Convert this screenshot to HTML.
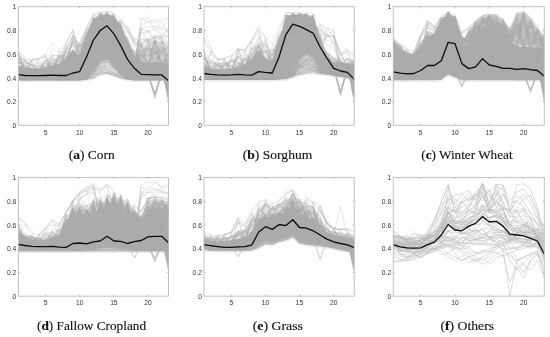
<!DOCTYPE html>
<html><head><meta charset="utf-8"><title>Figure</title>
<style>html,body{margin:0;padding:0;background:#fff}svg{display:block}</style></head>
<body>
<svg width="550" height="337" viewBox="0 0 550 337">
<rect width="550" height="337" fill="#fff"/>
<clipPath id="c0"><rect x="18.30" y="6.70" width="150.20" height="118.55"/></clipPath>
<g clip-path="url(#c0)">
<polygon fill="#ababab" fill-opacity="0.06" points="18.3,52.9 25.1,58.9 32.0,62.4 38.8,62.4 45.6,58.9 52.4,54.1 59.3,54.1 66.1,44.6 72.9,34.0 79.7,44.6 86.6,29.2 93.4,15.6 100.2,12.4 107.1,11.7 113.9,14.2 120.7,21.5 127.5,35.2 134.4,49.4 141.2,50.6 148.0,42.3 154.8,39.9 161.7,41.1 168.5,44.6 168.5,80.0 161.7,80.0 154.8,80.0 148.0,80.0 141.2,80.0 134.4,80.0 127.5,79.3 120.7,77.8 113.9,75.5 107.1,73.1 100.2,74.3 93.4,77.8 86.6,79.3 79.7,80.0 72.9,80.0 66.1,80.0 59.3,80.0 52.4,80.0 45.6,80.0 38.8,80.0 32.0,80.0 25.1,80.0 18.3,80.0"/>
<polygon fill="#ababab" fill-opacity="0.25" points="18.3,79.1 25.1,79.1 32.0,79.1 38.8,79.1 45.6,79.1 52.4,79.1 59.3,79.1 66.1,79.1 72.9,79.1 79.7,79.1 86.6,77.8 93.4,70.7 100.2,61.8 107.1,58.9 113.9,66.0 120.7,73.1 127.5,77.2 134.4,79.1 141.2,79.1 148.0,79.1 154.8,79.1 161.7,79.1 168.5,79.1 168.5,80.0 161.7,80.0 154.8,80.0 148.0,80.0 141.2,80.0 134.4,80.0 127.5,79.3 120.7,77.8 113.9,75.5 107.1,73.1 100.2,74.3 93.4,77.8 86.6,79.3 79.7,80.0 72.9,80.0 66.1,80.0 59.3,80.0 52.4,80.0 45.6,80.0 38.8,80.0 32.0,80.0 25.1,80.0 18.3,80.0"/>
<polygon fill="#ababab" fill-opacity="0.22" points="18.3,80.0 25.1,80.0 32.0,80.0 38.8,80.0 45.6,80.0 52.4,80.0 59.3,80.0 66.1,80.0 72.9,80.0 79.7,80.0 86.6,79.3 93.4,77.8 100.2,74.3 107.1,73.1 113.9,75.5 120.7,77.8 127.5,79.3 134.4,80.0 141.2,80.0 148.0,80.0 154.8,80.0 161.7,80.0 168.5,80.0 168.5,82.0 161.7,82.0 154.8,82.0 148.0,82.0 141.2,82.0 134.4,82.0 127.5,81.3 120.7,79.8 113.9,77.5 107.1,75.1 100.2,76.3 93.4,79.8 86.6,81.3 79.7,82.0 72.9,82.0 66.1,82.0 59.3,82.0 52.4,82.0 45.6,82.0 38.8,82.0 32.0,82.0 25.1,82.0 18.3,82.0"/>
<polygon fill="#ababab" fill-opacity="0.30" points="136.4,49.7 141.2,50.6 148.0,42.3 154.8,39.9 161.7,41.1 168.5,44.6 168.5,63.6 161.7,61.8 154.8,61.8 148.0,63.0 141.2,61.2 136.4,57.1"/>
<path d="M18.3 70.7L25.1 72.4L32.0 70.4L38.8 70.5L45.6 71.6L52.4 64.4L59.3 69.4L66.1 64.4L72.9 40.7L79.7 51.2L86.6 49.1L93.4 22.3L100.2 16.8L107.1 13.8L113.9 20.4L120.7 27.6L127.5 51.8L134.4 62.3L141.2 58.3L148.0 47.0L154.8 55.3L161.7 47.5L168.5 56.0M18.3 53.1L25.1 69.5L32.0 70.1L38.8 73.1L45.6 71.4L52.4 71.3L59.3 56.9L66.1 62.7L72.9 38.3L79.7 56.6L86.6 43.0L93.4 30.1L100.2 17.0L107.1 16.3L113.9 24.7L120.7 24.5L127.5 48.4L134.4 62.9L141.2 66.0L148.0 67.2L154.8 61.8L161.7 55.4L168.5 64.0M18.3 53.1L25.1 72.2L32.0 71.9L38.8 73.2L45.6 72.3L52.4 65.3L59.3 60.9L66.1 64.2L72.9 42.0L79.7 48.3L86.6 35.1L93.4 28.8L100.2 20.0L107.1 17.9L113.9 21.9L120.7 22.6L127.5 50.7L134.4 56.6L141.2 61.8L148.0 66.7L154.8 48.8L161.7 65.8L168.5 51.7M18.3 54.4L25.1 72.0L32.0 65.6L38.8 62.8L45.6 67.5L52.4 54.9L59.3 55.7L66.1 50.1L72.9 54.9L79.7 55.9L86.6 32.0L93.4 24.0L100.2 13.4L107.1 16.2L113.9 24.1L120.7 36.0L127.5 45.6L134.4 57.7L141.2 60.4L148.0 50.7L154.8 49.6L161.7 55.4L168.5 55.2M18.3 54.6L25.1 60.1L32.0 63.4L38.8 72.8L45.6 71.5L52.4 59.8L59.3 60.5L66.1 48.4L72.9 35.8L79.7 44.8L86.6 44.1L93.4 29.0L100.2 20.0L107.1 18.7L113.9 21.1L120.7 26.4L127.5 50.3L134.4 61.3L141.2 52.8L148.0 66.0L154.8 51.7L161.7 52.9L168.5 46.9M18.3 56.9L25.1 68.6L32.0 63.7L38.8 69.3L45.6 72.2L52.4 68.9L59.3 67.4L66.1 61.6L72.9 58.2L79.7 56.5L86.6 48.8L93.4 25.4L100.2 17.5L107.1 17.4L113.9 19.6L120.7 36.8L127.5 41.7L134.4 62.7L141.2 58.3L148.0 63.7L154.8 59.7L161.7 42.2L168.5 45.9M18.3 67.1L25.1 71.4L32.0 71.9L38.8 73.1L45.6 71.5L52.4 60.6L59.3 57.0L66.1 45.1L72.9 46.3L79.7 46.8L86.6 34.9L93.4 25.3L100.2 14.4L107.1 14.9L113.9 24.7L120.7 36.5L127.5 44.2L134.4 58.7L141.2 56.6L148.0 54.4L154.8 64.2L161.7 51.5L168.5 45.5M18.3 61.2L25.1 65.8L32.0 72.0L38.8 68.8L45.6 71.2L52.4 62.3L59.3 65.0L66.1 48.1L72.9 36.4L79.7 48.1L86.6 46.9L93.4 28.9L100.2 17.3L107.1 13.6L113.9 18.7L120.7 32.1L127.5 46.8L134.4 62.4L141.2 54.5L148.0 48.4L154.8 51.3L161.7 62.0L168.5 58.2M18.3 70.9L25.1 70.7L32.0 71.9L38.8 71.0L45.6 62.8L52.4 55.7L59.3 69.4L66.1 52.2L72.9 58.1L79.7 53.5L86.6 37.0L93.4 22.7L100.2 18.3L107.1 18.1L113.9 23.8L120.7 32.6L127.5 52.0L134.4 61.6L141.2 53.4L148.0 61.1L154.8 62.3L161.7 42.4L168.5 57.0M18.3 69.1L25.1 59.9L32.0 73.2L38.8 64.2L45.6 72.9L52.4 58.7L59.3 67.9L66.1 58.0L72.9 43.8L79.7 53.7L86.6 35.8L93.4 22.9L100.2 19.2L107.1 18.5L113.9 20.3L120.7 30.1L127.5 47.4L134.4 51.8L141.2 65.1L148.0 63.4L154.8 52.6L161.7 53.6L168.5 68.2M18.3 69.7L25.1 67.9L32.0 71.5L38.8 72.2L45.6 59.9L52.4 70.0L59.3 55.4L66.1 63.6L72.9 58.1L79.7 46.6L86.6 29.3L93.4 29.1L100.2 20.0L107.1 17.2L113.9 24.8L120.7 22.6L127.5 51.0L134.4 53.0L141.2 61.9L148.0 65.4L154.8 67.1L161.7 50.2L168.5 68.1M18.3 55.8L25.1 59.8L32.0 66.9L38.8 73.2L45.6 66.1L52.4 69.9L59.3 55.2L66.1 60.0L72.9 56.7L79.7 48.1L86.6 46.0L93.4 20.3L100.2 15.2L107.1 18.6L113.9 14.5L120.7 35.1L127.5 46.7L134.4 61.7L141.2 58.2L148.0 54.2L154.8 63.3L161.7 51.2L168.5 65.8M18.3 68.0L25.1 67.9L32.0 67.7L38.8 69.9L45.6 60.7L52.4 71.0L59.3 63.0L66.1 48.9L72.9 42.0L79.7 51.8L86.6 45.3L93.4 28.5L100.2 19.4L107.1 14.9L113.9 23.9L120.7 36.7L127.5 45.7L134.4 62.3L141.2 64.7L148.0 63.3L154.8 60.4L161.7 62.2L168.5 66.5M18.3 57.8L25.1 68.5L32.0 69.0L38.8 73.0L45.6 68.2L52.4 65.4L59.3 64.6L66.1 63.8L72.9 34.9L79.7 46.1L86.6 40.0L93.4 20.2L100.2 14.2L107.1 18.1L113.9 22.5L120.7 27.7L127.5 45.5L134.4 52.7L141.2 60.6L148.0 60.9L154.8 53.2L161.7 67.4L168.5 66.0M18.3 69.9L25.1 72.0L32.0 70.3L38.8 68.0L45.6 63.5L52.4 65.8L59.3 68.9L66.1 52.8L72.9 34.7L79.7 46.3L86.6 31.4L93.4 20.8L100.2 19.1L107.1 16.3L113.9 23.5L120.7 36.9L127.5 36.9L134.4 62.2L141.2 60.9L148.0 47.1L154.8 44.8L161.7 54.9L168.5 65.5M18.3 59.2L25.1 64.0L32.0 72.0L38.8 68.6L45.6 72.9L52.4 63.6L59.3 56.6L66.1 54.9L72.9 53.6L79.7 56.2L86.6 47.8L93.4 29.5L100.2 19.7L107.1 13.1L113.9 23.5L120.7 30.8L127.5 47.7L134.4 61.5L141.2 60.9L148.0 66.9L154.8 56.7L161.7 65.5L168.5 56.7M18.3 68.4L25.1 63.3L32.0 65.0L38.8 66.5L45.6 72.5L52.4 68.6L59.3 57.8L66.1 57.3L72.9 49.6L79.7 45.3L86.6 49.4L93.4 21.1L100.2 18.8L107.1 18.0L113.9 18.9L120.7 32.3L127.5 38.9L134.4 57.5L141.2 59.2L148.0 66.0L154.8 42.9L161.7 67.4L168.5 56.9M18.3 63.2L25.1 62.6L32.0 64.6L38.8 72.9L45.6 72.8L52.4 63.2L59.3 67.4L66.1 52.1L72.9 52.1L79.7 55.7L86.6 46.1L93.4 18.9L100.2 18.2L107.1 17.4L113.9 23.9L120.7 25.7L127.5 51.0L134.4 63.0L141.2 55.5L148.0 62.6L154.8 42.3L161.7 52.6L168.5 56.8M18.3 58.7L25.1 69.3L32.0 73.0L38.8 72.3L45.6 68.3L52.4 69.9L59.3 59.7L66.1 61.5L72.9 39.8L79.7 56.6L86.6 41.0L93.4 18.2L100.2 18.9L107.1 18.3L113.9 23.0L120.7 34.3L127.5 42.0L134.4 62.7L141.2 55.6L148.0 65.3L154.8 65.0L161.7 61.4L168.5 60.5M18.3 63.0L25.1 60.8L32.0 66.4L38.8 66.8L45.6 65.0L52.4 63.0L59.3 62.2L66.1 51.4L72.9 55.6L79.7 51.4L86.6 31.4L93.4 20.4L100.2 12.7L107.1 18.3L113.9 21.1L120.7 31.2L127.5 43.9L134.4 59.7L141.2 58.0L148.0 66.3L154.8 66.9L161.7 67.4L168.5 55.0M18.3 59.8L25.1 71.3L32.0 72.3L38.8 65.5L45.6 67.3L52.4 68.3L59.3 58.4L66.1 57.5L72.9 53.6L79.7 54.7L86.6 48.0L93.4 28.2L100.2 17.7L107.1 15.1L113.9 16.5L120.7 23.8L127.5 39.6L134.4 63.0L141.2 65.1L148.0 64.7L154.8 65.8L161.7 65.9L168.5 52.4M18.3 57.4L25.1 67.5L32.0 64.4L38.8 72.1L45.6 72.8L52.4 66.0L59.3 57.4L66.1 59.2L72.9 39.9L79.7 45.4L86.6 39.6L93.4 22.2L100.2 12.6L107.1 12.8L113.9 19.8L120.7 33.8L127.5 41.0L134.4 59.6L141.2 64.6L148.0 58.8L154.8 41.0L161.7 63.0L168.5 58.3M18.3 60.3L25.1 72.4L32.0 72.5L38.8 67.7L45.6 66.5L52.4 61.8L59.3 68.2L66.1 51.9L72.9 58.1L79.7 50.9L86.6 35.7L93.4 28.0L100.2 18.1L107.1 18.6L113.9 24.4L120.7 23.5L127.5 48.6L134.4 49.8L141.2 66.4L148.0 65.9L154.8 52.3L161.7 66.9L168.5 68.3M18.3 69.8L25.1 64.6L32.0 73.0L38.8 70.1L45.6 59.7L52.4 71.6L59.3 69.3L66.1 64.2L72.9 58.0L79.7 54.0L86.6 35.3L93.4 23.2L100.2 14.8L107.1 15.9L113.9 14.6L120.7 34.3L127.5 39.6L134.4 59.5L141.2 58.0L148.0 49.5L154.8 63.9L161.7 48.4L168.5 50.6M18.3 68.7L25.1 65.1L32.0 73.0L38.8 72.4L45.6 71.5L52.4 66.5L59.3 59.8L66.1 65.0L72.9 55.9L79.7 46.9L86.6 40.7L93.4 29.2L100.2 17.0L107.1 18.3L113.9 22.6L120.7 26.4L127.5 49.2L134.4 63.0L141.2 61.7L148.0 50.5L154.8 49.3L161.7 64.5L168.5 66.8M18.3 56.5L25.1 60.8L32.0 70.7L38.8 72.0L45.6 59.8L52.4 66.8L59.3 54.3L66.1 63.0L72.9 37.6L79.7 48.7L86.6 29.7L93.4 20.9L100.2 18.9L107.1 18.5L113.9 24.4L120.7 35.4L127.5 52.3L134.4 62.9L141.2 52.3L148.0 66.1L154.8 42.9L161.7 60.0L168.5 61.1M18.3 70.8L25.1 71.9L32.0 70.6L38.8 65.1L45.6 68.4L52.4 71.1L59.3 56.6L66.1 59.0L72.9 56.4L79.7 44.7L86.6 46.6L93.4 21.4L100.2 20.0L107.1 18.4L113.9 21.0L120.7 23.6L127.5 51.6L134.4 55.1L141.2 66.5L148.0 64.0L154.8 51.5L161.7 65.4L168.5 62.7M18.3 67.9L25.1 68.1L32.0 69.9L38.8 72.5L45.6 72.1L52.4 71.6L59.3 64.2L66.1 50.4L72.9 44.2L79.7 57.2L86.6 42.8L93.4 24.7L100.2 19.3L107.1 17.9L113.9 24.5L120.7 36.9L127.5 46.2L134.4 52.1L141.2 66.3L148.0 63.9L154.8 66.0L161.7 66.2L168.5 67.0M18.3 66.5L25.1 69.4L32.0 71.3L38.8 70.4L45.6 60.8L52.4 71.4L59.3 55.7L66.1 55.4L72.9 57.9L79.7 57.4L86.6 35.9L93.4 19.8L100.2 20.0L107.1 14.9L113.9 15.4L120.7 31.5L127.5 50.0L134.4 62.6L141.2 61.2L148.0 58.0L154.8 66.1L161.7 63.9L168.5 59.3M18.3 61.9L25.1 68.5L32.0 70.0L38.8 72.2L45.6 66.9L52.4 57.8L59.3 64.6L66.1 62.4L72.9 57.9L79.7 57.2L86.6 37.1L93.4 16.5L100.2 18.7L107.1 15.4L113.9 21.1L120.7 27.0L127.5 42.4L134.4 52.1L141.2 59.9L148.0 57.0L154.8 45.2L161.7 60.0L168.5 65.0M18.3 68.1L25.1 68.0L32.0 71.6L38.8 68.7L45.6 70.6L52.4 55.3L59.3 56.3L66.1 57.1L72.9 42.2L79.7 52.9L86.6 44.9L93.4 27.4L100.2 17.3L107.1 17.1L113.9 16.1L120.7 32.8L127.5 49.2L134.4 62.2L141.2 54.9L148.0 46.3L154.8 40.3L161.7 66.1L168.5 60.4M18.3 63.0L25.1 65.9L32.0 65.8L38.8 73.2L45.6 66.9L52.4 65.9L59.3 61.9L66.1 56.8L72.9 57.0L79.7 57.1L86.6 34.6L93.4 29.9L100.2 18.8L107.1 18.3L113.9 15.8L120.7 32.6L127.5 38.1L134.4 59.4L141.2 66.8L148.0 63.2L154.8 63.1L161.7 58.9L168.5 63.1M18.3 56.4L25.1 71.1L32.0 72.5L38.8 68.9L45.6 69.9L52.4 71.0L59.3 67.9L66.1 63.3L72.9 53.9L79.7 57.1L86.6 48.6L93.4 19.9L100.2 15.5L107.1 18.1L113.9 23.8L120.7 28.1L127.5 45.0L134.4 56.9L141.2 66.3L148.0 64.1L154.8 53.2L161.7 61.6L168.5 50.0M18.3 63.8L25.1 70.5L32.0 72.2L38.8 71.8L45.6 63.6L52.4 70.9L59.3 61.2L66.1 60.4L72.9 55.7L79.7 51.3L86.6 32.0L93.4 30.0L100.2 19.5L107.1 18.6L113.9 24.1L120.7 27.9L127.5 43.0L134.4 52.8L141.2 66.8L148.0 67.0L154.8 48.4L161.7 50.8L168.5 63.0M18.3 70.6L25.1 60.4L32.0 65.2L38.8 73.1L45.6 68.1L52.4 60.3L59.3 58.6L66.1 45.6L72.9 55.6L79.7 54.3L86.6 48.5L93.4 28.7L100.2 17.9L107.1 17.7L113.9 20.5L120.7 31.0L127.5 43.4L134.4 54.1L141.2 64.6L148.0 66.9L154.8 51.7L161.7 63.1L168.5 67.0M18.3 59.6L25.1 59.3L32.0 69.8L38.8 69.1L45.6 66.0L52.4 62.8L59.3 68.9L66.1 49.7L72.9 46.4L79.7 56.6L86.6 36.9L93.4 19.4L100.2 17.1L107.1 18.0L113.9 19.7L120.7 23.8L127.5 46.7L134.4 57.3L141.2 66.0L148.0 66.6L154.8 65.2L161.7 47.5L168.5 62.3M18.3 79.1L25.1 79.0L32.0 79.0L38.8 79.2L45.6 78.9L52.4 79.2L59.3 79.4L66.1 79.0L72.9 79.2L79.7 79.4L86.6 77.7L93.4 71.8L100.2 62.5L107.1 62.2L113.9 69.6L120.7 74.9L127.5 76.6L134.4 79.2L141.2 79.6L148.0 79.2L154.8 79.7L161.7 79.4L168.5 79.1M18.3 78.9L25.1 78.9L32.0 78.9L38.8 78.9L45.6 79.3L52.4 79.4L59.3 79.2L66.1 79.1L72.9 79.0L79.7 78.9L86.6 78.2L93.4 72.8L100.2 64.1L107.1 58.6L113.9 63.6L120.7 74.0L127.5 77.8L134.4 79.1L141.2 79.3L148.0 79.0L154.8 79.2L161.7 79.0L168.5 79.0M18.3 79.4L25.1 79.7L32.0 79.3L38.8 79.2L45.6 79.3L52.4 79.1L59.3 79.3L66.1 79.4L72.9 79.3L79.7 79.5L86.6 77.9L93.4 70.6L100.2 60.6L107.1 57.7L113.9 63.1L120.7 72.2L127.5 77.5L134.4 79.3L141.2 79.4L148.0 79.4L154.8 79.5L161.7 79.1L168.5 79.1M18.3 78.9L25.1 79.3L32.0 79.2L38.8 79.5L45.6 79.6L52.4 79.3L59.3 79.3L66.1 79.5L72.9 79.3L79.7 79.2L86.6 77.8L93.4 70.8L100.2 61.0L107.1 59.0L113.9 68.5L120.7 75.4L127.5 77.8L134.4 79.3L141.2 79.4L148.0 79.2L154.8 79.0L161.7 79.3L168.5 79.0M18.3 79.4L25.1 79.4L32.0 79.7L38.8 79.7L45.6 79.7L52.4 79.6L59.3 79.7L66.1 79.5L72.9 79.7L79.7 79.7L86.6 78.4L93.4 77.2L100.2 74.3L107.1 71.7L113.9 75.5L120.7 77.8L127.5 79.3L134.4 80.0L141.2 80.0L148.0 79.8L154.8 80.0L161.7 79.8L168.5 79.8M18.3 79.5L25.1 79.6L32.0 79.3L38.8 79.4L45.6 79.4L52.4 79.7L59.3 79.8L66.1 79.7L72.9 79.8L79.7 79.5L86.6 78.9L93.4 73.7L100.2 67.5L107.1 67.3L113.9 68.1L120.7 73.5L127.5 76.8L134.4 79.2L141.2 79.3L148.0 79.3L154.8 79.4L161.7 79.0L168.5 79.2M18.3 79.9L25.1 79.8L32.0 79.9L38.8 79.5L45.6 79.4L52.4 79.7L59.3 79.9L66.1 80.0L72.9 79.6L79.7 79.9L86.6 78.9L93.4 75.5L100.2 69.5L107.1 70.5L113.9 75.5L120.7 76.2L127.5 78.9L134.4 79.8L141.2 79.6L148.0 79.9L154.8 79.6L161.7 79.6L168.5 79.6M18.3 79.5L25.1 79.5L32.0 79.5L38.8 78.9L45.6 79.4L52.4 79.5L59.3 79.6L66.1 79.4L72.9 79.3L79.7 79.4L86.6 78.8L93.4 74.5L100.2 71.9L107.1 59.0L113.9 67.0L120.7 74.7L127.5 78.0L134.4 79.1L141.2 79.2L148.0 79.6L154.8 79.3L161.7 79.2L168.5 79.1M18.3 79.2L25.1 79.6L32.0 79.8L38.8 79.2L45.6 79.2L52.4 79.1L59.3 79.2L66.1 78.9L72.9 78.9L79.7 79.1L86.6 77.7L93.4 72.9L100.2 64.2L107.1 62.4L113.9 67.1L120.7 74.8L127.5 78.4L134.4 79.4L141.2 79.3L148.0 79.4L154.8 79.4L161.7 79.5L168.5 79.4M18.3 79.8L25.1 79.6L32.0 79.8L38.8 79.6L45.6 79.6L52.4 79.8L59.3 79.9L66.1 79.8L72.9 80.0L79.7 79.8L86.6 78.6L93.4 77.0L100.2 71.3L107.1 73.1L113.9 73.4L120.7 77.5L127.5 79.2L134.4 79.3L141.2 79.3L148.0 79.3L154.8 79.8L161.7 79.4L168.5 79.8M18.3 78.9L25.1 79.0L32.0 79.0L38.8 79.2L45.6 79.3L52.4 79.3L59.3 79.2L66.1 79.5L72.9 79.4L79.7 79.5L86.6 78.3L93.4 74.2L100.2 67.9L107.1 58.6L113.9 67.2L120.7 75.3L127.5 78.4L134.4 79.3L141.2 79.6L148.0 79.5L154.8 79.5L161.7 79.2L168.5 79.3M18.3 79.6L25.1 79.7L32.0 79.4L38.8 79.5L45.6 79.4L52.4 79.3L59.3 79.7L66.1 79.4L72.9 79.3L79.7 79.3L86.6 78.0L93.4 74.1L100.2 68.4L107.1 70.2L113.9 72.6L120.7 75.0L127.5 78.5L134.4 79.4L141.2 79.4L148.0 79.4L154.8 79.4L161.7 79.7L168.5 79.5M18.3 80.0L25.1 80.0L32.0 80.0L38.8 79.8L45.6 80.0L52.4 80.0L59.3 80.0L66.1 80.0L72.9 80.0L79.7 80.0L86.6 79.2L93.4 77.8L100.2 71.6L107.1 69.0L113.9 72.3L120.7 75.6L127.5 78.4L134.4 80.0L141.2 80.0L148.0 80.0L154.8 80.0L161.7 79.7L168.5 79.7M18.3 80.0L25.1 79.9L32.0 80.0L38.8 79.5L45.6 79.6L52.4 79.8L59.3 79.9L66.1 79.6L72.9 79.8L79.7 79.9L86.6 78.8L93.4 77.8L100.2 74.0L107.1 72.8L113.9 74.2L120.7 77.8L127.5 79.3L134.4 80.0L141.2 80.0L148.0 79.9L154.8 79.9L161.7 80.0L168.5 79.9M18.3 79.3L25.1 79.6L32.0 79.5L38.8 79.3L45.6 79.6L52.4 79.4L59.3 79.3L66.1 79.9L72.9 79.2L79.7 79.2L86.6 77.6L93.4 72.9L100.2 61.5L107.1 59.8L113.9 67.5L120.7 73.3L127.5 77.3L134.4 79.1L141.2 79.0L148.0 78.9L154.8 79.1L161.7 79.1L168.5 78.9M18.3 79.8L25.1 80.0L32.0 79.9L38.8 79.9L45.6 80.0L52.4 79.9L59.3 80.0L66.1 80.0L72.9 80.0L79.7 80.0L86.6 78.7L93.4 74.3L100.2 74.3L107.1 73.1L113.9 75.5L120.7 77.8L127.5 79.3L134.4 80.0L141.2 79.9L148.0 79.9L154.8 79.5L161.7 79.6L168.5 79.9M18.3 79.5L25.1 79.4L32.0 79.3L38.8 79.1L45.6 79.0L52.4 79.3L59.3 79.5L66.1 79.3L72.9 79.5L79.7 79.3L86.6 78.4L93.4 69.8L100.2 65.7L107.1 70.0L113.9 73.3L120.7 75.7L127.5 78.4L134.4 79.5L141.2 79.5L148.0 79.5L154.8 79.5L161.7 79.4L168.5 79.4M18.3 79.1L25.1 79.1L32.0 79.1L38.8 78.9L45.6 79.4L52.4 79.2L59.3 78.9L66.1 79.0L72.9 79.1L79.7 79.2L86.6 78.6L93.4 72.6L100.2 63.1L107.1 57.5L113.9 65.8L120.7 72.7L127.5 77.3L134.4 79.8L141.2 79.6L148.0 79.2L154.8 79.6L161.7 79.6L168.5 79.5M18.3 79.1L25.1 79.2L32.0 79.1L38.8 79.0L45.6 79.1L52.4 78.9L59.3 79.2L66.1 79.3L72.9 78.9L79.7 79.0L86.6 77.6L93.4 71.3L100.2 69.0L107.1 61.8L113.9 67.0L120.7 72.5L127.5 77.3L134.4 79.3L141.2 79.3L148.0 79.3L154.8 79.0L161.7 79.1L168.5 78.9M18.3 79.1L25.1 79.0L32.0 78.9L38.8 78.9L45.6 78.9L52.4 78.9L59.3 78.9L66.1 79.0L72.9 78.9L79.7 78.9L86.6 77.8L93.4 68.6L100.2 62.1L107.1 56.4L113.9 66.7L120.7 72.7L127.5 77.3L134.4 79.2L141.2 79.2L148.0 78.9L154.8 78.9L161.7 78.9L168.5 79.3M18.3 79.3L25.1 79.5L32.0 79.7L38.8 79.8L45.6 79.6L52.4 79.0L59.3 79.5L66.1 79.5L72.9 79.3L79.7 79.6L86.6 78.1L93.4 71.7L100.2 64.2L107.1 61.9L113.9 68.0L120.7 71.8L127.5 76.6L134.4 79.1L141.2 79.3L148.0 79.3L154.8 79.1L161.7 79.0L168.5 78.9M18.3 79.6L25.1 79.2L32.0 79.2L38.8 79.2L45.6 79.1L52.4 79.0L59.3 79.0L66.1 79.2L72.9 79.6L79.7 79.4L86.6 79.0L93.4 71.8L100.2 65.1L107.1 58.5L113.9 66.6L120.7 74.0L127.5 77.9L134.4 79.6L141.2 79.4L148.0 79.1L154.8 79.2L161.7 79.3L168.5 79.2M18.3 79.3L25.1 79.0L32.0 78.9L38.8 78.9L45.6 79.3L52.4 79.0L59.3 79.3L66.1 79.3L72.9 79.4L79.7 79.0L86.6 77.9L93.4 71.9L100.2 63.3L107.1 61.8L113.9 64.7L120.7 74.6L127.5 77.1L134.4 79.1L141.2 79.3L148.0 79.4L154.8 79.6L161.7 79.4L168.5 79.1M18.3 79.8L25.1 79.8L32.0 79.6L38.8 79.6L45.6 79.5L52.4 79.5L59.3 79.6L66.1 79.5L72.9 79.8L79.7 79.7L86.6 78.9L93.4 76.6L100.2 74.3L107.1 73.1L113.9 74.8L120.7 76.8L127.5 78.3L134.4 79.6L141.2 79.8L148.0 79.8L154.8 79.7L161.7 79.4L168.5 79.3M18.3 78.9L25.1 79.2L32.0 79.1L38.8 79.0L45.6 79.3L52.4 79.3L59.3 79.0L66.1 79.4L72.9 79.2L79.7 79.4L86.6 77.8L93.4 68.6L100.2 58.4L107.1 60.4L113.9 63.1L120.7 71.7L127.5 77.4L134.4 79.7L141.2 79.4L148.0 79.1L154.8 79.1L161.7 79.0L168.5 79.4M18.3 79.5L25.1 79.2L32.0 79.2L38.8 79.6L45.6 79.2L52.4 79.6L59.3 79.5L66.1 79.2L72.9 79.3L79.7 79.4L86.6 77.9L93.4 68.6L100.2 62.1L107.1 56.8L113.9 67.4L120.7 71.8L127.5 77.1L134.4 79.0L141.2 78.9L148.0 79.1L154.8 79.2L161.7 79.2L168.5 79.0M18.3 79.7L25.1 79.6L32.0 79.7L38.8 79.8L45.6 79.8L52.4 79.6L59.3 80.0L66.1 80.0L72.9 79.8L79.7 79.7L86.6 78.6L93.4 72.4L100.2 66.5L107.1 66.5L113.9 70.8L120.7 74.7L127.5 76.7L134.4 78.9L141.2 79.5L148.0 79.2L154.8 79.6L161.7 79.8L168.5 79.7M18.3 79.9L25.1 79.9L32.0 80.0L38.8 80.0L45.6 80.0L52.4 80.0L59.3 79.9L66.1 79.7L72.9 79.8L79.7 80.0L86.6 79.3L93.4 77.8L100.2 72.2L107.1 73.1L113.9 74.1L120.7 77.6L127.5 79.3L134.4 79.8L141.2 79.8L148.0 79.6L154.8 79.9L161.7 79.7L168.5 79.7M18.3 79.9L25.1 80.0L32.0 79.9L38.8 79.8L45.6 79.7L52.4 79.9L59.3 79.6L66.1 79.8L72.9 79.7L79.7 79.9L86.6 79.0L93.4 74.9L100.2 68.6L107.1 61.6L113.9 68.1L120.7 74.6L127.5 78.8L134.4 79.7L141.2 79.7L148.0 79.7L154.8 79.4L161.7 79.7L168.5 80.0M18.3 79.3L25.1 79.1L32.0 79.1L38.8 79.3L45.6 79.1L52.4 79.2L59.3 78.9L66.1 78.9L72.9 78.9L79.7 78.9L86.6 77.9L93.4 71.5L100.2 61.1L107.1 60.7L113.9 65.9L120.7 73.5L127.5 77.5L134.4 79.3L141.2 78.9L148.0 78.9L154.8 79.1L161.7 79.1L168.5 79.6M18.3 79.6L25.1 79.7L32.0 79.6L38.8 79.6L45.6 79.7L52.4 79.5L59.3 79.6L66.1 79.9L72.9 79.6L79.7 79.9L86.6 79.3L93.4 77.8L100.2 70.5L107.1 73.1L113.9 75.5L120.7 77.8L127.5 79.3L134.4 79.8L141.2 79.9L148.0 79.8L154.8 79.6L161.7 79.5L168.5 79.5M18.3 79.4L25.1 79.4L32.0 79.2L38.8 79.2L45.6 79.2L52.4 79.4L59.3 79.3L66.1 80.0L72.9 79.4L79.7 79.6L86.6 78.3L93.4 72.6L100.2 68.2L107.1 64.8L113.9 66.7L120.7 74.5L127.5 77.8L134.4 79.0L141.2 79.2L148.0 79.1L154.8 79.1L161.7 79.3L168.5 79.4M18.3 79.6L25.1 79.2L32.0 79.3L38.8 79.7L45.6 79.8L52.4 79.6L59.3 79.6L66.1 79.4L72.9 79.6L79.7 79.3L86.6 78.4L93.4 73.1L100.2 62.6L107.1 61.1L113.9 67.3L120.7 73.0L127.5 77.5L134.4 79.1L141.2 79.4L148.0 79.4L154.8 79.6L161.7 79.6L168.5 79.5M18.3 79.1L25.1 79.5L32.0 79.5L38.8 79.7L45.6 79.7L52.4 79.7L59.3 79.8L66.1 79.5L72.9 79.6L79.7 79.4L86.6 78.1L93.4 74.6L100.2 73.7L107.1 64.5L113.9 73.3L120.7 76.6L127.5 77.9L134.4 79.5L141.2 79.5L148.0 79.5L154.8 79.4L161.7 79.1L168.5 79.3M18.3 69.8L25.1 71.3L32.0 72.0L38.8 72.0L45.6 71.7L52.4 70.4L59.3 50.2L66.1 64.2L72.9 57.1L79.7 56.2L86.6 48.2L93.4 28.9L100.2 18.9L107.1 17.5L113.9 23.6L120.7 35.7L127.5 51.2L134.4 61.8L141.2 65.7L148.0 66.0L154.8 66.0L161.7 66.3L168.5 67.2M18.3 51.5L25.1 58.2L32.0 61.2L38.8 72.0L45.6 71.7L52.4 70.4L59.3 68.3L66.1 64.2L72.9 57.1L79.7 56.2L86.6 48.2L93.4 28.9L100.2 18.9L107.1 17.5L113.9 23.6L120.7 35.7L127.5 51.2L134.4 61.8L141.2 65.7L148.0 66.0L154.8 66.0L161.7 66.3L168.5 67.2M18.3 69.8L25.1 71.3L32.0 72.0L38.8 72.0L45.6 71.7L52.4 70.4L59.3 68.3L66.1 64.2L72.9 57.1L79.7 56.2L86.6 48.2L93.4 28.9L100.2 18.9L107.1 17.5L113.9 23.6L120.7 35.7L127.5 51.2L134.4 61.8L141.2 46.4L148.0 66.0L154.8 66.0L161.7 66.3L168.5 67.2M18.3 69.8L25.1 71.3L32.0 72.0L38.8 72.0L45.6 71.7L52.4 70.4L59.3 68.3L66.1 64.2L72.9 57.1L79.7 56.2L86.6 48.2L93.4 28.9L100.2 18.9L107.1 17.5L113.9 23.6L120.7 20.9L127.5 32.3L134.4 42.3L141.2 45.4L148.0 40.4L154.8 37.7L161.7 66.3L168.5 67.2M18.3 69.8L25.1 71.3L32.0 72.0L38.8 72.0L45.6 71.7L52.4 70.4L59.3 68.3L66.1 64.2L72.9 57.1L79.7 56.2L86.6 48.2L93.4 28.9L100.2 18.9L107.1 17.5L113.9 23.6L120.7 20.5L127.5 27.6L134.4 40.8L141.2 44.9L148.0 66.0L154.8 66.0L161.7 66.3L168.5 67.2M18.3 69.8L25.1 71.3L32.0 72.0L38.8 72.0L45.6 71.7L52.4 70.4L59.3 68.3L66.1 43.1L72.9 30.9L79.7 56.2L86.6 48.2L93.4 28.9L100.2 18.9L107.1 17.5L113.9 23.6L120.7 35.7L127.5 51.2L134.4 61.8L141.2 65.7L148.0 66.0L154.8 66.0L161.7 66.3L168.5 67.2M18.3 69.8L25.1 71.3L32.0 72.0L38.8 72.0L45.6 71.7L52.4 70.4L59.3 68.3L66.1 64.2L72.9 57.1L79.7 42.9L86.6 28.4L93.4 14.6L100.2 18.9L107.1 17.5L113.9 23.6L120.7 35.7L127.5 51.2L134.4 37.9L141.2 43.3L148.0 66.0L154.8 66.0L161.7 66.3L168.5 67.2M18.3 69.8L25.1 71.3L32.0 72.0L38.8 72.0L45.6 71.7L52.4 70.4L59.3 68.3L66.1 64.2L72.9 57.1L79.7 56.2L86.6 48.2L93.4 28.9L100.2 18.9L107.1 17.5L113.9 13.7L120.7 20.7L127.5 30.1L134.4 45.8L141.2 48.2L148.0 66.0L154.8 66.0L161.7 66.3L168.5 67.2M18.3 69.8L25.1 71.3L32.0 72.0L38.8 72.0L45.6 71.7L52.4 70.4L59.3 68.3L66.1 64.2L72.9 57.1L79.7 56.2L86.6 48.2L93.4 28.9L100.2 18.9L107.1 17.5L113.9 23.6L120.7 35.7L127.5 51.2L134.4 61.8L141.2 42.7L148.0 37.5L154.8 35.9L161.7 36.6L168.5 67.2M18.3 69.8L25.1 71.3L32.0 60.8L38.8 61.4L45.6 71.7L52.4 70.4L59.3 68.3L66.1 64.2L72.9 57.1L79.7 42.0L86.6 27.6L93.4 14.9L100.2 12.1L107.1 11.3L113.9 13.6L120.7 35.7L127.5 51.2L134.4 61.8L141.2 65.7L148.0 66.0L154.8 66.0L161.7 66.3L168.5 67.2M18.3 69.8L25.1 71.3L32.0 72.0L38.8 72.0L45.6 71.7L52.4 70.4L59.3 68.3L66.1 64.2L72.9 57.1L79.7 56.2L86.6 48.2L93.4 28.9L100.2 18.9L107.1 17.5L113.9 23.6L120.7 35.7L127.5 31.7L134.4 43.8L141.2 45.5L148.0 38.6L154.8 37.8L161.7 66.3L168.5 67.2M18.3 69.8L25.1 71.3L32.0 72.0L38.8 72.0L45.6 71.7L52.4 70.4L59.3 68.3L66.1 64.2L72.9 57.1L79.7 56.2L86.6 48.2L93.4 28.9L100.2 18.9L107.1 17.5L113.9 23.6L120.7 35.7L127.5 51.2L134.4 44.4L141.2 46.7L148.0 38.6L154.8 66.0L161.7 66.3L168.5 67.2M18.3 50.8L25.1 71.3L32.0 72.0L38.8 72.0L45.6 71.7L52.4 70.4L59.3 68.3L66.1 64.2L72.9 57.1L79.7 56.2L86.6 48.2L93.4 28.9L100.2 18.9L107.1 17.5L113.9 23.6L120.7 35.7L127.5 51.2L134.4 61.8L141.2 65.7L148.0 66.0L154.8 66.0L161.7 66.3L168.5 67.2M18.3 51.3L25.1 57.1L32.0 60.2L38.8 58.6L45.6 71.7L52.4 70.4L59.3 68.3L66.1 64.2L72.9 57.1L79.7 56.2L86.6 48.2L93.4 28.9L100.2 18.9L107.1 17.5L113.9 23.6L120.7 35.7L127.5 51.2L134.4 61.8L141.2 65.7L148.0 66.0L154.8 66.0L161.7 66.3L168.5 67.2M18.3 69.8L25.1 71.3L32.0 72.0L38.8 72.0L45.6 71.7L52.4 70.4L59.3 68.3L66.1 64.2L72.9 57.1L79.7 56.2L86.6 48.2L93.4 28.9L100.2 18.9L107.1 17.5L113.9 23.6L120.7 20.3L127.5 30.8L134.4 41.4L141.2 47.6L148.0 41.8L154.8 37.7L161.7 40.5L168.5 67.2M18.3 69.8L25.1 71.3L32.0 72.0L38.8 72.0L45.6 71.7L52.4 70.4L59.3 68.3L66.1 64.2L72.9 57.1L79.7 42.1L86.6 27.6L93.4 14.7L100.2 11.8L107.1 17.5L113.9 23.6L120.7 35.7L127.5 51.2L134.4 61.8L141.2 65.7L148.0 66.0L154.8 66.0L161.7 66.3L168.5 67.2M18.3 69.8L25.1 71.3L32.0 72.0L38.8 72.0L45.6 55.7L52.4 70.4L59.3 68.3L66.1 64.2L72.9 57.1L79.7 56.2L86.6 48.2L93.4 28.9L100.2 18.9L107.1 17.5L113.9 23.6L120.7 35.7L127.5 51.2L134.4 61.8L141.2 65.7L148.0 66.0L154.8 66.0L161.7 66.3L168.5 67.2M18.3 69.8L25.1 71.3L32.0 72.0L38.8 72.0L45.6 71.7L52.4 70.4L59.3 68.3L66.1 64.2L72.9 57.1L79.7 56.2L86.6 48.2L93.4 28.9L100.2 18.9L107.1 11.3L113.9 12.9L120.7 18.2L127.5 27.9L134.4 41.5L141.2 43.6L148.0 39.0L154.8 66.0L161.7 66.3L168.5 67.2M18.3 69.8L25.1 71.3L32.0 72.0L38.8 72.0L45.6 71.7L52.4 70.4L59.3 68.3L66.1 64.2L72.9 57.1L79.7 56.2L86.6 48.2L93.4 28.9L100.2 18.9L107.1 17.5L113.9 23.6L120.7 35.7L127.5 51.2L134.4 61.8L141.2 65.7L148.0 66.0L154.8 38.3L161.7 66.3L168.5 67.2M18.3 69.8L25.1 71.3L32.0 59.1L38.8 58.3L45.6 56.2L52.4 70.4L59.3 68.3L66.1 64.2L72.9 57.1L79.7 56.2L86.6 48.2L93.4 28.9L100.2 18.9L107.1 17.5L113.9 23.6L120.7 35.7L127.5 51.2L134.4 61.8L141.2 65.7L148.0 66.0L154.8 66.0L161.7 66.3L168.5 67.2M18.3 69.8L25.1 71.3L32.0 72.0L38.8 72.0L45.6 71.7L52.4 70.4L59.3 68.3L66.1 64.2L72.9 57.1L79.7 56.2L86.6 48.2L93.4 28.9L100.2 18.9L107.1 17.5L113.9 23.6L120.7 35.7L127.5 51.2L134.4 61.8L141.2 65.7L148.0 39.7L154.8 66.0L161.7 66.3L168.5 67.2M18.3 69.8L25.1 71.3L32.0 72.0L38.8 59.5L45.6 56.9L52.4 70.4L59.3 68.3L66.1 64.2L72.9 57.1L79.7 56.2L86.6 48.2L93.4 28.9L100.2 18.9L107.1 17.5L113.9 23.6L120.7 35.7L127.5 25.7L134.4 38.4L141.2 42.7L148.0 66.0L154.8 66.0L161.7 66.3L168.5 67.2M18.3 69.8L25.1 71.3L32.0 59.5L38.8 59.4L45.6 54.6L52.4 70.4L59.3 68.3L66.1 64.2L72.9 57.1L79.7 56.2L86.6 48.2L93.4 28.9L100.2 18.9L107.1 17.5L113.9 23.6L120.7 35.7L127.5 51.2L134.4 61.8L141.2 65.7L148.0 66.0L154.8 66.0L161.7 66.3L168.5 67.2M18.3 69.8L25.1 71.3L32.0 59.8L38.8 58.3L45.6 54.7L52.4 42.7L59.3 49.9L66.1 42.3L72.9 29.5L79.7 56.2L86.6 48.2L93.4 28.9L100.2 18.9L107.1 17.5L113.9 23.6L120.7 35.7L127.5 51.2L134.4 61.8L141.2 65.7L148.0 66.0L154.8 37.5L161.7 38.5L168.5 42.4M18.3 69.8L25.1 71.3L32.0 72.0L38.8 72.0L45.6 71.7L52.4 70.4L59.3 68.3L66.1 64.2L72.9 57.1L79.7 56.2L86.6 48.2L93.4 28.9L100.2 18.9L107.1 17.5L113.9 23.6L120.7 35.7L127.5 51.2L134.4 61.8L141.2 43.8L148.0 40.0L154.8 37.0L161.7 37.7L168.5 67.2M18.3 69.8L25.1 71.3L32.0 72.0L38.8 72.0L45.6 71.7L52.4 48.6L59.3 52.6L66.1 43.9L72.9 31.2L79.7 56.2L86.6 48.2L93.4 28.9L100.2 18.9L107.1 17.5L113.9 23.6L120.7 35.7L127.5 51.2L134.4 61.8L141.2 65.7L148.0 66.0L154.8 66.0L161.7 66.3L168.5 67.2M134.4 64.7L141.2 39.5L148.0 40.8L154.8 42.1L161.7 36.8L168.5 37.1M134.4 64.7L141.2 51.3L148.0 47.4L154.8 50.7L161.7 50.8L168.5 54.9M134.4 64.7L141.2 17.5L148.0 22.6L154.8 21.7L161.7 19.9L168.5 17.4M134.4 64.7L141.2 28.9L148.0 43.9L154.8 34.9L161.7 37.7L168.5 31.4M134.4 64.7L141.2 51.0L148.0 45.2L154.8 41.9L161.7 48.8L168.5 47.5M134.4 64.7L141.2 44.1L148.0 50.3L154.8 48.4L161.7 49.8L168.5 51.6M134.4 64.7L141.2 49.5L148.0 52.6L154.8 53.9L161.7 41.9L168.5 42.4M134.4 64.7L141.2 39.2L148.0 38.9L154.8 42.3L161.7 43.5L168.5 34.8M134.4 64.7L141.2 28.3L148.0 32.0L154.8 29.7L161.7 34.7L168.5 29.0M134.4 64.7L141.2 28.0L148.0 26.7L154.8 26.2L161.7 34.9L168.5 30.1M134.4 64.7L141.2 25.6L148.0 21.2L154.8 19.8L161.7 29.8L168.5 27.6M134.4 64.7L141.2 55.3L148.0 54.5L154.8 57.7L161.7 54.7L168.5 53.1M134.4 64.7L141.2 28.9L148.0 31.4L154.8 36.9L161.7 35.6L168.5 35.9M134.4 64.7L141.2 20.1L148.0 17.4L154.8 30.7L161.7 21.4L168.5 33.5M134.4 64.7L141.2 33.2L148.0 32.2L154.8 26.1L161.7 29.0L168.5 18.2M134.4 64.7L141.2 38.9L148.0 30.0L154.8 42.3L161.7 36.6L168.5 43.9M134.4 64.7L141.2 55.2L148.0 61.1L154.8 58.1L161.7 59.6L168.5 59.6M134.4 64.7L141.2 48.0L148.0 43.9L154.8 53.0L161.7 49.9L168.5 46.1M134.4 64.7L141.2 55.6L148.0 55.7L154.8 58.1L161.7 54.8L168.5 54.3M134.4 64.7L141.2 47.4L148.0 49.1L154.8 48.1L161.7 46.2L168.5 51.7M134.4 64.7L141.2 53.8L148.0 47.8L154.8 55.2L161.7 46.1L168.5 58.7M134.4 64.7L141.2 51.2L148.0 55.9L154.8 47.1L161.7 52.1L168.5 54.1M134.4 64.7L141.2 53.8L148.0 56.5L154.8 45.2L161.7 51.7L168.5 56.9M134.4 64.7L141.2 45.6L148.0 54.6L154.8 51.8L161.7 52.9L168.5 47.4M134.4 64.7L141.2 45.0L148.0 52.3L154.8 50.1L161.7 39.5L168.5 52.2M134.4 64.7L141.2 49.4L148.0 52.7L154.8 58.2L161.7 57.1L168.5 57.1" fill="none" stroke="#ababab" stroke-width="0.5" stroke-opacity="0.5" stroke-linejoin="round"/>
<polygon fill="#ababab" fill-opacity="1.00" points="18.3,65.4 21.7,66.4 25.1,67.2 28.5,67.8 32.0,68.3 35.4,68.5 38.8,68.6 42.2,68.2 45.6,67.8 49.0,67.0 52.4,66.0 55.8,65.0 59.3,63.6 62.7,61.1 66.1,57.7 69.5,54.2 72.9,49.4 76.3,53.0 79.7,55.9 83.2,45.6 86.6,33.4 90.0,26.3 93.4,17.4 96.8,18.4 100.2,13.2 103.6,16.0 107.1,12.3 110.5,15.8 113.9,15.6 117.3,21.6 120.7,24.5 124.1,34.1 127.5,39.9 130.9,48.2 134.4,55.3 137.8,58.6 141.2,61.2 144.6,62.3 148.0,63.0 151.4,62.7 154.8,61.8 158.3,62.2 161.7,61.8 165.1,63.1 168.5,63.6 168.5,79.1 161.7,79.1 154.8,79.1 148.0,79.1 141.2,79.1 134.4,79.1 127.5,77.2 120.7,73.1 113.9,66.0 107.1,58.9 100.2,61.8 93.4,70.7 86.6,77.8 79.7,79.1 72.9,79.1 66.1,79.1 59.3,79.1 52.4,79.1 45.6,79.1 38.8,79.1 32.0,79.1 25.1,79.1 18.3,79.1"/>
<path d="M148.0 73.8L154.8 98.0L161.7 73.8M148.0 73.8L154.8 96.2L161.7 73.8M148.0 73.8L154.8 94.4L161.7 73.8M148.0 73.8L154.8 92.6L161.7 73.8M161.7 65.4L168.5 101.5M161.7 65.4L168.5 98.0M161.7 65.4L168.5 94.4M161.7 65.4L168.5 90.9M161.7 65.4L168.5 87.3M161.7 65.4L168.5 83.8" fill="none" stroke="#ababab" stroke-width="0.6" stroke-linejoin="miter"/>
<polygon fill="#ababab" fill-opacity="0.85" points="163.7,79.1 168.5,100.4 168.5,79.1"/>
<path d="M18.3 74.6L25.1 75.5L32.0 75.7L38.8 75.7L45.6 75.5L52.4 75.2L59.3 75.5L66.1 75.5L72.9 73.0L79.7 71.6L86.6 56.7L93.4 40.1L100.2 30.5L107.1 25.8L113.9 33.8L120.7 45.6L127.5 59.4L134.4 68.3L141.2 74.3L148.0 74.6L154.8 74.9L161.7 74.9L168.5 80.7" fill="none" stroke="#0c0c0c" stroke-width="1.3" stroke-linejoin="round"/>
</g>
<clipPath id="c1"><rect x="204.00" y="6.70" width="150.20" height="118.55"/></clipPath>
<g clip-path="url(#c1)">
<polygon fill="#ababab" fill-opacity="0.06" points="204.0,48.2 210.8,58.9 217.7,61.8 224.5,61.2 231.3,58.9 238.1,54.1 245.0,52.9 251.8,44.6 258.6,35.5 265.4,41.1 272.3,48.2 279.1,32.8 285.9,13.6 292.8,13.1 299.6,13.1 306.4,13.1 313.2,14.1 320.1,32.8 326.9,50.6 333.7,57.1 340.5,57.7 347.4,57.7 354.2,59.5 354.2,79.0 347.4,77.6 340.5,76.4 333.7,75.2 326.9,74.3 320.1,73.7 313.2,73.1 306.4,73.1 299.6,74.3 292.8,76.6 285.9,78.7 279.1,79.0 272.3,79.5 265.4,79.5 258.6,79.5 251.8,79.5 245.0,79.5 238.1,79.5 231.3,79.5 224.5,79.5 217.7,79.5 210.8,79.5 204.0,79.5"/>
<polygon fill="#ababab" fill-opacity="0.38" points="204.0,78.5 210.8,78.5 217.7,78.5 224.5,78.5 231.3,78.5 238.1,78.5 245.0,78.5 251.8,78.5 258.6,78.5 265.4,78.5 272.3,78.5 279.1,77.8 285.9,76.6 292.8,71.9 299.6,60.0 306.4,54.1 313.2,57.7 320.1,68.3 326.9,72.3 333.7,73.6 340.5,74.9 347.4,76.2 354.2,77.8 354.2,79.0 347.4,77.6 340.5,76.4 333.7,75.2 326.9,74.3 320.1,73.7 313.2,73.1 306.4,73.1 299.6,74.3 292.8,76.6 285.9,78.7 279.1,79.0 272.3,79.5 265.4,79.5 258.6,79.5 251.8,79.5 245.0,79.5 238.1,79.5 231.3,79.5 224.5,79.5 217.7,79.5 210.8,79.5 204.0,79.5"/>
<polygon fill="#ababab" fill-opacity="0.22" points="204.0,79.5 210.8,79.5 217.7,79.5 224.5,79.5 231.3,79.5 238.1,79.5 245.0,79.5 251.8,79.5 258.6,79.5 265.4,79.5 272.3,79.5 279.1,79.0 285.9,78.7 292.8,76.6 299.6,74.3 306.4,73.1 313.2,73.1 320.1,73.7 326.9,74.3 333.7,75.2 340.5,76.4 347.4,77.6 354.2,79.0 354.2,81.0 347.4,79.6 340.5,78.4 333.7,77.2 326.9,76.3 320.1,75.7 313.2,75.1 306.4,75.1 299.6,76.3 292.8,78.7 285.9,80.7 279.1,81.0 272.3,81.5 265.4,81.5 258.6,81.5 251.8,81.5 245.0,81.5 238.1,81.5 231.3,81.5 224.5,81.5 217.7,81.5 210.8,81.5 204.0,81.5"/>
<path d="M204.0 59.1L210.8 66.7L217.7 65.6L224.5 67.3L231.3 72.8L238.1 70.5L245.0 69.0L251.8 48.0L258.6 54.6L265.4 63.3L272.3 62.3L279.1 49.3L285.9 23.8L292.8 17.8L299.6 18.2L306.4 15.9L313.2 15.1L320.1 42.3L326.9 51.2L333.7 65.7L340.5 63.5L347.4 64.1L354.2 65.8M204.0 71.6L210.8 73.7L217.7 67.1L224.5 73.9L231.3 73.1L238.1 69.4L245.0 68.4L251.8 65.1L258.6 45.9L265.4 50.3L272.3 63.1L279.1 54.2L285.9 27.4L292.8 14.9L299.6 16.2L306.4 14.9L313.2 30.9L320.1 50.8L326.9 63.1L333.7 66.0L340.5 61.9L347.4 67.9L354.2 64.0M204.0 68.0L210.8 72.9L217.7 65.1L224.5 65.3L231.3 64.9L238.1 71.9L245.0 69.6L251.8 60.0L258.6 51.2L265.4 50.6L272.3 63.8L279.1 47.7L285.9 29.7L292.8 15.5L299.6 17.1L306.4 16.3L313.2 22.9L320.1 33.3L326.9 59.6L333.7 67.0L340.5 65.3L347.4 68.7L354.2 68.2M204.0 71.3L210.8 62.6L217.7 66.2L224.5 73.8L231.3 73.3L238.1 57.2L245.0 54.1L251.8 59.9L258.6 58.3L265.4 63.5L272.3 62.5L279.1 33.1L285.9 28.4L292.8 17.8L299.6 14.6L306.4 19.1L313.2 16.7L320.1 37.1L326.9 60.9L333.7 65.0L340.5 59.1L347.4 59.6L354.2 60.7M204.0 56.7L210.8 66.1L217.7 73.8L224.5 64.8L231.3 62.3L238.1 55.9L245.0 61.6L251.8 58.0L258.6 43.2L265.4 62.2L272.3 63.8L279.1 39.4L285.9 31.1L292.8 17.2L299.6 13.5L306.4 14.1L313.2 20.8L320.1 43.9L326.9 53.9L333.7 64.7L340.5 67.2L347.4 58.4L354.2 60.8M204.0 57.8L210.8 68.4L217.7 71.9L224.5 65.1L231.3 59.0L238.1 61.8L245.0 67.8L251.8 64.8L258.6 46.7L265.4 41.1L272.3 63.1L279.1 40.5L285.9 15.7L292.8 16.9L299.6 13.5L306.4 16.8L313.2 19.1L320.1 49.4L326.9 59.0L333.7 67.2L340.5 61.5L347.4 65.0L354.2 61.0M204.0 56.9L210.8 71.8L217.7 74.2L224.5 74.0L231.3 65.8L238.1 63.4L245.0 59.0L251.8 65.1L258.6 55.7L265.4 63.7L272.3 58.8L279.1 48.6L285.9 15.1L292.8 16.4L299.6 18.5L306.4 17.7L313.2 28.1L320.1 50.6L326.9 63.4L333.7 65.2L340.5 65.6L347.4 64.6L354.2 60.3M204.0 55.5L210.8 71.0L217.7 71.4L224.5 63.3L231.3 71.3L238.1 68.7L245.0 64.1L251.8 59.7L258.6 48.5L265.4 59.5L272.3 50.4L279.1 50.7L285.9 21.5L292.8 18.8L299.6 18.0L306.4 15.5L313.2 15.5L320.1 51.2L326.9 62.5L333.7 65.0L340.5 61.5L347.4 68.9L354.2 69.5M204.0 70.3L210.8 65.8L217.7 62.2L224.5 72.8L231.3 59.0L238.1 71.1L245.0 59.7L251.8 54.6L258.6 42.9L265.4 45.3L272.3 60.6L279.1 35.7L285.9 30.2L292.8 18.9L299.6 16.7L306.4 17.7L313.2 20.9L320.1 34.1L326.9 61.4L333.7 58.6L340.5 60.5L347.4 67.1L354.2 65.0M204.0 68.6L210.8 60.5L217.7 66.2L224.5 68.7L231.3 73.5L238.1 70.0L245.0 65.7L251.8 53.2L258.6 51.5L265.4 52.5L272.3 50.2L279.1 48.9L285.9 19.9L292.8 17.5L299.6 18.4L306.4 15.9L313.2 24.8L320.1 42.4L326.9 54.2L333.7 67.0L340.5 68.0L347.4 62.3L354.2 60.5M204.0 70.8L210.8 71.1L217.7 70.5L224.5 63.0L231.3 67.0L238.1 63.6L245.0 65.7L251.8 51.0L258.6 56.9L265.4 42.5L272.3 55.5L279.1 53.2L285.9 25.6L292.8 16.6L299.6 18.3L306.4 13.5L313.2 24.0L320.1 44.4L326.9 62.4L333.7 62.4L340.5 62.4L347.4 63.5L354.2 64.2M204.0 49.3L210.8 73.5L217.7 73.3L224.5 64.5L231.3 60.6L238.1 61.7L245.0 65.9L251.8 57.5L258.6 39.1L265.4 64.2L272.3 52.3L279.1 51.8L285.9 28.4L292.8 15.6L299.6 13.3L306.4 18.4L313.2 22.4L320.1 33.0L326.9 62.7L333.7 65.2L340.5 67.6L347.4 64.1L354.2 66.2M204.0 62.8L210.8 69.9L217.7 73.0L224.5 74.0L231.3 71.2L238.1 62.7L245.0 64.6L251.8 64.9L258.6 55.1L265.4 58.3L272.3 49.8L279.1 51.2L285.9 21.1L292.8 18.8L299.6 15.8L306.4 19.1L313.2 30.8L320.1 45.2L326.9 60.1L333.7 58.6L340.5 65.7L347.4 62.8L354.2 68.3M204.0 58.7L210.8 73.5L217.7 63.4L224.5 70.1L231.3 68.9L238.1 56.0L245.0 69.7L251.8 54.4L258.6 36.4L265.4 48.0L272.3 64.0L279.1 50.4L285.9 21.0L292.8 17.3L299.6 15.3L306.4 18.8L313.2 30.8L320.1 51.6L326.9 53.0L333.7 58.5L340.5 63.6L347.4 58.6L354.2 66.0M204.0 63.6L210.8 71.8L217.7 71.2L224.5 69.5L231.3 65.3L238.1 70.4L245.0 66.8L251.8 53.8L258.6 44.8L265.4 59.7L272.3 54.0L279.1 52.3L285.9 21.8L292.8 18.1L299.6 18.5L306.4 16.0L313.2 29.7L320.1 38.5L326.9 60.8L333.7 61.3L340.5 59.8L347.4 67.2L354.2 69.0M204.0 67.6L210.8 69.9L217.7 71.7L224.5 70.8L231.3 72.1L238.1 68.5L245.0 59.1L251.8 56.1L258.6 46.6L265.4 62.4L272.3 62.6L279.1 50.9L285.9 22.5L292.8 18.7L299.6 17.2L306.4 19.0L313.2 17.8L320.1 47.6L326.9 54.2L333.7 64.1L340.5 65.8L347.4 61.4L354.2 67.3M204.0 56.7L210.8 73.4L217.7 74.3L224.5 71.6L231.3 71.7L238.1 54.6L245.0 64.8L251.8 64.5L258.6 55.0L265.4 61.1L272.3 60.9L279.1 46.5L285.9 17.8L292.8 13.5L299.6 18.3L306.4 17.5L313.2 19.5L320.1 47.7L326.9 62.3L333.7 61.8L340.5 67.3L347.4 62.7L354.2 69.1M204.0 67.9L210.8 69.0L217.7 72.4L224.5 68.3L231.3 72.5L238.1 65.0L245.0 65.6L251.8 55.3L258.6 59.1L265.4 50.3L272.3 63.2L279.1 54.4L285.9 18.1L292.8 14.3L299.6 17.6L306.4 19.1L313.2 30.7L320.1 49.1L326.9 53.1L333.7 60.2L340.5 60.6L347.4 68.7L354.2 64.9M204.0 64.8L210.8 72.6L217.7 66.5L224.5 67.0L231.3 72.5L238.1 66.1L245.0 59.3L251.8 62.1L258.6 44.8L265.4 56.0L272.3 59.4L279.1 52.8L285.9 18.6L292.8 16.1L299.6 16.3L306.4 19.1L313.2 18.5L320.1 42.7L326.9 61.6L333.7 61.7L340.5 62.5L347.4 68.7L354.2 69.1M204.0 70.5L210.8 72.6L217.7 70.9L224.5 74.3L231.3 73.7L238.1 65.6L245.0 67.8L251.8 57.4L258.6 51.9L265.4 51.4L272.3 54.5L279.1 37.1L285.9 31.0L292.8 17.0L299.6 17.0L306.4 15.6L313.2 31.3L320.1 41.0L326.9 62.4L333.7 64.7L340.5 66.4L347.4 65.1L354.2 62.9M204.0 66.1L210.8 66.0L217.7 69.1L224.5 63.9L231.3 61.6L238.1 63.7L245.0 65.2L251.8 53.7L258.6 47.5L265.4 64.1L272.3 57.2L279.1 43.0L285.9 28.6L292.8 18.7L299.6 13.6L306.4 17.9L313.2 25.6L320.1 44.9L326.9 60.7L333.7 57.6L340.5 60.3L347.4 67.5L354.2 66.7M204.0 56.4L210.8 68.5L217.7 63.8L224.5 71.1L231.3 60.8L238.1 61.8L245.0 69.9L251.8 66.2L258.6 52.0L265.4 62.1L272.3 63.0L279.1 38.6L285.9 29.5L292.8 15.3L299.6 17.3L306.4 19.0L313.2 23.9L320.1 45.4L326.9 61.7L333.7 65.9L340.5 60.8L347.4 68.6L354.2 63.6M204.0 68.7L210.8 59.1L217.7 65.3L224.5 61.3L231.3 67.9L238.1 71.2L245.0 69.2L251.8 65.8L258.6 52.0L265.4 64.0L272.3 60.6L279.1 42.3L285.9 27.2L292.8 18.5L299.6 14.9L306.4 14.6L313.2 21.2L320.1 36.3L326.9 59.5L333.7 60.1L340.5 62.6L347.4 64.4L354.2 69.3M204.0 53.6L210.8 71.5L217.7 74.3L224.5 74.3L231.3 73.8L238.1 70.3L245.0 60.3L251.8 64.0L258.6 54.3L265.4 63.4L272.3 54.9L279.1 46.1L285.9 24.7L292.8 18.4L299.6 14.9L306.4 13.8L313.2 28.4L320.1 51.1L326.9 51.9L333.7 58.1L340.5 65.0L347.4 68.6L354.2 68.4M204.0 70.6L210.8 60.0L217.7 65.7L224.5 61.8L231.3 69.6L238.1 67.9L245.0 56.9L251.8 64.1L258.6 53.8L265.4 60.4L272.3 63.0L279.1 53.9L285.9 18.0L292.8 14.5L299.6 18.6L306.4 16.3L313.2 27.7L320.1 51.1L326.9 57.8L333.7 59.1L340.5 68.0L347.4 67.5L354.2 61.1M204.0 68.3L210.8 71.1L217.7 69.3L224.5 61.4L231.3 68.0L238.1 63.8L245.0 64.0L251.8 66.2L258.6 58.9L265.4 52.6L272.3 60.8L279.1 46.6L285.9 23.7L292.8 13.5L299.6 17.4L306.4 18.8L313.2 15.8L320.1 45.5L326.9 53.7L333.7 58.2L340.5 67.5L347.4 62.6L354.2 62.5M204.0 54.5L210.8 63.1L217.7 64.4L224.5 65.8L231.3 62.7L238.1 58.7L245.0 60.9L251.8 57.5L258.6 50.3L265.4 45.0L272.3 55.7L279.1 40.3L285.9 29.0L292.8 14.7L299.6 17.5L306.4 19.1L313.2 22.3L320.1 41.8L326.9 59.8L333.7 66.1L340.5 61.0L347.4 68.5L354.2 68.2M204.0 68.5L210.8 69.1L217.7 63.0L224.5 64.0L231.3 73.4L238.1 71.4L245.0 65.0L251.8 48.2L258.6 47.7L265.4 52.3L272.3 62.0L279.1 35.7L285.9 25.9L292.8 13.8L299.6 17.2L306.4 14.5L313.2 18.5L320.1 46.0L326.9 54.4L333.7 57.4L340.5 65.5L347.4 58.6L354.2 69.2M204.0 65.1L210.8 70.9L217.7 63.0L224.5 70.9L231.3 69.0L238.1 65.1L245.0 69.5L251.8 48.3L258.6 52.8L265.4 64.0L272.3 55.4L279.1 38.7L285.9 24.4L292.8 18.8L299.6 15.2L306.4 17.5L313.2 30.2L320.1 40.6L326.9 57.8L333.7 63.2L340.5 62.6L347.4 68.7L354.2 61.9M204.0 55.8L210.8 72.2L217.7 66.9L224.5 68.9L231.3 70.6L238.1 57.6L245.0 66.6L251.8 64.5L258.6 44.1L265.4 48.9L272.3 64.2L279.1 40.3L285.9 20.5L292.8 16.7L299.6 18.1L306.4 19.0L313.2 24.1L320.1 51.0L326.9 63.1L333.7 65.9L340.5 66.7L347.4 64.5L354.2 60.1M204.0 69.8L210.8 73.6L217.7 74.3L224.5 73.2L231.3 73.3L238.1 64.7L245.0 64.2L251.8 62.4L258.6 49.8L265.4 63.3L272.3 63.8L279.1 54.3L285.9 24.8L292.8 17.0L299.6 16.0L306.4 18.7L313.2 29.1L320.1 44.8L326.9 63.1L333.7 66.8L340.5 64.9L347.4 66.4L354.2 60.0M204.0 50.4L210.8 63.8L217.7 74.0L224.5 65.4L231.3 65.7L238.1 72.2L245.0 58.1L251.8 63.1L258.6 51.6L265.4 51.8L272.3 49.5L279.1 42.1L285.9 31.3L292.8 16.3L299.6 18.5L306.4 19.1L313.2 20.6L320.1 35.8L326.9 62.9L333.7 67.2L340.5 57.7L347.4 60.4L354.2 63.9M204.0 63.6L210.8 61.7L217.7 73.0L224.5 69.0L231.3 68.7L238.1 72.3L245.0 69.8L251.8 47.3L258.6 45.9L265.4 60.8L272.3 58.0L279.1 53.2L285.9 18.8L292.8 18.4L299.6 15.1L306.4 17.1L313.2 22.7L320.1 45.5L326.9 62.9L333.7 64.5L340.5 65.7L347.4 58.2L354.2 63.6M204.0 66.9L210.8 61.7L217.7 70.6L224.5 63.4L231.3 72.1L238.1 66.9L245.0 58.2L251.8 65.6L258.6 45.3L265.4 63.9L272.3 52.8L279.1 36.4L285.9 30.9L292.8 18.2L299.6 18.4L306.4 16.7L313.2 18.9L320.1 48.4L326.9 61.3L333.7 64.7L340.5 66.2L347.4 64.5L354.2 64.9M204.0 61.7L210.8 72.9L217.7 63.6L224.5 73.8L231.3 70.4L238.1 66.8L245.0 55.6L251.8 63.9L258.6 46.3L265.4 63.3L272.3 55.2L279.1 52.7L285.9 21.7L292.8 15.5L299.6 17.9L306.4 16.8L313.2 28.9L320.1 38.7L326.9 52.8L333.7 67.1L340.5 64.3L347.4 66.0L354.2 63.1M204.0 69.0L210.8 66.2L217.7 72.5L224.5 65.0L231.3 65.7L238.1 72.0L245.0 62.4L251.8 60.5L258.6 57.8L265.4 56.3L272.3 63.7L279.1 47.0L285.9 20.7L292.8 18.8L299.6 17.7L306.4 15.1L313.2 18.0L320.1 41.3L326.9 62.8L333.7 66.8L340.5 67.7L347.4 64.6L354.2 69.3M204.0 79.0L210.8 79.3L217.7 78.8L224.5 79.1L231.3 78.7L238.1 78.3L245.0 78.4L251.8 78.5L258.6 78.5L265.4 78.6L272.3 78.8L279.1 78.3L285.9 76.9L292.8 71.4L299.6 63.1L306.4 63.9L313.2 66.7L320.1 71.1L326.9 72.1L333.7 73.9L340.5 75.0L347.4 76.7L354.2 78.6M204.0 78.9L210.8 79.2L217.7 79.4L224.5 79.5L231.3 78.9L238.1 79.1L245.0 79.0L251.8 79.2L258.6 78.8L265.4 78.9L272.3 79.2L279.1 78.4L285.9 77.5L292.8 73.2L299.6 69.9L306.4 60.0L313.2 61.1L320.1 70.0L326.9 73.0L333.7 75.2L340.5 76.2L347.4 76.9L354.2 78.6M204.0 79.5L210.8 79.5L217.7 79.5L224.5 79.3L231.3 79.3L238.1 79.1L245.0 79.2L251.8 79.2L258.6 79.3L265.4 79.5L272.3 79.4L279.1 79.0L285.9 78.7L292.8 76.0L299.6 67.9L306.4 64.5L313.2 60.8L320.1 71.6L326.9 73.9L333.7 75.1L340.5 76.4L347.4 77.6L354.2 79.0M204.0 79.3L210.8 79.5L217.7 79.5L224.5 79.2L231.3 79.0L238.1 79.2L245.0 79.1L251.8 79.5L258.6 79.5L265.4 79.0L272.3 79.0L279.1 78.9L285.9 77.4L292.8 74.5L299.6 64.0L306.4 70.6L313.2 67.9L320.1 70.6L326.9 72.5L333.7 73.9L340.5 74.6L347.4 76.4L354.2 78.9M204.0 79.1L210.8 78.7L217.7 78.9L224.5 79.1L231.3 79.3L238.1 79.1L245.0 78.7L251.8 78.4L258.6 79.3L265.4 79.2L272.3 79.1L279.1 78.6L285.9 78.1L292.8 74.0L299.6 66.2L306.4 63.6L313.2 70.4L320.1 73.7L326.9 74.3L333.7 75.2L340.5 75.7L347.4 76.7L354.2 78.5M204.0 78.6L210.8 79.3L217.7 79.5L224.5 79.2L231.3 79.1L238.1 79.0L245.0 79.1L251.8 79.2L258.6 79.3L265.4 79.3L272.3 79.5L279.1 78.7L285.9 78.2L292.8 74.6L299.6 67.6L306.4 64.6L313.2 65.4L320.1 71.4L326.9 72.9L333.7 74.1L340.5 75.3L347.4 76.3L354.2 78.0M204.0 79.0L210.8 78.9L217.7 78.7L224.5 78.7L231.3 78.9L238.1 79.0L245.0 79.1L251.8 78.8L258.6 79.1L265.4 79.3L272.3 79.5L279.1 79.0L285.9 77.9L292.8 75.4L299.6 66.0L306.4 65.7L313.2 70.0L320.1 71.9L326.9 72.1L333.7 74.1L340.5 75.6L347.4 76.8L354.2 78.7M204.0 79.3L210.8 79.4L217.7 78.9L224.5 79.4L231.3 79.1L238.1 79.2L245.0 79.4L251.8 79.5L258.6 79.0L265.4 78.7L272.3 79.1L279.1 78.6L285.9 77.6L292.8 70.8L299.6 63.2L306.4 59.7L313.2 53.7L320.1 72.4L326.9 72.3L333.7 73.7L340.5 75.3L347.4 76.8L354.2 78.6M204.0 78.9L210.8 78.7L217.7 79.1L224.5 79.5L231.3 79.0L238.1 79.1L245.0 78.9L251.8 78.9L258.6 78.9L265.4 78.4L272.3 79.0L279.1 78.3L285.9 78.0L292.8 73.7L299.6 64.5L306.4 59.3L313.2 57.6L320.1 71.9L326.9 74.0L333.7 75.2L340.5 76.2L347.4 77.0L354.2 78.5M204.0 79.0L210.8 78.8L217.7 78.3L224.5 78.5L231.3 79.1L238.1 78.7L245.0 78.5L251.8 78.5L258.6 78.3L265.4 78.3L272.3 78.3L279.1 77.5L285.9 76.5L292.8 70.7L299.6 55.8L306.4 48.4L313.2 56.8L320.1 70.8L326.9 73.4L333.7 74.1L340.5 74.9L347.4 76.1L354.2 78.1M204.0 78.5L210.8 78.3L217.7 78.6L224.5 78.6L231.3 78.6L238.1 78.9L245.0 79.0L251.8 78.9L258.6 78.9L265.4 78.9L272.3 78.3L279.1 77.9L285.9 76.6L292.8 74.0L299.6 63.9L306.4 53.8L313.2 56.0L320.1 69.7L326.9 72.7L333.7 73.8L340.5 75.6L347.4 76.8L354.2 78.1M204.0 78.5L210.8 78.4L217.7 78.5L224.5 78.8L231.3 78.9L238.1 78.7L245.0 78.5L251.8 78.8L258.6 78.8L265.4 78.9L272.3 78.7L279.1 77.7L285.9 76.6L292.8 71.2L299.6 63.1L306.4 60.3L313.2 53.1L320.1 68.3L326.9 72.9L333.7 74.3L340.5 75.0L347.4 76.0L354.2 78.0M204.0 79.4L210.8 79.0L217.7 79.1L224.5 79.0L231.3 78.8L238.1 78.8L245.0 79.1L251.8 78.8L258.6 79.1L265.4 79.5L272.3 79.0L279.1 78.2L285.9 77.5L292.8 74.8L299.6 74.0L306.4 69.4L313.2 66.1L320.1 69.7L326.9 71.7L333.7 73.1L340.5 75.7L347.4 76.5L354.2 78.5M204.0 79.4L210.8 79.5L217.7 79.5L224.5 79.4L231.3 79.3L238.1 79.5L245.0 79.4L251.8 79.0L258.6 79.5L265.4 79.2L272.3 79.4L279.1 78.8L285.9 78.7L292.8 76.6L299.6 74.3L306.4 73.1L313.2 70.3L320.1 72.0L326.9 74.1L333.7 74.6L340.5 76.3L347.4 77.3L354.2 78.5M204.0 78.5L210.8 78.6L217.7 78.6L224.5 78.6L231.3 78.9L238.1 79.0L245.0 78.6L251.8 78.8L258.6 78.8L265.4 78.4L272.3 78.3L279.1 78.1L285.9 77.6L292.8 72.2L299.6 64.2L306.4 53.7L313.2 60.5L320.1 72.2L326.9 73.1L333.7 74.6L340.5 75.1L347.4 76.3L354.2 77.8M204.0 78.7L210.8 78.3L217.7 78.3L224.5 78.3L231.3 78.4L238.1 79.0L245.0 78.7L251.8 78.6L258.6 78.5L265.4 78.7L272.3 79.2L279.1 78.6L285.9 78.1L292.8 72.3L299.6 64.4L306.4 57.2L313.2 63.7L320.1 70.8L326.9 73.1L333.7 73.2L340.5 74.8L347.4 76.0L354.2 77.9M204.0 79.3L210.8 79.4L217.7 79.1L224.5 79.2L231.3 79.5L238.1 79.5L245.0 79.5L251.8 79.5L258.6 79.5L265.4 79.1L272.3 79.4L279.1 79.0L285.9 77.8L292.8 76.6L299.6 72.8L306.4 73.1L313.2 70.1L320.1 73.7L326.9 74.3L333.7 75.2L340.5 76.4L347.4 76.9L354.2 79.0M204.0 78.4L210.8 78.5L217.7 78.8L224.5 78.7L231.3 78.5L238.1 78.3L245.0 78.4L251.8 78.3L258.6 78.3L265.4 78.5L272.3 78.4L279.1 77.5L285.9 76.0L292.8 73.0L299.6 61.4L306.4 49.0L313.2 53.1L320.1 68.3L326.9 72.5L333.7 73.7L340.5 74.9L347.4 76.4L354.2 78.4M204.0 79.2L210.8 79.1L217.7 79.0L224.5 79.0L231.3 78.6L238.1 78.8L245.0 78.8L251.8 78.8L258.6 78.9L265.4 79.0L272.3 79.2L279.1 78.9L285.9 77.6L292.8 75.2L299.6 68.6L306.4 65.2L313.2 71.6L320.1 73.5L326.9 74.0L333.7 74.3L340.5 75.6L347.4 77.3L354.2 78.5M204.0 78.7L210.8 78.6L217.7 78.8L224.5 78.9L231.3 79.4L238.1 79.2L245.0 79.2L251.8 79.2L258.6 79.2L265.4 79.4L272.3 79.3L279.1 78.6L285.9 77.8L292.8 74.4L299.6 67.3L306.4 68.4L313.2 67.5L320.1 71.5L326.9 73.3L333.7 74.7L340.5 75.6L347.4 77.2L354.2 78.4M204.0 78.7L210.8 78.8L217.7 78.4L224.5 78.4L231.3 78.5L238.1 78.6L245.0 79.1L251.8 78.6L258.6 78.6L265.4 78.8L272.3 78.3L279.1 77.9L285.9 77.1L292.8 71.9L299.6 59.4L306.4 50.9L313.2 61.3L320.1 68.1L326.9 71.7L333.7 73.1L340.5 74.4L347.4 76.0L354.2 77.8M204.0 79.5L210.8 79.1L217.7 79.5L224.5 79.5L231.3 79.5L238.1 79.5L245.0 79.5L251.8 79.5L258.6 79.5L265.4 79.1L272.3 78.8L279.1 78.9L285.9 78.3L292.8 76.6L299.6 72.2L306.4 66.5L313.2 67.3L320.1 72.5L326.9 73.9L333.7 74.6L340.5 76.2L347.4 77.5L354.2 78.6M204.0 78.6L210.8 79.0L217.7 78.6L224.5 78.8L231.3 79.2L238.1 79.1L245.0 79.2L251.8 79.1L258.6 79.1L265.4 78.7L272.3 79.2L279.1 78.4L285.9 77.3L292.8 73.9L299.6 70.4L306.4 63.6L313.2 64.3L320.1 71.9L326.9 73.7L333.7 74.3L340.5 75.4L347.4 76.7L354.2 78.1M204.0 78.8L210.8 78.8L217.7 79.1L224.5 79.0L231.3 78.7L238.1 79.0L245.0 79.3L251.8 78.6L258.6 78.8L265.4 78.6L272.3 78.7L279.1 77.8L285.9 78.4L292.8 74.2L299.6 66.9L306.4 59.7L313.2 59.6L320.1 69.3L326.9 73.0L333.7 75.0L340.5 76.0L347.4 77.6L354.2 78.4M204.0 79.1L210.8 79.0L217.7 78.3L224.5 79.1L231.3 79.1L238.1 79.1L245.0 79.4L251.8 78.7L258.6 78.9L265.4 78.8L272.3 79.0L279.1 78.8L285.9 78.2L292.8 74.1L299.6 67.0L306.4 68.7L313.2 70.9L320.1 73.0L326.9 73.9L333.7 74.4L340.5 75.8L347.4 76.6L354.2 78.4M204.0 78.8L210.8 78.8L217.7 78.3L224.5 78.3L231.3 78.5L238.1 78.8L245.0 78.6L251.8 79.1L258.6 78.5L265.4 78.6L272.3 78.8L279.1 78.2L285.9 77.3L292.8 74.3L299.6 62.6L306.4 60.9L313.2 66.3L320.1 70.2L326.9 71.7L333.7 73.1L340.5 74.5L347.4 75.8L354.2 77.9M204.0 78.4L210.8 78.7L217.7 78.6L224.5 78.5L231.3 78.5L238.1 78.5L245.0 78.3L251.8 78.3L258.6 78.3L265.4 78.6L272.3 78.5L279.1 77.7L285.9 77.6L292.8 73.2L299.6 64.8L306.4 48.4L313.2 54.5L320.1 68.5L326.9 72.5L333.7 73.7L340.5 74.8L347.4 75.7L354.2 77.9M204.0 79.1L210.8 79.0L217.7 79.2L224.5 79.0L231.3 79.2L238.1 78.9L245.0 79.2L251.8 79.0L258.6 79.0L265.4 79.2L272.3 79.1L279.1 78.5L285.9 78.4L292.8 76.6L299.6 66.3L306.4 59.8L313.2 67.2L320.1 72.8L326.9 73.5L333.7 74.6L340.5 75.7L347.4 77.6L354.2 78.8M204.0 78.7L210.8 79.2L217.7 78.7L224.5 78.8L231.3 78.8L238.1 79.0L245.0 78.9L251.8 79.0L258.6 79.1L265.4 78.7L272.3 78.8L279.1 78.0L285.9 77.4L292.8 75.1L299.6 72.6L306.4 63.0L313.2 64.2L320.1 72.3L326.9 72.5L333.7 75.1L340.5 75.4L347.4 77.1L354.2 78.6M204.0 78.8L210.8 79.2L217.7 79.1L224.5 78.9L231.3 78.3L238.1 78.5L245.0 78.9L251.8 78.7L258.6 79.0L265.4 79.1L272.3 78.5L279.1 77.9L285.9 77.2L292.8 74.2L299.6 66.1L306.4 61.0L313.2 61.5L320.1 69.4L326.9 72.8L333.7 73.6L340.5 75.4L347.4 76.5L354.2 78.3M204.0 78.4L210.8 78.6L217.7 78.6L224.5 78.3L231.3 78.7L238.1 78.4L245.0 78.8L251.8 78.9L258.6 78.8L265.4 78.6L272.3 78.5L279.1 77.6L285.9 76.2L292.8 70.5L299.6 63.7L306.4 55.8L313.2 56.6L320.1 68.5L326.9 72.4L333.7 73.6L340.5 75.4L347.4 77.4L354.2 78.2M204.0 79.5L210.8 79.5L217.7 79.5L224.5 79.2L231.3 79.5L238.1 79.4L245.0 79.5L251.8 79.5L258.6 79.5L265.4 79.5L272.3 79.2L279.1 78.3L285.9 77.9L292.8 75.3L299.6 73.6L306.4 70.2L313.2 69.7L320.1 73.7L326.9 74.3L333.7 75.2L340.5 76.4L347.4 77.4L354.2 78.8M204.0 79.0L210.8 78.7L217.7 78.6L224.5 78.7L231.3 78.8L238.1 79.0L245.0 79.3L251.8 79.3L258.6 79.2L265.4 79.1L272.3 79.5L279.1 78.4L285.9 77.5L292.8 75.5L299.6 67.8L306.4 64.2L313.2 70.4L320.1 72.6L326.9 73.2L333.7 73.8L340.5 75.6L347.4 77.3L354.2 78.6M204.0 78.4L210.8 78.4L217.7 78.3L224.5 78.4L231.3 78.8L238.1 78.7L245.0 78.6L251.8 78.9L258.6 78.9L265.4 78.5L272.3 78.4L279.1 77.6L285.9 76.5L292.8 73.4L299.6 60.3L306.4 54.3L313.2 58.8L320.1 67.2L326.9 71.9L333.7 73.7L340.5 75.4L347.4 75.8L354.2 77.9M204.0 78.5L210.8 78.5L217.7 78.5L224.5 78.7L231.3 78.4L238.1 78.3L245.0 78.7L251.8 78.6L258.6 78.4L265.4 78.3L272.3 78.7L279.1 77.8L285.9 76.0L292.8 71.9L299.6 61.6L306.4 55.3L313.2 59.3L320.1 67.6L326.9 71.7L333.7 73.8L340.5 74.8L347.4 76.5L354.2 77.8M204.0 78.8L210.8 79.1L217.7 79.3L224.5 79.0L231.3 79.2L238.1 79.0L245.0 79.1L251.8 79.3L258.6 78.8L265.4 78.8L272.3 79.2L279.1 78.3L285.9 77.5L292.8 73.9L299.6 64.3L306.4 54.4L313.2 58.0L320.1 68.1L326.9 73.1L333.7 74.3L340.5 75.8L347.4 76.4L354.2 78.3M204.0 79.4L210.8 79.2L217.7 79.3L224.5 79.2L231.3 78.7L238.1 79.3L245.0 79.1L251.8 79.2L258.6 79.2L265.4 78.9L272.3 79.2L279.1 78.7L285.9 78.5L292.8 76.6L299.6 70.1L306.4 70.7L313.2 71.1L320.1 69.9L326.9 73.0L333.7 73.9L340.5 75.2L347.4 77.3L354.2 79.0M204.0 78.5L210.8 78.7L217.7 78.6L224.5 78.6L231.3 78.4L238.1 78.3L245.0 78.8L251.8 78.5L258.6 79.0L265.4 79.0L272.3 78.3L279.1 77.5L285.9 76.3L292.8 71.7L299.6 59.6L306.4 51.8L313.2 62.1L320.1 69.1L326.9 73.0L333.7 73.6L340.5 74.7L347.4 76.6L354.2 78.0M204.0 78.4L210.8 78.3L217.7 78.6L224.5 78.7L231.3 78.8L238.1 78.4L245.0 78.6L251.8 78.8L258.6 78.8L265.4 78.9L272.3 78.8L279.1 78.1L285.9 76.6L292.8 73.4L299.6 65.4L306.4 64.6L313.2 58.2L320.1 70.8L326.9 73.1L333.7 73.7L340.5 74.7L347.4 76.0L354.2 77.5M204.0 78.6L210.8 78.5L217.7 78.4L224.5 78.9L231.3 78.5L238.1 78.4L245.0 78.5L251.8 78.3L258.6 78.3L265.4 78.6L272.3 78.8L279.1 78.1L285.9 78.6L292.8 75.3L299.6 70.1L306.4 57.8L313.2 63.9L320.1 71.8L326.9 72.8L333.7 74.6L340.5 75.1L347.4 75.9L354.2 77.8M204.0 79.1L210.8 78.8L217.7 78.9L224.5 79.2L231.3 79.1L238.1 79.0L245.0 79.2L251.8 79.5L258.6 79.5L265.4 79.4L272.3 79.1L279.1 78.0L285.9 77.3L292.8 75.5L299.6 72.2L306.4 67.2L313.2 64.5L320.1 70.5L326.9 73.4L333.7 74.8L340.5 76.4L347.4 77.1L354.2 79.0M204.0 79.5L210.8 79.4L217.7 79.3L224.5 79.3L231.3 79.3L238.1 79.4L245.0 78.8L251.8 79.1L258.6 79.2L265.4 79.1L272.3 79.1L279.1 79.0L285.9 78.7L292.8 76.6L299.6 74.3L306.4 71.9L313.2 73.1L320.1 73.4L326.9 73.7L333.7 75.1L340.5 75.9L347.4 77.0L354.2 79.0M204.0 78.3L210.8 78.9L217.7 78.9L224.5 78.6L231.3 78.4L238.1 78.6L245.0 78.7L251.8 78.9L258.6 78.7L265.4 78.3L272.3 78.5L279.1 78.1L285.9 77.7L292.8 75.0L299.6 67.7L306.4 60.8L313.2 59.6L320.1 69.4L326.9 71.7L333.7 73.7L340.5 74.5L347.4 76.6L354.2 78.0M204.0 79.1L210.8 78.6L217.7 78.5L224.5 78.5L231.3 78.8L238.1 79.1L245.0 78.8L251.8 79.3L258.6 79.1L265.4 78.8L272.3 79.0L279.1 78.3L285.9 77.9L292.8 74.7L299.6 74.3L306.4 73.1L313.2 66.2L320.1 71.9L326.9 73.7L333.7 74.1L340.5 75.1L347.4 76.3L354.2 77.5M204.0 70.4L210.8 72.5L217.7 73.1L224.5 73.1L231.3 72.6L238.1 71.1L245.0 69.2L251.8 65.1L258.6 58.0L265.4 63.0L272.3 63.0L279.1 53.2L285.9 30.1L292.8 17.7L299.6 17.4L306.4 12.4L313.2 13.2L320.1 24.5L326.9 28.0L333.7 30.4L340.5 66.9L347.4 67.8L354.2 68.3M204.0 70.4L210.8 51.5L217.7 59.8L224.5 73.1L231.3 72.6L238.1 71.1L245.0 69.2L251.8 65.1L258.6 58.0L265.4 63.0L272.3 63.0L279.1 53.2L285.9 30.1L292.8 17.7L299.6 17.4L306.4 18.0L313.2 30.1L320.1 50.4L326.9 62.2L333.7 66.0L340.5 66.9L347.4 67.8L354.2 68.3M204.0 70.4L210.8 72.5L217.7 73.1L224.5 73.1L231.3 72.6L238.1 71.1L245.0 69.2L251.8 65.1L258.6 58.0L265.4 63.0L272.3 63.0L279.1 53.2L285.9 30.1L292.8 17.7L299.6 17.4L306.4 18.0L313.2 30.1L320.1 50.4L326.9 28.0L333.7 35.8L340.5 66.9L347.4 67.8L354.2 68.3M204.0 70.4L210.8 72.5L217.7 73.1L224.5 57.7L231.3 55.5L238.1 48.2L245.0 69.2L251.8 65.1L258.6 58.0L265.4 63.0L272.3 63.0L279.1 53.2L285.9 30.1L292.8 17.7L299.6 17.4L306.4 18.0L313.2 30.1L320.1 24.5L326.9 36.9L333.7 35.4L340.5 52.5L347.4 67.8L354.2 68.3M204.0 70.4L210.8 72.5L217.7 73.1L224.5 73.1L231.3 72.6L238.1 71.1L245.0 51.4L251.8 41.2L258.6 29.9L265.4 38.3L272.3 63.0L279.1 53.2L285.9 30.1L292.8 17.7L299.6 17.4L306.4 18.0L313.2 30.1L320.1 50.4L326.9 62.2L333.7 66.0L340.5 66.9L347.4 67.8L354.2 68.3M204.0 70.4L210.8 72.5L217.7 73.1L224.5 73.1L231.3 72.6L238.1 71.1L245.0 69.2L251.8 65.1L258.6 58.0L265.4 63.0L272.3 63.0L279.1 53.2L285.9 30.1L292.8 17.7L299.6 17.4L306.4 18.0L313.2 30.1L320.1 29.8L326.9 44.2L333.7 47.9L340.5 66.9L347.4 67.8L354.2 68.3M204.0 70.4L210.8 72.5L217.7 73.1L224.5 73.1L231.3 72.6L238.1 71.1L245.0 69.2L251.8 65.1L258.6 58.0L265.4 37.4L272.3 44.8L279.1 28.0L285.9 12.6L292.8 12.6L299.6 12.6L306.4 18.0L313.2 30.1L320.1 50.4L326.9 62.2L333.7 66.0L340.5 66.9L347.4 67.8L354.2 68.3M204.0 70.4L210.8 72.5L217.7 73.1L224.5 73.1L231.3 72.6L238.1 49.4L245.0 49.4L251.8 39.4L258.6 26.1L265.4 37.3L272.3 63.0L279.1 53.2L285.9 30.1L292.8 17.7L299.6 17.4L306.4 18.0L313.2 30.1L320.1 50.4L326.9 62.2L333.7 66.0L340.5 66.9L347.4 67.8L354.2 68.3M204.0 70.4L210.8 51.0L217.7 59.7L224.5 59.1L231.3 55.4L238.1 71.1L245.0 69.2L251.8 65.1L258.6 58.0L265.4 63.0L272.3 63.0L279.1 53.2L285.9 30.1L292.8 17.7L299.6 17.4L306.4 18.0L313.2 30.1L320.1 50.4L326.9 62.2L333.7 66.0L340.5 66.9L347.4 67.8L354.2 68.3M204.0 70.4L210.8 72.5L217.7 73.1L224.5 73.1L231.3 57.1L238.1 50.2L245.0 51.3L251.8 41.6L258.6 31.0L265.4 63.0L272.3 63.0L279.1 53.2L285.9 30.1L292.8 17.7L299.6 17.4L306.4 18.0L313.2 30.1L320.1 50.4L326.9 32.7L333.7 41.5L340.5 55.1L347.4 51.6L354.2 68.3M204.0 70.4L210.8 72.5L217.7 73.1L224.5 73.1L231.3 72.6L238.1 71.1L245.0 69.2L251.8 65.1L258.6 58.0L265.4 63.0L272.3 63.0L279.1 53.2L285.9 30.1L292.8 17.7L299.6 17.4L306.4 18.0L313.2 30.1L320.1 29.1L326.9 36.7L333.7 35.8L340.5 66.9L347.4 67.8L354.2 68.3M204.0 70.4L210.8 72.5L217.7 73.1L224.5 73.1L231.3 72.6L238.1 71.1L245.0 69.2L251.8 65.1L258.6 58.0L265.4 63.0L272.3 63.0L279.1 53.2L285.9 30.1L292.8 17.7L299.6 12.8L306.4 18.0L313.2 30.1L320.1 50.4L326.9 62.2L333.7 36.5L340.5 51.7L347.4 67.8L354.2 68.3M204.0 70.4L210.8 72.5L217.7 73.1L224.5 73.1L231.3 72.6L238.1 53.2L245.0 51.7L251.8 65.1L258.6 58.0L265.4 63.0L272.3 63.0L279.1 53.2L285.9 30.1L292.8 17.7L299.6 17.4L306.4 18.0L313.2 30.1L320.1 29.3L326.9 40.3L333.7 42.5L340.5 66.9L347.4 67.8L354.2 68.3M204.0 70.4L210.8 72.5L217.7 73.1L224.5 73.1L231.3 72.6L238.1 50.3L245.0 49.4L251.8 65.1L258.6 58.0L265.4 63.0L272.3 63.0L279.1 53.2L285.9 30.1L292.8 17.7L299.6 17.4L306.4 18.0L313.2 30.1L320.1 50.4L326.9 62.2L333.7 66.0L340.5 66.9L347.4 67.8L354.2 68.3M204.0 31.1L210.8 47.0L217.7 73.1L224.5 73.1L231.3 72.6L238.1 71.1L245.0 69.2L251.8 41.9L258.6 58.0L265.4 63.0L272.3 63.0L279.1 53.2L285.9 30.1L292.8 17.7L299.6 17.4L306.4 18.0L313.2 30.1L320.1 50.4L326.9 62.2L333.7 66.0L340.5 66.9L347.4 67.8L354.2 68.3M204.0 70.4L210.8 72.5L217.7 73.1L224.5 73.1L231.3 56.1L238.1 49.4L245.0 50.1L251.8 40.5L258.6 27.6L265.4 63.0L272.3 63.0L279.1 53.2L285.9 30.1L292.8 17.7L299.6 17.4L306.4 18.0L313.2 30.1L320.1 27.6L326.9 35.7L333.7 37.1L340.5 52.8L347.4 67.8L354.2 68.3M204.0 70.4L210.8 72.5L217.7 73.1L224.5 73.1L231.3 72.6L238.1 71.1L245.0 69.2L251.8 65.1L258.6 58.0L265.4 63.0L272.3 63.0L279.1 53.2L285.9 30.1L292.8 17.7L299.6 17.4L306.4 18.0L313.2 30.1L320.1 25.0L326.9 31.3L333.7 35.8L340.5 54.0L347.4 51.9L354.2 68.3M204.0 70.4L210.8 72.5L217.7 73.1L224.5 73.1L231.3 72.6L238.1 71.1L245.0 69.2L251.8 65.1L258.6 58.0L265.4 63.0L272.3 63.0L279.1 53.2L285.9 30.1L292.8 17.7L299.6 17.4L306.4 18.0L313.2 30.1L320.1 50.4L326.9 62.2L333.7 66.0L340.5 55.1L347.4 49.8L354.2 58.2M204.0 38.8L210.8 48.8L217.7 58.8L224.5 59.1L231.3 72.6L238.1 71.1L245.0 69.2L251.8 65.1L258.6 58.0L265.4 63.0L272.3 63.0L279.1 53.2L285.9 30.1L292.8 17.7L299.6 17.4L306.4 18.0L313.2 30.1L320.1 50.4L326.9 33.4L333.7 43.5L340.5 66.9L347.4 67.8L354.2 68.3M204.0 70.4L210.8 72.5L217.7 73.1L224.5 73.1L231.3 72.6L238.1 71.1L245.0 69.2L251.8 65.1L258.6 58.0L265.4 63.0L272.3 46.6L279.1 31.4L285.9 13.1L292.8 12.9L299.6 17.4L306.4 18.0L313.2 30.1L320.1 50.4L326.9 62.2L333.7 66.0L340.5 66.9L347.4 67.8L354.2 68.3M204.0 70.4L210.8 72.5L217.7 73.1L224.5 73.1L231.3 72.6L238.1 71.1L245.0 69.2L251.8 65.1L258.6 58.0L265.4 63.0L272.3 63.0L279.1 53.2L285.9 30.1L292.8 12.7L299.6 12.5L306.4 18.0L313.2 30.1L320.1 50.4L326.9 62.2L333.7 66.0L340.5 66.9L347.4 67.8L354.2 68.3M204.0 70.4L210.8 72.5L217.7 73.1L224.5 73.1L231.3 72.6L238.1 71.1L245.0 69.2L251.8 65.1L258.6 58.0L265.4 63.0L272.3 63.0L279.1 53.2L285.9 30.1L292.8 17.7L299.6 17.4L306.4 18.0L313.2 30.1L320.1 50.4L326.9 62.2L333.7 66.0L340.5 52.7L347.4 48.9L354.2 57.6M204.0 70.4L210.8 72.5L217.7 73.1L224.5 73.1L231.3 72.6L238.1 48.4L245.0 69.2L251.8 65.1L258.6 58.0L265.4 63.0L272.3 63.0L279.1 53.2L285.9 30.1L292.8 17.7L299.6 17.4L306.4 18.0L313.2 30.1L320.1 50.4L326.9 62.2L333.7 66.0L340.5 66.9L347.4 67.8L354.2 68.3M204.0 70.4L210.8 72.5L217.7 59.0L224.5 58.5L231.3 72.6L238.1 71.1L245.0 69.2L251.8 65.1L258.6 58.0L265.4 63.0L272.3 63.0L279.1 53.2L285.9 30.1L292.8 17.7L299.6 17.4L306.4 18.0L313.2 30.1L320.1 50.4L326.9 62.2L333.7 66.0L340.5 66.9L347.4 67.8L354.2 68.3M204.0 37.8L210.8 55.1L217.7 59.3L224.5 60.2L231.3 72.6L238.1 71.1L245.0 69.2L251.8 65.1L258.6 58.0L265.4 63.0L272.3 63.0L279.1 53.2L285.9 30.1L292.8 17.7L299.6 17.4L306.4 18.0L313.2 30.1L320.1 50.4L326.9 62.2L333.7 66.0L340.5 66.9L347.4 67.8L354.2 68.3M204.0 70.4L210.8 72.5L217.7 73.1L224.5 73.1L231.3 72.6L238.1 71.1L245.0 69.2L251.8 65.1L258.6 58.0L265.4 63.0L272.3 63.0L279.1 53.2L285.9 30.1L292.8 17.7L299.6 17.4L306.4 18.0L313.2 30.1L320.1 50.4L326.9 35.9L333.7 30.4L340.5 66.9L347.4 67.8L354.2 68.3" fill="none" stroke="#ababab" stroke-width="0.5" stroke-opacity="0.5" stroke-linejoin="round"/>
<polygon fill="#ababab" fill-opacity="1.00" points="204.0,65.4 207.4,67.0 210.8,68.3 214.2,69.0 217.7,69.5 221.1,69.5 224.5,69.5 227.9,69.1 231.3,68.6 234.7,67.7 238.1,66.6 241.6,65.9 245.0,64.8 248.4,61.8 251.8,58.3 255.2,54.9 258.6,50.6 262.0,54.9 265.4,58.3 268.9,59.9 272.3,60.6 275.7,50.2 279.1,38.7 282.5,29.1 285.9,14.4 289.3,15.4 292.8,13.8 296.2,15.4 299.6,13.8 303.0,15.1 306.4,13.8 309.8,17.2 313.2,15.0 316.6,28.0 320.1,38.1 323.5,47.7 326.9,55.5 330.3,59.0 333.7,61.8 337.1,62.7 340.5,63.0 344.0,63.5 347.4,63.6 350.8,64.3 354.2,64.8 354.2,77.8 347.4,76.2 340.5,74.9 333.7,73.6 326.9,72.3 320.1,68.3 313.2,57.7 306.4,54.1 299.6,60.0 292.8,71.9 285.9,76.6 279.1,77.8 272.3,78.5 265.4,78.5 258.6,78.5 251.8,78.5 245.0,78.5 238.1,78.5 231.3,78.5 224.5,78.5 217.7,78.5 210.8,78.5 204.0,78.5"/>
<path d="M333.7 68.2L340.5 95.6L347.4 68.2M333.7 68.2L340.5 93.8L347.4 68.2M333.7 68.2L340.5 92.1L347.4 68.2M333.7 68.2L340.5 90.3L347.4 68.2M347.4 67.2L354.2 101.5M347.4 67.2L354.2 98.0M347.4 67.2L354.2 94.4M347.4 67.2L354.2 90.9M347.4 67.2L354.2 87.3M347.4 67.2L354.2 83.8" fill="none" stroke="#ababab" stroke-width="0.6" stroke-linejoin="miter"/>
<polygon fill="#ababab" fill-opacity="0.85" points="349.4,76.7 354.2,100.4 354.2,77.8"/>
<path d="M204.0 73.5L210.8 74.3L217.7 74.9L224.5 75.2L231.3 74.9L238.1 74.3L245.0 74.9L251.8 75.2L258.6 71.6L265.4 72.4L272.3 73.0L279.1 56.7L285.9 34.6L292.8 24.1L299.6 26.3L306.4 29.6L313.2 33.2L320.1 47.0L326.9 58.1L333.7 68.3L340.5 71.0L347.4 72.4L354.2 79.3" fill="none" stroke="#0c0c0c" stroke-width="1.3" stroke-linejoin="round"/>
</g>
<clipPath id="c2"><rect x="393.25" y="6.70" width="151.00" height="118.55"/></clipPath>
<g clip-path="url(#c2)">
<polygon fill="#ababab" fill-opacity="0.12" points="393.2,39.3 400.1,45.8 407.0,51.2 413.8,53.8 420.7,42.3 427.6,31.0 434.4,33.4 441.3,18.0 448.2,12.0 455.0,16.2 461.9,35.2 465.3,42.3 468.8,29.2 475.6,22.1 482.5,16.8 489.3,15.0 496.2,15.6 503.1,19.7 509.9,28.6 516.8,13.2 523.7,12.0 530.5,18.6 537.4,28.0 544.2,35.7 544.2,79.8 537.4,79.8 530.5,79.8 523.7,79.8 516.8,79.8 509.9,79.8 503.1,79.8 496.2,79.8 489.3,79.8 482.5,79.8 475.6,79.8 468.8,79.8 461.9,79.8 455.0,77.2 448.2,74.3 441.3,79.5 434.4,79.8 427.6,79.8 420.7,79.8 413.8,79.8 407.0,79.8 400.1,79.8 393.2,79.8"/>
<polygon fill="#ababab" fill-opacity="0.22" points="393.2,79.8 400.1,79.8 407.0,79.8 413.8,79.8 420.7,79.8 427.6,79.8 434.4,79.8 441.3,79.5 448.2,74.3 455.0,77.2 461.9,79.8 468.8,79.8 475.6,79.8 482.5,79.8 489.3,79.8 496.2,79.8 503.1,79.8 509.9,79.8 516.8,79.8 523.7,79.8 530.5,79.8 537.4,79.8 544.2,79.8 544.2,81.9 537.4,81.9 530.5,81.9 523.7,81.9 516.8,81.9 509.9,81.9 503.1,81.9 496.2,81.9 489.3,81.9 482.5,81.9 475.6,81.9 468.8,81.9 461.9,81.9 455.0,79.3 448.2,76.3 441.3,81.5 434.4,81.9 427.6,81.9 420.7,81.9 413.8,81.9 407.0,81.9 400.1,81.9 393.2,81.9"/>
<polygon fill="#ababab" fill-opacity="0.50" points="465.3,42.3 468.8,29.2 475.6,22.1 482.5,16.8 489.3,15.0 496.2,15.6 503.1,19.7 509.9,28.6 516.8,13.2 523.7,12.0 530.5,18.6 537.4,28.0 544.2,35.7 544.2,47.6 537.4,47.0 530.5,46.4 523.7,45.8 516.8,45.6 509.9,39.9 503.1,30.4 496.2,23.9 489.3,23.1 482.5,25.7 475.6,31.6 468.8,42.3 465.3,47.0"/>
<path d="M393.2 51.2L400.1 55.5L407.0 55.7L413.8 56.0L420.7 49.8L427.6 45.4L434.4 36.8L441.3 31.3L448.2 12.2L455.0 28.2L461.9 45.5L468.8 42.3L475.6 31.8L482.5 21.2L489.3 26.3L496.2 28.8L503.1 25.0L509.9 45.8L516.8 27.6L523.7 33.5L530.5 25.8L537.4 48.5L544.2 42.3M393.2 39.7L400.1 46.3L407.0 56.7L413.8 60.1L420.7 43.7L427.6 37.6L434.4 35.6L441.3 24.5L448.2 20.8L455.0 25.5L461.9 35.3L468.8 30.2L475.6 37.8L482.5 20.7L489.3 19.3L496.2 24.4L503.1 20.1L509.9 39.3L516.8 41.9L523.7 14.9L530.5 32.3L537.4 51.8L544.2 46.8M393.2 41.6L400.1 51.3L407.0 58.5L413.8 57.5L420.7 50.9L427.6 34.7L434.4 34.3L441.3 25.8L448.2 18.7L455.0 17.3L461.9 46.6L468.8 36.6L475.6 25.9L482.5 29.8L489.3 18.7L496.2 27.2L503.1 24.7L509.9 29.0L516.8 43.3L523.7 30.7L530.5 41.1L537.4 50.8L544.2 39.9M393.2 39.8L400.1 46.1L407.0 59.7L413.8 54.3L420.7 43.0L427.6 37.1L434.4 35.4L441.3 24.6L448.2 13.2L455.0 19.1L461.9 44.6L468.8 31.8L475.6 37.5L482.5 20.5L489.3 19.0L496.2 18.1L503.1 31.1L509.9 37.5L516.8 48.2L523.7 23.9L530.5 50.9L537.4 38.7L544.2 43.6M393.2 40.7L400.1 51.2L407.0 54.6L413.8 54.3L420.7 52.1L427.6 31.5L434.4 37.0L441.3 24.9L448.2 18.0L455.0 26.2L461.9 45.6L468.8 32.9L475.6 34.0L482.5 17.1L489.3 23.3L496.2 22.6L503.1 28.1L509.9 42.8L516.8 44.0L523.7 28.9L530.5 26.8L537.4 36.3L544.2 36.8M393.2 43.6L400.1 51.9L407.0 57.1L413.8 56.3L420.7 43.3L427.6 37.4L434.4 33.5L441.3 30.4L448.2 15.0L455.0 31.9L461.9 49.5L468.8 35.4L475.6 33.4L482.5 23.2L489.3 27.1L496.2 20.5L503.1 27.4L509.9 32.5L516.8 23.2L523.7 36.6L530.5 19.6L537.4 28.1L544.2 47.2M393.2 41.1L400.1 48.0L407.0 54.0L413.8 54.1L420.7 56.7L427.6 46.1L434.4 33.9L441.3 21.2L448.2 16.7L455.0 20.0L461.9 38.4L468.8 40.8L475.6 35.1L482.5 22.2L489.3 15.8L496.2 26.2L503.1 39.2L509.9 46.3L516.8 13.3L523.7 21.6L530.5 23.3L537.4 46.8L544.2 46.3M393.2 43.8L400.1 54.8L407.0 55.0L413.8 58.6L420.7 45.4L427.6 31.1L434.4 34.2L441.3 20.5L448.2 12.2L455.0 18.9L461.9 45.7L468.8 32.7L475.6 26.2L482.5 28.4L489.3 23.7L496.2 27.8L503.1 30.9L509.9 47.4L516.8 43.6L523.7 40.7L530.5 27.0L537.4 51.3L544.2 42.7M393.2 51.3L400.1 52.3L407.0 55.0L413.8 57.8L420.7 54.9L427.6 42.3L434.4 39.0L441.3 30.4L448.2 15.3L455.0 29.9L461.9 39.7L468.8 36.7L475.6 28.2L482.5 32.4L489.3 16.7L496.2 21.5L503.1 26.7L509.9 31.7L516.8 25.2L523.7 34.0L530.5 39.8L537.4 40.6L544.2 39.5M393.2 43.6L400.1 54.3L407.0 52.2L413.8 57.9L420.7 50.1L427.6 40.2L434.4 38.8L441.3 22.6L448.2 14.6L455.0 28.3L461.9 36.2L468.8 43.6L475.6 26.6L482.5 22.0L489.3 23.3L496.2 26.7L503.1 30.8L509.9 32.1L516.8 30.2L523.7 19.3L530.5 23.3L537.4 34.3L544.2 51.4M393.2 48.8L400.1 54.9L407.0 56.2L413.8 58.9L420.7 54.6L427.6 39.1L434.4 34.3L441.3 18.5L448.2 14.3L455.0 29.9L461.9 36.9L468.8 40.2L475.6 36.7L482.5 31.0L489.3 24.1L496.2 24.8L503.1 34.0L509.9 29.1L516.8 17.0L523.7 27.7L530.5 37.3L537.4 29.4L544.2 40.9M393.2 43.1L400.1 55.7L407.0 59.6L413.8 53.8L420.7 54.1L427.6 33.1L434.4 40.9L441.3 23.3L448.2 15.5L455.0 17.1L461.9 49.0L468.8 30.6L475.6 31.8L482.5 18.6L489.3 15.8L496.2 23.0L503.1 26.8L509.9 40.9L516.8 19.1L523.7 30.0L530.5 31.5L537.4 50.9L544.2 49.1M393.2 40.4L400.1 46.0L407.0 52.8L413.8 60.1L420.7 51.5L427.6 44.0L434.4 35.5L441.3 31.4L448.2 19.3L455.0 22.4L461.9 37.9L468.8 44.2L475.6 32.3L482.5 33.3L489.3 22.7L496.2 31.0L503.1 24.6L509.9 46.0L516.8 22.4L523.7 12.1L530.5 47.0L537.4 30.5L544.2 35.8M393.2 50.0L400.1 48.7L407.0 58.9L413.8 59.4L420.7 42.3L427.6 39.1L434.4 40.3L441.3 21.6L448.2 19.8L455.0 23.2L461.9 47.7L468.8 45.8L475.6 23.0L482.5 18.7L489.3 22.6L496.2 25.1L503.1 29.4L509.9 42.0L516.8 27.4L523.7 29.7L530.5 40.6L537.4 31.6L544.2 46.1M393.2 39.7L400.1 46.0L407.0 57.5L413.8 60.0L420.7 48.2L427.6 40.0L434.4 35.6L441.3 32.7L448.2 13.7L455.0 32.1L461.9 50.8L468.8 31.9L475.6 33.8L482.5 28.6L489.3 25.8L496.2 23.7L503.1 28.4L509.9 36.9L516.8 17.9L523.7 47.2L530.5 38.0L537.4 44.4L544.2 37.8M393.2 47.5L400.1 46.8L407.0 54.1L413.8 55.2L420.7 52.0L427.6 43.3L434.4 35.6L441.3 32.0L448.2 14.6L455.0 31.8L461.9 44.1L468.8 39.7L475.6 33.8L482.5 18.9L489.3 25.3L496.2 27.2L503.1 27.3L509.9 45.5L516.8 36.9L523.7 46.9L530.5 43.0L537.4 30.8L544.2 51.2M393.2 46.7L400.1 49.7L407.0 56.7L413.8 57.0L420.7 51.1L427.6 35.6L434.4 37.5L441.3 27.5L448.2 16.2L455.0 26.4L461.9 46.1L468.8 36.1L475.6 29.6L482.5 22.7L489.3 18.3L496.2 15.7L503.1 23.0L509.9 29.5L516.8 34.3L523.7 16.3L530.5 36.1L537.4 42.4L544.2 46.5M393.2 50.1L400.1 51.7L407.0 59.7L413.8 60.3L420.7 48.5L427.6 36.5L434.4 38.8L441.3 29.8L448.2 18.6L455.0 19.5L461.9 37.6L468.8 42.2L475.6 34.8L482.5 30.3L489.3 19.9L496.2 19.4L503.1 26.1L509.9 47.2L516.8 28.1L523.7 46.5L530.5 22.7L537.4 43.0L544.2 45.6M393.2 42.8L400.1 53.1L407.0 59.5L413.8 57.6L420.7 46.1L427.6 45.4L434.4 35.6L441.3 20.7L448.2 16.5L455.0 21.0L461.9 43.3L468.8 43.3L475.6 26.8L482.5 26.1L489.3 22.2L496.2 27.8L503.1 34.2L509.9 33.8L516.8 33.0L523.7 14.3L530.5 50.6L537.4 38.9L544.2 41.0M393.2 46.7L400.1 54.8L407.0 54.5L413.8 59.1L420.7 50.3L427.6 39.3L434.4 36.9L441.3 23.5L448.2 16.1L455.0 21.1L461.9 45.7L468.8 34.4L475.6 27.9L482.5 21.5L489.3 21.9L496.2 25.2L503.1 24.4L509.9 28.8L516.8 22.8L523.7 34.5L530.5 32.8L537.4 38.5L544.2 39.5M393.2 44.2L400.1 47.6L407.0 57.7L413.8 59.4L420.7 47.6L427.6 35.1L434.4 40.0L441.3 29.5L448.2 12.3L455.0 21.5L461.9 41.5L468.8 34.6L475.6 22.8L482.5 18.0L489.3 26.4L496.2 29.5L503.1 39.5L509.9 34.1L516.8 42.5L523.7 36.6L530.5 39.3L537.4 42.2L544.2 38.8M393.2 49.9L400.1 52.7L407.0 54.9L413.8 55.3L420.7 45.7L427.6 43.0L434.4 38.2L441.3 29.0L448.2 17.2L455.0 29.8L461.9 42.5L468.8 30.9L475.6 33.4L482.5 29.0L489.3 16.4L496.2 29.6L503.1 33.6L509.9 37.4L516.8 40.8L523.7 20.3L530.5 47.2L537.4 49.5L544.2 47.8M393.2 47.2L400.1 51.7L407.0 54.9L413.8 59.8L420.7 48.9L427.6 32.7L434.4 40.2L441.3 24.1L448.2 17.2L455.0 20.8L461.9 43.1L468.8 51.3L475.6 26.6L482.5 21.4L489.3 21.1L496.2 19.3L503.1 38.8L509.9 34.7L516.8 42.9L523.7 37.2L530.5 22.4L537.4 38.4L544.2 48.1M393.2 43.0L400.1 50.3L407.0 54.4L413.8 55.0L420.7 53.5L427.6 41.4L434.4 34.1L441.3 18.4L448.2 18.0L455.0 27.9L461.9 48.2L468.8 38.8L475.6 32.9L482.5 18.9L489.3 17.8L496.2 31.9L503.1 20.6L509.9 29.8L516.8 16.6L523.7 39.8L530.5 42.8L537.4 44.5L544.2 46.2M393.2 51.1L400.1 51.6L407.0 58.6L413.8 55.0L420.7 51.4L427.6 34.2L434.4 37.6L441.3 28.0L448.2 13.2L455.0 22.6L461.9 41.7L468.8 39.0L475.6 27.4L482.5 27.0L489.3 25.8L496.2 29.1L503.1 32.4L509.9 37.6L516.8 30.1L523.7 31.0L530.5 44.4L537.4 51.1L544.2 50.4M393.2 46.2L400.1 55.5L407.0 53.6L413.8 60.4L420.7 53.1L427.6 39.9L434.4 35.1L441.3 31.7L448.2 18.7L455.0 30.7L461.9 42.0L468.8 50.5L475.6 40.5L482.5 33.3L489.3 20.5L496.2 24.8L503.1 30.6L509.9 36.4L516.8 32.1L523.7 12.1L530.5 19.4L537.4 44.7L544.2 45.3M393.2 44.5L400.1 49.0L407.0 60.3L413.8 57.8L420.7 56.1L427.6 32.1L434.4 39.1L441.3 21.5L448.2 18.6L455.0 25.9L461.9 51.4L468.8 35.9L475.6 34.0L482.5 18.1L489.3 28.7L496.2 20.2L503.1 26.5L509.9 36.5L516.8 47.9L523.7 39.3L530.5 46.7L537.4 30.3L544.2 46.0M393.2 39.9L400.1 46.8L407.0 52.0L413.8 55.2L420.7 46.8L427.6 43.2L434.4 33.4L441.3 21.8L448.2 16.4L455.0 26.8L461.9 47.7L468.8 34.1L475.6 37.9L482.5 20.0L489.3 20.8L496.2 19.8L503.1 28.4L509.9 45.9L516.8 34.3L523.7 24.0L530.5 50.1L537.4 33.4L544.2 42.6M393.2 46.9L400.1 49.8L407.0 58.9L413.8 55.4L420.7 46.7L427.6 37.5L434.4 34.9L441.3 22.7L448.2 14.7L455.0 20.3L461.9 51.0L468.8 42.9L475.6 24.1L482.5 20.8L489.3 25.6L496.2 16.1L503.1 21.6L509.9 35.2L516.8 17.5L523.7 42.5L530.5 25.1L537.4 42.8L544.2 40.9M393.2 45.9L400.1 52.4L407.0 56.3L413.8 59.6L420.7 55.2L427.6 37.0L434.4 35.0L441.3 31.8L448.2 13.8L455.0 17.6L461.9 40.6L468.8 35.5L475.6 30.7L482.5 28.5L489.3 19.2L496.2 21.0L503.1 35.6L509.9 34.4L516.8 37.7L523.7 17.3L530.5 36.3L537.4 39.3L544.2 37.3M393.2 50.1L400.1 49.1L407.0 52.4L413.8 54.0L420.7 46.5L427.6 41.4L434.4 39.0L441.3 27.3L448.2 15.0L455.0 17.3L461.9 38.0L468.8 43.2L475.6 23.1L482.5 17.1L489.3 29.1L496.2 23.7L503.1 27.1L509.9 42.9L516.8 49.8L523.7 40.1L530.5 22.3L537.4 36.1L544.2 46.2M393.2 41.1L400.1 55.8L407.0 55.2L413.8 57.1L420.7 55.2L427.6 32.2L434.4 39.6L441.3 23.4L448.2 12.3L455.0 26.6L461.9 35.6L468.8 44.5L475.6 27.6L482.5 25.9L489.3 16.3L496.2 21.0L503.1 35.7L509.9 36.4L516.8 31.6L523.7 22.3L530.5 38.0L537.4 33.7L544.2 47.9M393.2 42.5L400.1 47.2L407.0 58.6L413.8 54.3L420.7 43.5L427.6 40.5L434.4 35.5L441.3 31.9L448.2 20.9L455.0 19.1L461.9 42.1L468.8 42.4L475.6 27.6L482.5 22.0L489.3 21.7L496.2 27.8L503.1 19.9L509.9 44.9L516.8 31.8L523.7 36.6L530.5 49.0L537.4 28.6L544.2 43.8M393.2 42.2L400.1 50.9L407.0 53.7L413.8 58.3L420.7 53.1L427.6 36.3L434.4 35.2L441.3 27.2L448.2 13.9L455.0 29.7L461.9 51.7L468.8 47.9L475.6 40.4L482.5 30.5L489.3 24.2L496.2 26.1L503.1 29.8L509.9 45.0L516.8 45.2L523.7 44.0L530.5 22.0L537.4 32.7L544.2 46.8M393.2 42.9L400.1 54.8L407.0 53.7L413.8 57.5L420.7 47.8L427.6 31.8L434.4 34.9L441.3 22.3L448.2 14.1L455.0 21.7L461.9 47.2L468.8 37.5L475.6 24.2L482.5 23.2L489.3 18.6L496.2 31.5L503.1 32.1L509.9 31.6L516.8 42.9L523.7 41.1L530.5 45.1L537.4 30.9L544.2 46.1M393.2 41.0L400.1 46.8L407.0 55.3L413.8 56.5L420.7 43.7L427.6 33.3L434.4 36.6L441.3 20.3L448.2 18.4L455.0 18.1L461.9 41.2L468.8 40.1L475.6 40.8L482.5 19.4L489.3 26.3L496.2 29.8L503.1 24.7L509.9 42.6L516.8 25.5L523.7 26.3L530.5 49.5L537.4 47.2L544.2 46.5M393.2 48.5L400.1 48.6L407.0 58.0L413.8 56.2L420.7 44.8L427.6 43.3L434.4 33.6L441.3 25.1L448.2 14.0L455.0 17.8L461.9 48.3L468.8 51.0L475.6 38.1L482.5 22.8L489.3 17.9L496.2 30.8L503.1 24.1L509.9 30.3L516.8 36.9L523.7 14.4L530.5 43.0L537.4 41.9L544.2 50.0M393.2 43.3L400.1 54.2L407.0 57.3L413.8 55.2L420.7 46.9L427.6 40.1L434.4 36.1L441.3 20.0L448.2 13.5L455.0 29.7L461.9 49.9L468.8 39.1L475.6 24.2L482.5 23.6L489.3 26.0L496.2 31.5L503.1 22.5L509.9 31.3L516.8 24.4L523.7 45.0L530.5 21.7L537.4 39.4L544.2 44.0M393.2 41.6L400.1 47.9L407.0 51.8L413.8 58.6L420.7 44.6L427.6 38.3L434.4 40.1L441.3 31.6L448.2 13.9L455.0 28.7L461.9 45.0L468.8 29.3L475.6 25.5L482.5 25.4L489.3 18.2L496.2 27.0L503.1 24.3L509.9 44.2L516.8 21.3L523.7 44.2L530.5 50.9L537.4 35.2L544.2 36.9M393.2 47.4L400.1 50.5L407.0 52.0L413.8 59.2L420.7 49.0L427.6 35.3L434.4 37.1L441.3 27.5L448.2 14.5L455.0 22.0L461.9 36.6L468.8 45.9L475.6 33.7L482.5 23.4L489.3 24.8L496.2 25.3L503.1 22.7L509.9 40.0L516.8 26.7L523.7 23.3L530.5 19.6L537.4 30.8L544.2 45.1M393.2 49.4L400.1 52.2L407.0 60.3L413.8 60.3L420.7 47.3L427.6 38.7L434.4 36.6L441.3 31.0L448.2 16.9L455.0 23.1L461.9 50.5L468.8 42.4L475.6 33.0L482.5 30.9L489.3 23.7L496.2 29.7L503.1 20.1L509.9 34.4L516.8 44.9L523.7 39.3L530.5 20.9L537.4 39.2L544.2 40.5M393.2 49.7L400.1 52.2L407.0 58.4L413.8 59.5L420.7 56.7L427.6 38.9L434.4 38.7L441.3 28.2L448.2 19.9L455.0 30.7L461.9 43.3L468.8 35.1L475.6 37.5L482.5 27.3L489.3 26.6L496.2 18.1L503.1 35.3L509.9 36.2L516.8 34.6L523.7 14.9L530.5 49.9L537.4 39.0L544.2 48.4M393.2 48.1L400.1 52.9L407.0 53.0L413.8 59.0L420.7 47.9L427.6 38.5L434.4 35.0L441.3 22.6L448.2 16.4L455.0 16.4L461.9 42.6L468.8 41.2L475.6 27.8L482.5 31.0L489.3 24.3L496.2 21.9L503.1 32.9L509.9 40.3L516.8 41.9L523.7 17.3L530.5 42.9L537.4 42.8L544.2 42.5M393.2 48.1L400.1 54.9L407.0 54.7L413.8 58.6L420.7 47.3L427.6 45.4L434.4 39.7L441.3 22.9L448.2 12.8L455.0 21.3L461.9 36.4L468.8 46.1L475.6 39.4L482.5 28.5L489.3 15.3L496.2 18.5L503.1 38.6L509.9 31.3L516.8 32.3L523.7 49.0L530.5 19.5L537.4 41.4L544.2 51.3M393.2 42.8L400.1 49.1L407.0 59.9L413.8 60.2L420.7 54.3L427.6 44.7L434.4 34.6L441.3 31.9L448.2 18.1L455.0 21.5L461.9 40.4L468.8 32.9L475.6 28.9L482.5 30.1L489.3 22.0L496.2 24.9L503.1 28.0L509.9 37.0L516.8 14.5L523.7 15.3L530.5 46.6L537.4 48.9L544.2 45.4M393.2 44.4L400.1 53.9L407.0 53.8L413.8 57.6L420.7 53.3L427.6 40.0L434.4 38.8L441.3 19.5L448.2 17.0L455.0 30.1L461.9 44.1L468.8 48.3L475.6 35.7L482.5 27.6L489.3 26.0L496.2 31.7L503.1 21.9L509.9 35.0L516.8 22.3L523.7 49.0L530.5 33.6L537.4 40.1L544.2 36.5M393.2 40.1L400.1 53.8L407.0 55.0L413.8 56.6L420.7 56.5L427.6 31.4L434.4 33.8L441.3 23.3L448.2 13.0L455.0 27.2L461.9 41.2L468.8 36.8L475.6 39.4L482.5 33.1L489.3 15.0L496.2 23.0L503.1 28.3L509.9 44.6L516.8 43.0L523.7 21.3L530.5 34.2L537.4 47.1L544.2 46.0M393.2 42.4L400.1 46.1L407.0 58.0L413.8 55.2L420.7 51.0L427.6 43.3L434.4 33.5L441.3 21.9L448.2 16.5L455.0 18.6L461.9 48.2L468.8 31.4L475.6 32.9L482.5 27.0L489.3 24.6L496.2 24.0L503.1 29.5L509.9 38.5L516.8 23.1L523.7 48.9L530.5 33.1L537.4 34.8L544.2 48.6M393.2 42.3L400.1 46.5L407.0 58.1L413.8 58.4L420.7 46.5L427.6 43.0L434.4 34.2L441.3 29.1L448.2 18.0L455.0 17.7L461.9 42.7L468.8 36.2L475.6 30.8L482.5 29.7L489.3 26.4L496.2 15.7L503.1 33.6L509.9 37.5L516.8 33.9L523.7 40.8L530.5 43.7L537.4 39.2L544.2 50.8M393.2 41.8L400.1 48.4L407.0 59.1L413.8 57.0L420.7 55.6L427.6 43.8L434.4 34.3L441.3 19.2L448.2 14.9L455.0 21.1L461.9 50.0L468.8 34.0L475.6 41.5L482.5 32.1L489.3 15.1L496.2 29.8L503.1 28.6L509.9 40.7L516.8 43.5L523.7 21.5L530.5 24.1L537.4 42.9L544.2 47.4M393.2 42.6L400.1 49.6L407.0 55.1L413.8 56.7L420.7 50.3L427.6 38.8L434.4 40.2L441.3 19.2L448.2 16.7L455.0 23.7L461.9 50.7L468.8 47.5L475.6 24.2L482.5 20.9L489.3 23.8L496.2 22.4L503.1 32.8L509.9 39.2L516.8 27.1L523.7 25.6L530.5 29.6L537.4 43.3L544.2 37.0M393.2 41.8L400.1 51.4L407.0 55.5L413.8 60.2L420.7 53.5L427.6 41.7L434.4 39.1L441.3 22.0L448.2 12.3L455.0 18.3L461.9 44.4L468.8 38.8L475.6 37.3L482.5 20.0L489.3 21.0L496.2 28.1L503.1 33.5L509.9 38.0L516.8 24.6L523.7 44.3L530.5 48.3L537.4 48.9L544.2 46.1M393.2 50.4L400.1 54.9L407.0 51.4L413.8 57.5L420.7 51.9L427.6 44.7L434.4 40.8L441.3 23.2L448.2 13.5L455.0 19.1L461.9 41.8L468.8 32.7L475.6 31.6L482.5 21.7L489.3 26.8L496.2 27.0L503.1 25.3L509.9 41.2L516.8 34.8L523.7 12.5L530.5 41.4L537.4 40.0L544.2 37.2M393.2 45.6L400.1 46.9L407.0 53.7L413.8 54.1L420.7 42.5L427.6 37.8L434.4 36.6L441.3 19.5L448.2 16.1L455.0 30.4L461.9 37.8L468.8 40.5L475.6 30.3L482.5 22.5L489.3 26.3L496.2 28.5L503.1 36.3L509.9 34.1L516.8 35.6L523.7 22.2L530.5 39.0L537.4 51.7L544.2 38.5M393.2 40.0L400.1 48.9L407.0 56.3L413.8 55.8L420.7 49.9L427.6 44.5L434.4 40.7L441.3 30.7L448.2 12.7L455.0 23.7L461.9 48.0L468.8 33.5L475.6 27.6L482.5 18.8L489.3 16.6L496.2 29.2L503.1 37.9L509.9 43.4L516.8 24.6L523.7 45.0L530.5 42.9L537.4 34.2L544.2 47.1M393.2 41.2L400.1 55.8L407.0 53.0L413.8 57.7L420.7 52.4L427.6 41.2L434.4 40.9L441.3 23.3L448.2 12.1L455.0 29.1L461.9 40.7L468.8 37.9L475.6 29.0L482.5 21.6L489.3 16.6L496.2 15.7L503.1 29.2L509.9 29.3L516.8 30.4L523.7 15.1L530.5 33.9L537.4 32.4L544.2 49.7M393.2 50.8L400.1 52.4L407.0 59.3L413.8 57.7L420.7 54.4L427.6 36.0L434.4 38.3L441.3 29.2L448.2 13.4L455.0 19.0L461.9 46.8L468.8 40.8L475.6 39.5L482.5 20.3L489.3 15.2L496.2 22.3L503.1 37.9L509.9 46.7L516.8 33.2L523.7 28.7L530.5 34.2L537.4 47.5L544.2 39.8M393.2 43.8L400.1 54.1L407.0 59.6L413.8 54.0L420.7 54.7L427.6 45.8L434.4 41.0L441.3 26.9L448.2 13.7L455.0 30.0L461.9 48.5L468.8 41.6L475.6 30.9L482.5 22.0L489.3 17.5L496.2 23.0L503.1 35.1L509.9 40.3L516.8 33.5L523.7 50.3L530.5 32.9L537.4 37.9L544.2 39.0M393.2 44.2L400.1 53.9L407.0 59.6L413.8 56.7L420.7 54.1L427.6 40.0L434.4 37.5L441.3 25.6L448.2 19.4L455.0 17.2L461.9 50.6L468.8 39.4L475.6 29.1L482.5 25.9L489.3 17.9L496.2 21.7L503.1 26.7L509.9 46.8L516.8 29.0L523.7 13.0L530.5 24.4L537.4 36.0L544.2 39.0M393.2 40.9L400.1 56.4L407.0 56.0L413.8 58.0L420.7 43.4L427.6 35.1L434.4 40.2L441.3 25.9L448.2 19.4L455.0 16.3L461.9 43.4L468.8 44.9L475.6 34.4L482.5 16.8L489.3 21.2L496.2 22.2L503.1 26.4L509.9 35.1L516.8 29.0L523.7 50.8L530.5 44.8L537.4 41.1L544.2 38.2M393.2 79.5L400.1 79.2L407.0 79.0L413.8 79.3L420.7 79.3L427.6 79.3L434.4 79.2L441.3 78.9L448.2 73.1L455.0 76.9L461.9 79.6L468.8 79.4L475.6 79.4L482.5 79.5L489.3 79.3L496.2 79.3L503.1 79.3L509.9 79.2L516.8 79.1L523.7 79.1L530.5 79.1L537.4 79.1L544.2 78.8M393.2 79.0L400.1 79.1L407.0 79.1L413.8 79.2L420.7 78.9L427.6 79.0L434.4 79.4L441.3 79.0L448.2 73.5L455.0 76.3L461.9 78.8L468.8 79.0L475.6 79.0L482.5 79.2L489.3 79.6L496.2 79.4L503.1 79.1L509.9 79.4L516.8 79.3L523.7 79.3L530.5 79.6L537.4 79.6L544.2 79.1M393.2 79.7L400.1 79.2L407.0 79.2L413.8 79.6L420.7 79.8L427.6 79.8L434.4 79.1L441.3 79.2L448.2 73.9L455.0 76.6L461.9 79.4L468.8 79.2L475.6 79.4L482.5 79.5L489.3 79.6L496.2 79.7L503.1 79.5L509.9 79.1L516.8 79.1L523.7 79.1L530.5 79.3L537.4 79.3L544.2 79.5M393.2 79.8L400.1 79.4L407.0 79.6L413.8 79.5L420.7 79.7L427.6 79.7L434.4 79.8L441.3 79.3L448.2 73.7L455.0 76.8L461.9 79.6L468.8 79.5L475.6 79.4L482.5 79.6L489.3 79.5L496.2 79.8L503.1 79.8L509.9 79.4L516.8 79.7L523.7 79.5L530.5 79.4L537.4 79.3L544.2 79.2M393.2 79.3L400.1 79.5L407.0 79.3L413.8 79.2L420.7 79.3L427.6 79.4L434.4 79.5L441.3 79.1L448.2 73.1L455.0 76.4L461.9 79.2L468.8 78.9L475.6 79.3L482.5 79.3L489.3 79.5L496.2 79.3L503.1 79.4L509.9 79.3L516.8 79.3L523.7 79.4L530.5 79.3L537.4 79.4L544.2 79.3M393.2 79.8L400.1 79.8L407.0 79.6L413.8 79.7L420.7 79.3L427.6 79.5L434.4 79.6L441.3 79.3L448.2 73.8L455.0 76.9L461.9 79.8L468.8 79.8L475.6 79.3L482.5 79.8L489.3 79.5L496.2 79.7L503.1 79.5L509.9 79.7L516.8 79.7L523.7 79.7L530.5 79.8L537.4 79.8L544.2 79.8M393.2 78.9L400.1 79.4L407.0 79.2L413.8 79.4L420.7 79.2L427.6 79.1L434.4 79.0L441.3 78.4L448.2 73.4L455.0 76.4L461.9 79.2L468.8 79.0L475.6 79.3L482.5 79.1L489.3 79.0L496.2 78.9L503.1 79.3L509.9 79.2L516.8 79.1L523.7 78.9L530.5 79.2L537.4 79.2L544.2 79.0M393.2 79.8L400.1 79.7L407.0 79.6L413.8 79.6L420.7 79.3L427.6 79.0L434.4 79.1L441.3 78.8L448.2 73.6L455.0 77.1L461.9 79.8L468.8 79.7L475.6 79.8L482.5 79.7L489.3 79.7L496.2 79.7L503.1 79.6L509.9 79.6L516.8 79.8L523.7 79.8L530.5 79.8L537.4 79.8L544.2 79.5M393.2 79.4L400.1 79.6L407.0 79.5L413.8 79.3L420.7 79.0L427.6 79.2L434.4 79.2L441.3 78.7L448.2 73.3L455.0 76.0L461.9 79.2L468.8 78.8L475.6 78.8L482.5 78.8L489.3 78.9L496.2 79.2L503.1 79.0L509.9 79.3L516.8 79.1L523.7 79.1L530.5 79.3L537.4 79.1L544.2 79.5M393.2 79.5L400.1 79.2L407.0 79.8L413.8 79.4L420.7 79.5L427.6 79.3L434.4 79.6L441.3 79.3L448.2 74.1L455.0 76.5L461.9 79.6L468.8 79.7L475.6 79.7L482.5 79.5L489.3 79.3L496.2 79.5L503.1 79.5L509.9 79.1L516.8 79.5L523.7 79.5L530.5 79.3L537.4 79.2L544.2 79.4M393.2 79.1L400.1 79.2L407.0 79.2L413.8 79.0L420.7 78.9L427.6 79.2L434.4 79.0L441.3 78.4L448.2 72.5L455.0 76.2L461.9 79.4L468.8 79.2L475.6 79.0L482.5 79.1L489.3 79.1L496.2 79.3L503.1 79.3L509.9 79.3L516.8 79.3L523.7 79.2L530.5 78.9L537.4 78.9L544.2 79.3M393.2 79.3L400.1 79.0L407.0 79.1L413.8 79.2L420.7 79.2L427.6 78.8L434.4 79.0L441.3 78.7L448.2 73.2L455.0 76.6L461.9 79.0L468.8 78.9L475.6 79.0L482.5 79.1L489.3 78.8L496.2 78.8L503.1 79.3L509.9 79.0L516.8 79.2L523.7 79.3L530.5 79.2L537.4 79.1L544.2 79.2M393.2 79.8L400.1 79.7L407.0 79.7L413.8 79.5L420.7 79.5L427.6 79.5L434.4 79.8L441.3 79.2L448.2 73.3L455.0 76.4L461.9 79.2L468.8 79.4L475.6 79.5L482.5 79.3L489.3 79.3L496.2 79.4L503.1 79.6L509.9 79.7L516.8 79.8L523.7 79.8L530.5 79.8L537.4 79.7L544.2 79.5M393.2 79.7L400.1 79.8L407.0 79.8L413.8 79.8L420.7 79.4L427.6 79.6L434.4 79.2L441.3 78.9L448.2 74.1L455.0 77.0L461.9 79.4L468.8 79.5L475.6 79.3L482.5 79.4L489.3 79.8L496.2 79.4L503.1 79.3L509.9 79.5L516.8 79.8L523.7 79.8L530.5 79.7L537.4 79.7L544.2 79.7M393.2 50.3L400.1 55.6L407.0 59.5L413.8 59.5L420.7 55.6L427.6 44.9L434.4 39.9L441.3 31.8L448.2 20.0L455.0 31.1L461.9 50.6L468.8 50.6L475.6 40.5L482.5 32.2L489.3 27.9L496.2 30.7L503.1 38.7L509.9 46.3L516.8 12.4L523.7 11.0L530.5 17.9L537.4 25.9L544.2 51.2M393.2 50.3L400.1 55.6L407.0 59.5L413.8 59.5L420.7 55.6L427.6 44.9L434.4 39.9L441.3 31.8L448.2 20.0L455.0 31.1L461.9 50.6L468.8 50.6L475.6 20.7L482.5 15.9L489.3 14.3L496.2 14.8L503.1 18.8L509.9 46.3L516.8 49.3L523.7 49.7L530.5 50.3L537.4 50.9L544.2 51.2M393.2 50.3L400.1 55.6L407.0 59.5L413.8 59.5L420.7 55.6L427.6 20.6L434.4 26.3L441.3 31.8L448.2 20.0L455.0 31.1L461.9 50.6L468.8 50.6L475.6 40.5L482.5 32.2L489.3 27.9L496.2 30.7L503.1 38.7L509.9 46.3L516.8 49.3L523.7 49.7L530.5 50.3L537.4 50.9L544.2 51.2M393.2 50.3L400.1 55.6L407.0 59.5L413.8 59.5L420.7 39.3L427.6 27.5L434.4 30.9L441.3 31.8L448.2 20.0L455.0 31.1L461.9 50.6L468.8 50.6L475.6 40.5L482.5 32.2L489.3 27.9L496.2 30.7L503.1 38.7L509.9 46.3L516.8 49.3L523.7 49.7L530.5 50.3L537.4 50.9L544.2 51.2M393.2 50.3L400.1 44.0L407.0 49.7L413.8 59.5L420.7 55.6L427.6 44.9L434.4 39.9L441.3 31.8L448.2 20.0L455.0 31.1L461.9 50.6L468.8 50.6L475.6 40.5L482.5 32.2L489.3 27.9L496.2 30.7L503.1 38.7L509.9 46.3L516.8 49.3L523.7 49.7L530.5 50.3L537.4 50.9L544.2 51.2M393.2 37.8L400.1 44.1L407.0 49.4L413.8 52.3L420.7 35.6L427.6 24.4L434.4 39.9L441.3 31.8L448.2 20.0L455.0 31.1L461.9 50.6L468.8 50.6L475.6 40.5L482.5 32.2L489.3 27.9L496.2 30.7L503.1 38.7L509.9 46.3L516.8 49.3L523.7 49.7L530.5 50.3L537.4 50.9L544.2 51.2M393.2 50.3L400.1 55.6L407.0 59.5L413.8 59.5L420.7 55.6L427.6 24.4L434.4 28.8L441.3 17.4L448.2 20.0L455.0 31.1L461.9 32.8L468.8 28.1L475.6 21.4L482.5 32.2L489.3 27.9L496.2 30.7L503.1 38.7L509.9 46.3L516.8 49.3L523.7 49.7L530.5 50.3L537.4 50.9L544.2 51.2M393.2 50.3L400.1 55.6L407.0 59.5L413.8 59.5L420.7 55.6L427.6 44.9L434.4 39.9L441.3 31.8L448.2 20.0L455.0 31.1L461.9 50.6L468.8 50.6L475.6 21.6L482.5 16.2L489.3 14.4L496.2 15.1L503.1 38.7L509.9 46.3L516.8 49.3L523.7 49.7L530.5 50.3L537.4 50.9L544.2 51.2M393.2 50.3L400.1 55.6L407.0 59.5L413.8 52.0L420.7 34.0L427.6 20.4L434.4 26.7L441.3 16.8L448.2 20.0L455.0 31.1L461.9 50.6L468.8 50.6L475.6 40.5L482.5 32.2L489.3 27.9L496.2 30.7L503.1 38.7L509.9 46.3L516.8 49.3L523.7 49.7L530.5 50.3L537.4 50.9L544.2 51.2M393.2 50.3L400.1 55.6L407.0 59.5L413.8 52.4L420.7 37.6L427.6 26.2L434.4 31.5L441.3 31.8L448.2 20.0L455.0 31.1L461.9 50.6L468.8 50.6L475.6 40.5L482.5 32.2L489.3 27.9L496.2 30.7L503.1 38.7L509.9 46.3L516.8 49.3L523.7 11.4L530.5 17.7L537.4 24.9L544.2 34.3M393.2 38.6L400.1 44.3L407.0 59.5L413.8 59.5L420.7 55.6L427.6 44.9L434.4 39.9L441.3 31.8L448.2 20.0L455.0 31.1L461.9 50.6L468.8 50.6L475.6 40.5L482.5 32.2L489.3 27.9L496.2 30.7L503.1 38.7L509.9 46.3L516.8 49.3L523.7 49.7L530.5 50.3L537.4 50.9L544.2 51.2M393.2 50.3L400.1 55.6L407.0 59.5L413.8 59.5L420.7 36.8L427.6 28.6L434.4 30.4L441.3 17.3L448.2 20.0L455.0 31.1L461.9 50.6L468.8 50.6L475.6 40.5L482.5 32.2L489.3 27.9L496.2 30.7L503.1 38.7L509.9 46.3L516.8 49.3L523.7 49.7L530.5 50.3L537.4 50.9L544.2 51.2M393.2 50.3L400.1 55.6L407.0 49.4L413.8 51.2L420.7 55.6L427.6 44.9L434.4 39.9L441.3 31.8L448.2 20.0L455.0 31.1L461.9 50.6L468.8 50.6L475.6 40.5L482.5 32.2L489.3 27.9L496.2 30.7L503.1 38.7L509.9 46.3L516.8 49.3L523.7 49.7L530.5 50.3L537.4 50.9L544.2 51.2M393.2 50.3L400.1 55.6L407.0 59.5L413.8 59.5L420.7 55.6L427.6 44.9L434.4 39.9L441.3 31.8L448.2 20.0L455.0 31.1L461.9 50.6L468.8 50.6L475.6 40.5L482.5 32.2L489.3 27.9L496.2 30.7L503.1 38.7L509.9 46.3L516.8 49.3L523.7 49.7L530.5 50.3L537.4 50.9L544.2 35.4M393.2 50.3L400.1 55.6L407.0 59.5L413.8 59.5L420.7 55.6L427.6 44.9L434.4 39.9L441.3 31.8L448.2 20.0L455.0 31.1L461.9 50.6L468.8 50.6L475.6 20.8L482.5 15.8L489.3 14.0L496.2 30.7L503.1 38.7L509.9 46.3L516.8 49.3L523.7 49.7L530.5 50.3L537.4 50.9L544.2 51.2M393.2 50.3L400.1 55.6L407.0 59.5L413.8 59.5L420.7 55.6L427.6 23.9L434.4 29.3L441.3 16.9L448.2 11.8L455.0 31.1L461.9 50.6L468.8 50.6L475.6 40.5L482.5 32.2L489.3 27.9L496.2 30.7L503.1 38.7L509.9 46.3L516.8 49.3L523.7 49.7L530.5 50.3L537.4 50.9L544.2 51.2M393.2 50.3L400.1 55.6L407.0 59.5L413.8 59.5L420.7 36.0L427.6 21.8L434.4 26.3L441.3 16.8L448.2 20.0L455.0 31.1L461.9 50.6L468.8 50.6L475.6 40.5L482.5 32.2L489.3 27.9L496.2 30.7L503.1 38.7L509.9 46.3L516.8 49.3L523.7 49.7L530.5 50.3L537.4 50.9L544.2 51.2M393.2 50.3L400.1 55.6L407.0 59.5L413.8 59.5L420.7 55.6L427.6 44.9L434.4 39.9L441.3 31.8L448.2 11.5L455.0 15.0L461.9 32.2L468.8 26.6L475.6 20.3L482.5 15.6L489.3 27.9L496.2 30.7L503.1 38.7L509.9 46.3L516.8 49.3L523.7 49.7L530.5 50.3L537.4 50.9L544.2 51.2M393.2 50.3L400.1 55.6L407.0 59.5L413.8 52.3L420.7 34.8L427.6 21.3L434.4 27.4L441.3 31.8L448.2 20.0L455.0 15.7L461.9 32.8L468.8 27.8L475.6 40.5L482.5 32.2L489.3 27.9L496.2 30.7L503.1 38.7L509.9 46.3L516.8 49.3L523.7 49.7L530.5 50.3L537.4 50.9L544.2 51.2M393.2 37.1L400.1 43.9L407.0 49.4L413.8 59.5L420.7 55.6L427.6 44.9L434.4 39.9L441.3 31.8L448.2 20.0L455.0 31.1L461.9 50.6L468.8 50.6L475.6 40.5L482.5 32.2L489.3 27.9L496.2 30.7L503.1 19.1L509.9 27.1L516.8 12.4L523.7 49.7L530.5 50.3L537.4 50.9L544.2 51.2M393.2 50.3L400.1 55.6L407.0 59.5L413.8 59.5L420.7 55.6L427.6 44.9L434.4 39.9L441.3 31.8L448.2 20.0L455.0 31.1L461.9 50.6L468.8 50.6L475.6 40.5L482.5 32.2L489.3 27.9L496.2 30.7L503.1 38.7L509.9 46.3L516.8 49.3L523.7 11.5L530.5 50.3L537.4 50.9L544.2 51.2M393.2 50.3L400.1 55.6L407.0 59.5L413.8 59.5L420.7 55.6L427.6 44.9L434.4 39.9L441.3 31.8L448.2 20.0L455.0 31.1L461.9 50.6L468.8 50.6L475.6 21.9L482.5 16.0L489.3 14.6L496.2 14.8L503.1 19.2L509.9 46.3L516.8 49.3L523.7 49.7L530.5 50.3L537.4 50.9L544.2 51.2M393.2 50.3L400.1 55.6L407.0 59.5L413.8 59.5L420.7 55.6L427.6 44.9L434.4 28.6L441.3 17.0L448.2 11.4L455.0 15.3L461.9 33.7L468.8 27.4L475.6 21.5L482.5 32.2L489.3 27.9L496.2 30.7L503.1 38.7L509.9 46.3L516.8 49.3L523.7 49.7L530.5 50.3L537.4 50.9L544.2 51.2M393.2 50.3L400.1 55.6L407.0 59.5L413.8 52.6L420.7 39.5L427.6 44.9L434.4 39.9L441.3 31.8L448.2 20.0L455.0 31.1L461.9 50.6L468.8 50.6L475.6 40.5L482.5 32.2L489.3 27.9L496.2 30.7L503.1 38.7L509.9 46.3L516.8 49.3L523.7 49.7L530.5 50.3L537.4 50.9L544.2 51.2M393.2 50.3L400.1 55.6L407.0 59.5L413.8 59.5L420.7 55.6L427.6 22.1L434.4 27.6L441.3 31.8L448.2 20.0L455.0 31.1L461.9 50.6L468.8 50.6L475.6 40.5L482.5 32.2L489.3 27.9L496.2 30.7L503.1 38.7L509.9 46.3L516.8 49.3L523.7 49.7L530.5 50.3L537.4 50.9L544.2 51.2M393.2 50.3L400.1 55.6L407.0 59.5L413.8 59.5L420.7 55.6L427.6 44.9L434.4 39.9L441.3 31.8L448.2 20.0L455.0 31.1L461.9 50.6L468.8 50.6L475.6 40.5L482.5 32.2L489.3 27.9L496.2 30.7L503.1 38.7L509.9 46.3L516.8 49.3L523.7 49.7L530.5 50.3L537.4 50.9L544.2 33.2" fill="none" stroke="#ababab" stroke-width="0.5" stroke-opacity="0.5" stroke-linejoin="round"/>
<polygon fill="#ababab" fill-opacity="1.00" points="393.2,44.0 396.7,47.3 400.1,49.4 403.5,52.8 407.0,54.7 410.4,56.3 413.8,57.1 417.3,52.9 420.7,47.0 424.1,42.6 427.6,35.7 431.0,37.5 434.4,36.9 437.9,30.1 441.3,19.6 444.7,18.7 448.2,13.2 451.6,16.5 455.0,17.4 458.5,29.3 461.9,37.8 465.3,47.0 468.8,42.3 472.2,38.4 475.6,31.6 479.0,30.3 482.5,25.7 485.9,26.9 489.3,23.1 492.8,25.8 496.2,23.9 499.6,28.6 503.1,30.4 506.5,36.2 509.9,39.9 513.4,43.4 516.8,45.6 520.2,47.0 523.7,45.8 527.1,47.2 530.5,46.4 534.0,47.7 537.4,47.0 540.8,48.1 544.2,47.6 544.2,79.0 537.4,79.0 530.5,79.0 523.7,79.0 516.8,79.0 509.9,79.0 503.1,79.0 496.2,79.0 489.3,79.0 482.5,79.0 475.6,79.0 468.8,79.0 461.9,79.0 455.0,76.1 448.2,72.9 441.3,78.7 434.4,79.0 427.6,79.0 420.7,79.0 413.8,79.0 407.0,79.0 400.1,79.0 393.2,79.0"/>
<path d="M455.0 70.7L461.9 87.3L468.8 70.7M455.0 70.7L461.9 85.5L468.8 70.7M523.7 73.7L530.5 92.6L537.4 73.7M523.7 73.7L530.5 90.9L537.4 73.7M523.7 73.7L530.5 89.1L537.4 73.7M537.4 56.5L544.2 101.5M537.4 56.5L544.2 98.0M537.4 56.5L544.2 94.4M537.4 56.5L544.2 90.9M537.4 56.5L544.2 87.3M537.4 56.5L544.2 83.8" fill="none" stroke="#ababab" stroke-width="0.6" stroke-linejoin="miter"/>
<polygon fill="#ababab" fill-opacity="0.85" points="539.4,79.0 544.2,100.4 544.2,79.0"/>
<path d="M393.2 71.9L400.1 73.2L407.0 73.8L413.8 73.5L420.7 70.5L427.6 65.5L434.4 65.5L441.3 60.8L448.2 42.3L455.0 43.7L461.9 63.6L468.8 68.6L475.6 66.9L482.5 58.6L489.3 65.0L496.2 66.3L503.1 68.3L509.9 68.3L516.8 69.4L523.7 68.6L530.5 69.7L537.4 70.5L544.2 76.0" fill="none" stroke="#0c0c0c" stroke-width="1.3" stroke-linejoin="round"/>
</g>
<clipPath id="c3"><rect x="18.30" y="177.40" width="150.20" height="118.75"/></clipPath>
<g clip-path="url(#c3)">
<polygon fill="#ababab" fill-opacity="0.00" points="18.3,223.4 25.1,230.8 32.0,234.4 38.8,236.2 45.6,232.5 52.4,228.9 59.3,228.0 66.1,214.2 72.9,203.5 79.7,202.3 86.6,203.5 93.4,198.8 100.2,196.4 107.1,193.4 113.9,192.2 120.7,192.8 127.5,198.2 134.4,207.7 141.2,214.2 148.0,199.7 154.8,198.8 161.7,199.7 168.5,201.5 168.5,250.9 161.7,250.9 154.8,250.9 148.0,250.9 141.2,250.9 134.4,250.9 127.5,250.9 120.7,250.9 113.9,250.9 107.1,250.9 100.2,250.9 93.4,250.9 86.6,250.9 79.7,250.9 72.9,250.9 66.1,250.9 59.3,250.9 52.4,250.9 45.6,250.9 38.8,250.9 32.0,250.9 25.1,250.9 18.3,250.9"/>
<polygon fill="#ababab" fill-opacity="0.22" points="18.3,250.9 25.1,250.9 32.0,250.9 38.8,250.9 45.6,250.9 52.4,250.9 59.3,250.9 66.1,250.9 72.9,250.9 79.7,250.9 86.6,250.9 93.4,250.9 100.2,250.9 107.1,250.9 113.9,250.9 120.7,250.9 127.5,250.9 134.4,250.9 141.2,250.9 148.0,250.9 154.8,250.9 161.7,250.9 168.5,250.9 168.5,252.9 161.7,252.9 154.8,252.9 148.0,252.9 141.2,252.9 134.4,252.9 127.5,252.9 120.7,252.9 113.9,252.9 107.1,252.9 100.2,252.9 93.4,252.9 86.6,252.9 79.7,252.9 72.9,252.9 66.1,252.9 59.3,252.9 52.4,252.9 45.6,252.9 38.8,252.9 32.0,252.9 25.1,252.9 18.3,252.9"/>
<polygon fill="#ababab" fill-opacity="0.40" points="143.2,209.9 148.0,199.7 154.8,198.8 161.7,199.7 168.5,201.5 168.5,209.5 161.7,208.3 154.8,208.3 148.0,208.9 143.2,217.1"/>
<path d="M18.3 230.1L25.1 238.7L32.0 242.8L38.8 243.8L45.6 239.9L52.4 233.6L59.3 236.2L66.1 228.3L72.9 208.4L79.7 209.2L86.6 211.0L93.4 218.9L100.2 213.9L107.1 209.7L113.9 199.1L120.7 213.4L127.5 218.7L134.4 221.2L141.2 222.3L148.0 202.5L154.8 207.9L161.7 204.0L168.5 206.9M18.3 226.4L25.1 240.6L32.0 237.7L38.8 244.5L45.6 241.9L52.4 239.9L59.3 240.6L66.1 214.8L72.9 219.0L79.7 208.9L86.6 215.8L93.4 213.2L100.2 216.0L107.1 210.6L113.9 194.1L120.7 209.3L127.5 204.0L134.4 218.9L141.2 217.8L148.0 205.7L154.8 210.1L161.7 209.0L168.5 210.3M18.3 238.7L25.1 242.8L32.0 243.1L38.8 241.9L45.6 244.8L52.4 240.5L59.3 239.7L66.1 230.2L72.9 221.4L79.7 205.9L86.6 218.9L93.4 218.8L100.2 215.7L107.1 210.8L113.9 210.0L120.7 215.4L127.5 216.4L134.4 219.8L141.2 215.8L148.0 221.3L154.8 212.8L161.7 213.5L168.5 210.6M18.3 238.3L25.1 242.8L32.0 243.1L38.8 238.0L45.6 233.3L52.4 240.9L59.3 239.5L66.1 219.5L72.9 222.1L79.7 215.2L86.6 220.1L93.4 216.0L100.2 214.5L107.1 212.1L113.9 206.0L120.7 208.0L127.5 216.4L134.4 218.5L141.2 223.5L148.0 213.2L154.8 212.6L161.7 202.8L168.5 213.5M18.3 234.4L25.1 238.8L32.0 243.9L38.8 239.7L45.6 237.6L52.4 238.7L59.3 229.6L66.1 230.3L72.9 215.5L79.7 218.1L86.6 211.1L93.4 218.8L100.2 209.3L107.1 213.0L113.9 210.2L120.7 200.7L127.5 211.6L134.4 207.8L141.2 222.6L148.0 216.4L154.8 212.7L161.7 208.0L168.5 205.1M18.3 237.6L25.1 231.8L32.0 242.1L38.8 242.3L45.6 238.4L52.4 235.6L59.3 237.5L66.1 214.5L72.9 218.6L79.7 214.1L86.6 204.7L93.4 210.2L100.2 215.7L107.1 201.0L113.9 206.9L120.7 213.0L127.5 215.9L134.4 223.5L141.2 214.7L148.0 213.0L154.8 208.5L161.7 204.1L168.5 213.5M18.3 229.3L25.1 242.4L32.0 240.6L38.8 243.7L45.6 244.8L52.4 243.0L59.3 240.4L66.1 231.7L72.9 207.8L79.7 203.8L86.6 216.4L93.4 218.2L100.2 216.5L107.1 198.1L113.9 210.3L120.7 202.9L127.5 214.2L134.4 223.7L141.2 222.9L148.0 209.7L154.8 212.3L161.7 209.9L168.5 212.1M18.3 232.7L25.1 235.2L32.0 243.5L38.8 244.0L45.6 244.8L52.4 243.0L59.3 234.8L66.1 227.0L72.9 213.9L79.7 219.8L86.6 217.3L93.4 218.5L100.2 215.8L107.1 210.6L113.9 202.7L120.7 211.0L127.5 214.0L134.4 211.2L141.2 214.3L148.0 217.5L154.8 212.7L161.7 207.9L168.5 213.2M18.3 239.1L25.1 242.2L32.0 235.2L38.8 241.1L45.6 241.2L52.4 235.4L59.3 240.4L66.1 230.4L72.9 215.5L79.7 217.5L86.6 210.8L93.4 202.9L100.2 200.2L107.1 207.9L113.9 210.6L120.7 204.0L127.5 216.4L134.4 218.5L141.2 223.0L148.0 219.4L154.8 202.8L161.7 201.7L168.5 211.0M18.3 235.7L25.1 234.5L32.0 237.7L38.8 243.8L45.6 237.3L52.4 241.2L59.3 239.4L66.1 224.9L72.9 205.4L79.7 219.3L86.6 219.8L93.4 218.9L100.2 206.2L107.1 210.2L113.9 210.6L120.7 215.4L127.5 214.6L134.4 209.5L141.2 223.1L148.0 221.1L154.8 201.2L161.7 212.5L168.5 207.5M18.3 227.4L25.1 239.8L32.0 235.8L38.8 244.7L45.6 236.3L52.4 243.0L59.3 240.0L66.1 227.3L72.9 208.6L79.7 219.6L86.6 218.6L93.4 208.3L100.2 204.9L107.1 202.3L113.9 196.6L120.7 202.8L127.5 218.3L134.4 220.0L141.2 221.6L148.0 219.4L154.8 211.9L161.7 206.9L168.5 212.7M18.3 227.0L25.1 242.0L32.0 243.6L38.8 241.1L45.6 241.1L52.4 239.0L59.3 230.6L66.1 231.3L72.9 217.8L79.7 211.7L86.6 209.3L93.4 204.9L100.2 208.0L107.1 200.2L113.9 210.6L120.7 208.0L127.5 203.2L134.4 223.7L141.2 221.2L148.0 213.9L154.8 199.2L161.7 208.5L168.5 210.8M18.3 237.1L25.1 242.7L32.0 240.9L38.8 242.2L45.6 244.7L52.4 241.6L59.3 239.0L66.1 227.7L72.9 217.1L79.7 212.8L86.6 211.4L93.4 209.8L100.2 216.2L107.1 203.5L113.9 197.8L120.7 210.9L127.5 199.3L134.4 222.5L141.2 217.6L148.0 213.5L154.8 212.2L161.7 213.4L168.5 213.3M18.3 238.9L25.1 242.0L32.0 240.5L38.8 243.8L45.6 238.9L52.4 241.2L59.3 238.4L66.1 229.5L72.9 220.5L79.7 219.9L86.6 213.9L93.4 218.9L100.2 216.6L107.1 203.2L113.9 206.2L120.7 208.0L127.5 205.0L134.4 211.2L141.2 220.3L148.0 207.2L154.8 203.2L161.7 207.9L168.5 211.2M18.3 237.4L25.1 235.1L32.0 236.6L38.8 240.9L45.6 233.7L52.4 238.1L59.3 232.4L66.1 229.7L72.9 218.1L79.7 216.3L86.6 206.7L93.4 215.4L100.2 215.4L107.1 212.6L113.9 210.6L120.7 194.8L127.5 216.9L134.4 223.4L141.2 220.9L148.0 218.2L154.8 213.2L161.7 212.3L168.5 202.1M18.3 238.8L25.1 238.5L32.0 240.1L38.8 244.4L45.6 241.1L52.4 242.2L59.3 239.9L66.1 228.0L72.9 218.8L79.7 213.9L86.6 219.9L93.4 200.1L100.2 198.4L107.1 194.2L113.9 202.3L120.7 214.5L127.5 201.7L134.4 213.6L141.2 221.8L148.0 219.9L154.8 206.0L161.7 213.5L168.5 214.2M18.3 238.9L25.1 238.0L32.0 238.4L38.8 238.9L45.6 241.2L52.4 243.0L59.3 239.4L66.1 227.2L72.9 221.9L79.7 208.3L86.6 204.9L93.4 218.5L100.2 211.5L107.1 210.6L113.9 207.2L120.7 196.0L127.5 218.0L134.4 216.2L141.2 216.5L148.0 213.0L154.8 213.3L161.7 200.3L168.5 214.0M18.3 225.7L25.1 235.3L32.0 242.1L38.8 243.0L45.6 239.4L52.4 238.2L59.3 237.5L66.1 219.4L72.9 222.5L79.7 214.8L86.6 218.1L93.4 213.6L100.2 201.3L107.1 213.0L113.9 210.6L120.7 214.5L127.5 218.1L134.4 215.0L141.2 218.9L148.0 221.3L154.8 203.5L161.7 213.6L168.5 209.2M18.3 230.8L25.1 238.1L32.0 240.9L38.8 243.3L45.6 244.2L52.4 235.3L59.3 228.2L66.1 231.1L72.9 222.5L79.7 215.6L86.6 213.4L93.4 213.2L100.2 212.5L107.1 212.9L113.9 210.6L120.7 208.2L127.5 210.9L134.4 223.5L141.2 223.4L148.0 221.3L154.8 205.8L161.7 205.8L168.5 207.6M18.3 225.4L25.1 242.7L32.0 236.6L38.8 244.8L45.6 242.5L52.4 242.7L59.3 240.6L66.1 230.5L72.9 219.7L79.7 220.1L86.6 217.7L93.4 201.4L100.2 202.6L107.1 213.0L113.9 209.4L120.7 215.4L127.5 217.1L134.4 223.0L141.2 223.5L148.0 219.6L154.8 200.5L161.7 213.6L168.5 213.9M18.3 234.5L25.1 241.3L32.0 236.0L38.8 244.9L45.6 242.6L52.4 242.6L59.3 238.5L66.1 225.8L72.9 221.3L79.7 214.9L86.6 219.8L93.4 217.8L100.2 213.0L107.1 205.1L113.9 201.9L120.7 197.5L127.5 206.5L134.4 212.6L141.2 217.9L148.0 218.4L154.8 206.2L161.7 212.5L168.5 209.8M18.3 227.3L25.1 242.8L32.0 239.6L38.8 240.0L45.6 241.4L52.4 242.6L59.3 236.7L66.1 228.7L72.9 217.6L79.7 210.1L86.6 210.5L93.4 205.4L100.2 203.6L107.1 205.3L113.9 205.2L120.7 215.1L127.5 211.2L134.4 219.8L141.2 220.4L148.0 219.9L154.8 207.1L161.7 211.8L168.5 207.5M18.3 238.3L25.1 242.6L32.0 237.6L38.8 239.2L45.6 238.9L52.4 242.5L59.3 229.2L66.1 217.9L72.9 209.8L79.7 219.6L86.6 210.9L93.4 212.4L100.2 215.5L107.1 199.3L113.9 192.3L120.7 210.8L127.5 216.6L134.4 210.3L141.2 223.6L148.0 220.6L154.8 211.3L161.7 213.6L168.5 211.3M18.3 226.4L25.1 242.7L32.0 244.2L38.8 238.2L45.6 236.5L52.4 234.0L59.3 235.0L66.1 230.9L72.9 214.9L79.7 207.5L86.6 212.7L93.4 199.9L100.2 215.6L107.1 201.8L113.9 206.3L120.7 214.5L127.5 201.9L134.4 212.9L141.2 217.7L148.0 221.3L154.8 204.1L161.7 203.3L168.5 214.2M18.3 232.9L25.1 242.8L32.0 244.6L38.8 244.4L45.6 241.2L52.4 231.3L59.3 239.3L66.1 228.0L72.9 218.6L79.7 215.4L86.6 213.0L93.4 202.3L100.2 204.3L107.1 212.4L113.9 193.1L120.7 203.2L127.5 212.3L134.4 218.7L141.2 216.0L148.0 220.5L154.8 211.7L161.7 213.6L168.5 212.6M18.3 232.4L25.1 237.5L32.0 239.4L38.8 240.0L45.6 244.7L52.4 242.2L59.3 235.3L66.1 217.2L72.9 211.0L79.7 207.8L86.6 209.1L93.4 218.7L100.2 216.6L107.1 212.8L113.9 210.6L120.7 215.3L127.5 217.3L134.4 216.0L141.2 220.7L148.0 220.9L154.8 204.8L161.7 209.7L168.5 207.7M18.3 238.4L25.1 234.9L32.0 240.1L38.8 244.7L45.6 239.9L52.4 241.6L59.3 240.6L66.1 229.8L72.9 220.0L79.7 219.0L86.6 216.6L93.4 218.3L100.2 207.5L107.1 208.6L113.9 210.2L120.7 200.6L127.5 201.6L134.4 209.3L141.2 223.7L148.0 216.5L154.8 200.9L161.7 213.2L168.5 212.1M18.3 223.7L25.1 238.6L32.0 240.2L38.8 244.7L45.6 244.5L52.4 236.3L59.3 238.0L66.1 230.9L72.9 207.1L79.7 219.4L86.6 218.6L93.4 206.6L100.2 200.0L107.1 211.5L113.9 209.5L120.7 195.5L127.5 213.0L134.4 218.0L141.2 219.9L148.0 221.1L154.8 210.1L161.7 210.9L168.5 214.2M18.3 238.1L25.1 239.5L32.0 237.0L38.8 239.7L45.6 243.6L52.4 241.3L59.3 237.8L66.1 217.8L72.9 204.8L79.7 216.1L86.6 209.8L93.4 218.0L100.2 211.2L107.1 212.8L113.9 210.1L120.7 209.3L127.5 212.2L134.4 223.6L141.2 222.8L148.0 208.6L154.8 208.3L161.7 201.8L168.5 214.1M18.3 230.3L25.1 239.4L32.0 235.2L38.8 244.9L45.6 242.8L52.4 239.0L59.3 231.4L66.1 232.2L72.9 220.6L79.7 215.1L86.6 205.6L93.4 203.3L100.2 213.1L107.1 203.9L113.9 210.6L120.7 204.2L127.5 198.3L134.4 221.2L141.2 218.2L148.0 219.9L154.8 212.4L161.7 208.0L168.5 205.4M18.3 233.1L25.1 241.7L32.0 238.6L38.8 244.8L45.6 243.1L52.4 235.3L59.3 234.9L66.1 219.0L72.9 220.6L79.7 213.0L86.6 220.0L93.4 211.1L100.2 197.8L107.1 211.8L113.9 209.6L120.7 212.2L127.5 216.0L134.4 218.5L141.2 223.1L148.0 219.6L154.8 209.2L161.7 211.9L168.5 213.9M18.3 228.6L25.1 240.1L32.0 237.3L38.8 244.9L45.6 233.2L52.4 232.0L59.3 239.3L66.1 224.7L72.9 219.0L79.7 219.3L86.6 219.6L93.4 210.4L100.2 210.5L107.1 213.0L113.9 195.0L120.7 193.7L127.5 216.6L134.4 209.9L141.2 223.6L148.0 221.0L154.8 208.8L161.7 208.9L168.5 204.8M18.3 232.4L25.1 242.5L32.0 241.3L38.8 240.4L45.6 233.0L52.4 242.5L59.3 233.6L66.1 232.2L72.9 220.5L79.7 218.9L86.6 211.0L93.4 217.7L100.2 209.6L107.1 194.4L113.9 202.3L120.7 212.8L127.5 218.6L134.4 213.2L141.2 215.8L148.0 219.6L154.8 200.5L161.7 204.5L168.5 206.6M18.3 237.0L25.1 239.6L32.0 237.8L38.8 237.7L45.6 242.9L52.4 229.4L59.3 229.7L66.1 231.7L72.9 217.8L79.7 220.1L86.6 219.6L93.4 198.9L100.2 214.9L107.1 211.1L113.9 198.5L120.7 196.2L127.5 218.8L134.4 221.8L141.2 216.3L148.0 217.9L154.8 208.9L161.7 204.5L168.5 208.8M18.3 231.7L25.1 237.1L32.0 244.2L38.8 237.5L45.6 244.0L52.4 231.1L59.3 240.2L66.1 215.8L72.9 221.9L79.7 220.0L86.6 220.0L93.4 216.0L100.2 212.9L107.1 204.6L113.9 200.1L120.7 211.4L127.5 218.9L134.4 219.4L141.2 223.1L148.0 219.8L154.8 202.4L161.7 213.0L168.5 214.1M18.3 237.3L25.1 240.8L32.0 239.9L38.8 242.9L45.6 244.9L52.4 240.3L59.3 235.6L66.1 219.7L72.9 222.2L79.7 216.4L86.6 213.7L93.4 203.9L100.2 203.0L107.1 211.9L113.9 209.6L120.7 205.3L127.5 207.4L134.4 223.2L141.2 223.5L148.0 214.9L154.8 211.1L161.7 201.8L168.5 213.1M18.3 232.0L25.1 237.0L32.0 242.5L38.8 242.6L45.6 244.4L52.4 238.2L59.3 238.6L66.1 229.8L72.9 221.3L79.7 214.1L86.6 218.5L93.4 199.2L100.2 210.3L107.1 212.8L113.9 206.1L120.7 214.8L127.5 212.7L134.4 212.6L141.2 220.6L148.0 201.1L154.8 210.3L161.7 208.3L168.5 201.6M18.3 237.7L25.1 235.7L32.0 240.9L38.8 244.8L45.6 235.4L52.4 235.0L59.3 230.5L66.1 225.8L72.9 221.6L79.7 219.6L86.6 220.1L93.4 215.3L100.2 213.6L107.1 193.6L113.9 205.8L120.7 204.1L127.5 203.8L134.4 219.9L141.2 222.0L148.0 215.0L154.8 207.0L161.7 203.0L168.5 214.2M18.3 234.0L25.1 236.5L32.0 244.3L38.8 238.5L45.6 242.2L52.4 242.0L59.3 238.5L66.1 231.8L72.9 212.3L79.7 219.4L86.6 215.5L93.4 208.3L100.2 212.6L107.1 203.8L113.9 208.4L120.7 205.7L127.5 216.5L134.4 217.2L141.2 221.4L148.0 208.5L154.8 213.3L161.7 201.6L168.5 201.8M18.3 238.9L25.1 240.6L32.0 244.6L38.8 236.4L45.6 244.1L52.4 231.8L59.3 239.2L66.1 223.1L72.9 212.1L79.7 206.0L86.6 219.0L93.4 202.4L100.2 208.3L107.1 211.9L113.9 205.2L120.7 210.0L127.5 219.0L134.4 220.3L141.2 216.0L148.0 206.0L154.8 212.6L161.7 213.5L168.5 210.0M18.3 235.2L25.1 235.8L32.0 239.8L38.8 237.5L45.6 244.8L52.4 240.2L59.3 237.8L66.1 227.5L72.9 216.7L79.7 219.6L86.6 214.9L93.4 218.6L100.2 204.0L107.1 200.9L113.9 193.4L120.7 209.1L127.5 202.2L134.4 223.7L141.2 222.6L148.0 213.4L154.8 207.8L161.7 202.4L168.5 205.4M18.3 238.7L25.1 242.0L32.0 243.7L38.8 244.8L45.6 244.4L52.4 237.7L59.3 230.2L66.1 216.5L72.9 220.4L79.7 207.4L86.6 217.4L93.4 216.7L100.2 203.4L107.1 212.3L113.9 196.4L120.7 215.3L127.5 212.0L134.4 223.2L141.2 218.7L148.0 221.3L154.8 212.1L161.7 204.4L168.5 213.7M18.3 238.8L25.1 242.3L32.0 240.0L38.8 241.1L45.6 243.7L52.4 240.8L59.3 232.6L66.1 232.3L72.9 210.9L79.7 203.6L86.6 214.2L93.4 218.1L100.2 213.5L107.1 207.5L113.9 205.7L120.7 201.0L127.5 218.6L134.4 214.1L141.2 223.7L148.0 219.9L154.8 212.4L161.7 205.4L168.5 213.5M18.3 239.1L25.1 237.2L32.0 235.5L38.8 243.1L45.6 241.5L52.4 242.4L59.3 240.1L66.1 224.2L72.9 214.8L79.7 219.7L86.6 205.9L93.4 206.2L100.2 215.2L107.1 212.6L113.9 208.7L120.7 206.9L127.5 199.1L134.4 211.2L141.2 223.5L148.0 218.4L154.8 199.0L161.7 199.7L168.5 212.0M18.3 227.9L25.1 241.7L32.0 239.7L38.8 238.7L45.6 243.0L52.4 242.9L59.3 231.4L66.1 227.8L72.9 204.6L79.7 217.2L86.6 215.7L93.4 218.2L100.2 214.0L107.1 213.0L113.9 205.4L120.7 208.3L127.5 213.8L134.4 212.3L141.2 219.0L148.0 221.3L154.8 209.8L161.7 212.0L168.5 213.1M18.3 233.3L25.1 242.4L32.0 244.2L38.8 239.0L45.6 241.2L52.4 238.8L59.3 238.3L66.1 218.0L72.9 220.5L79.7 216.5L86.6 212.9L93.4 213.5L100.2 215.4L107.1 209.0L113.9 209.7L120.7 205.3L127.5 215.9L134.4 223.7L141.2 220.6L148.0 216.6L154.8 212.9L161.7 208.3L168.5 208.7M18.3 231.0L25.1 242.8L32.0 244.5L38.8 239.0L45.6 233.5L52.4 232.7L59.3 229.8L66.1 227.1L72.9 222.5L79.7 206.0L86.6 206.1L93.4 201.8L100.2 201.1L107.1 212.2L113.9 199.5L120.7 203.6L127.5 217.3L134.4 223.3L141.2 222.7L148.0 216.4L154.8 213.2L161.7 213.6L168.5 206.3M18.3 236.9L25.1 242.1L32.0 241.7L38.8 244.3L45.6 242.9L52.4 243.0L59.3 238.9L66.1 215.3L72.9 222.3L79.7 216.2L86.6 215.9L93.4 218.8L100.2 202.5L107.1 211.9L113.9 210.0L120.7 197.9L127.5 203.4L134.4 213.2L141.2 223.7L148.0 203.8L154.8 212.1L161.7 211.3L168.5 213.9M18.3 228.4L25.1 241.1L32.0 244.1L38.8 241.7L45.6 243.5L52.4 242.7L59.3 233.0L66.1 226.7L72.9 209.3L79.7 202.8L86.6 209.8L93.4 209.1L100.2 208.9L107.1 198.7L113.9 209.9L120.7 202.4L127.5 218.5L134.4 217.4L141.2 217.2L148.0 202.5L154.8 211.7L161.7 209.0L168.5 213.0M18.3 238.1L25.1 240.7L32.0 242.2L38.8 241.8L45.6 244.4L52.4 242.7L59.3 238.3L66.1 232.1L72.9 218.8L79.7 205.2L86.6 211.6L93.4 211.8L100.2 199.2L107.1 210.7L113.9 197.5L120.7 204.7L127.5 210.9L134.4 212.4L141.2 219.9L148.0 218.5L154.8 200.3L161.7 212.0L168.5 205.0M18.3 250.6L25.1 250.7L32.0 250.4L38.8 250.2L45.6 250.4L52.4 250.3L59.3 250.4L66.1 250.4L72.9 250.3L79.7 250.4L86.6 250.3L93.4 250.2L100.2 250.1L107.1 250.7L113.9 249.6L120.7 249.4L127.5 250.6L134.4 250.5L141.2 250.3L148.0 250.5L154.8 250.8L161.7 250.6L168.5 250.5M18.3 250.5L25.1 250.5L32.0 250.3L38.8 250.1L45.6 250.3L52.4 250.6L59.3 250.4L66.1 250.5L72.9 250.5L79.7 250.3L86.6 250.0L93.4 249.6L100.2 250.3L107.1 250.0L113.9 250.9L120.7 250.8L127.5 250.0L134.4 250.7L141.2 250.5L148.0 250.4L154.8 250.6L161.7 250.4L168.5 250.5M18.3 250.7L25.1 250.5L32.0 250.5L38.8 250.8L45.6 250.7L52.4 250.9L59.3 250.4L66.1 250.4L72.9 250.5L79.7 250.7L86.6 250.7L93.4 249.8L100.2 249.6L107.1 248.6L113.9 249.0L120.7 249.9L127.5 249.6L134.4 250.4L141.2 250.5L148.0 250.1L154.8 250.3L161.7 250.3L168.5 250.3M18.3 250.7L25.1 250.7L32.0 250.9L38.8 250.6L45.6 250.7L52.4 250.9L59.3 250.9L66.1 250.9L72.9 250.9L79.7 250.9L86.6 250.9L93.4 250.9L100.2 250.9L107.1 250.9L113.9 250.9L120.7 250.9L127.5 250.6L134.4 250.7L141.2 250.7L148.0 250.4L154.8 250.9L161.7 250.9L168.5 250.9M18.3 250.3L25.1 250.7L32.0 250.9L38.8 250.8L45.6 250.6L52.4 250.7L59.3 250.9L66.1 250.9L72.9 250.9L79.7 250.7L86.6 250.4L93.4 249.8L100.2 249.0L107.1 249.8L113.9 249.6L120.7 249.8L127.5 250.0L134.4 250.3L141.2 250.6L148.0 250.5L154.8 250.5L161.7 250.3L168.5 250.3M18.3 250.9L25.1 250.6L32.0 250.9L38.8 250.7L45.6 250.7L52.4 250.6L59.3 250.3L66.1 250.6L72.9 250.8L79.7 250.8L86.6 250.6L93.4 250.3L100.2 250.5L107.1 250.5L113.9 250.1L120.7 249.3L127.5 250.9L134.4 250.8L141.2 250.9L148.0 250.8L154.8 250.9L161.7 250.8L168.5 250.4M18.3 250.3L25.1 250.2L32.0 250.6L38.8 250.9L45.6 250.9L52.4 250.9L59.3 250.8L66.1 250.8L72.9 250.8L79.7 250.9L86.6 250.6L93.4 249.9L100.2 250.0L107.1 249.9L113.9 250.9L120.7 250.4L127.5 249.7L134.4 250.4L141.2 250.6L148.0 250.8L154.8 250.6L161.7 250.7L168.5 250.7M18.3 250.9L25.1 250.8L32.0 250.9L38.8 250.9L45.6 250.7L52.4 250.7L59.3 250.9L66.1 250.9L72.9 250.5L79.7 250.4L86.6 250.6L93.4 250.2L100.2 249.9L107.1 250.0L113.9 249.7L120.7 250.3L127.5 250.6L134.4 250.9L141.2 250.9L148.0 250.9L154.8 250.9L161.7 250.9L168.5 250.7M18.3 250.4L25.1 250.4L32.0 250.2L38.8 250.4L45.6 250.6L52.4 250.3L59.3 250.4L66.1 250.7L72.9 250.4L79.7 250.3L86.6 250.2L93.4 250.2L100.2 249.2L107.1 249.3L113.9 248.9L120.7 249.5L127.5 249.7L134.4 250.6L141.2 250.8L148.0 250.6L154.8 250.4L161.7 250.4L168.5 250.0M18.3 250.6L25.1 250.4L32.0 250.4L38.8 250.6L45.6 250.8L52.4 250.9L59.3 250.6L66.1 250.7L72.9 250.6L79.7 250.8L86.6 250.8L93.4 250.9L100.2 250.9L107.1 250.9L113.9 250.8L120.7 249.9L127.5 250.8L134.4 250.6L141.2 250.6L148.0 250.7L154.8 250.5L161.7 250.3L168.5 250.6M18.3 250.6L25.1 250.6L32.0 250.6L38.8 250.7L45.6 250.4L52.4 250.5L59.3 250.1L66.1 250.8L72.9 250.7L79.7 250.9L86.6 250.6L93.4 250.0L100.2 250.2L107.1 249.3L113.9 250.0L120.7 250.9L127.5 250.7L134.4 250.9L141.2 250.8L148.0 250.8L154.8 250.6L161.7 250.4L168.5 250.6M18.3 250.5L25.1 250.7L32.0 250.5L38.8 250.3L45.6 250.5L52.4 250.5L59.3 250.7L66.1 250.4L72.9 250.5L79.7 250.7L86.6 250.1L93.4 249.6L100.2 249.1L107.1 249.3L113.9 248.7L120.7 249.1L127.5 249.8L134.4 250.5L141.2 250.3L148.0 250.1L154.8 250.3L161.7 250.0L168.5 250.2M18.3 250.6L25.1 250.2L32.0 250.3L38.8 250.2L45.6 250.6L52.4 250.5L59.3 250.2L66.1 250.2L72.9 250.3L79.7 250.2L86.6 250.0L93.4 249.5L100.2 249.4L107.1 248.8L113.9 247.7L120.7 249.0L127.5 249.6L134.4 250.2L141.2 250.3L148.0 250.2L154.8 250.3L161.7 250.4L168.5 250.4M18.3 250.5L25.1 250.9L32.0 250.9L38.8 250.7L45.6 250.7L52.4 250.9L59.3 250.9L66.1 250.9L72.9 250.7L79.7 250.9L86.6 250.9L93.4 250.9L100.2 250.9L107.1 250.9L113.9 250.9L120.7 250.9L127.5 250.9L134.4 250.9L141.2 250.9L148.0 250.9L154.8 250.9L161.7 250.8L168.5 250.8M18.3 215.1L25.1 241.6L32.0 243.5L38.8 243.7L45.6 243.7L52.4 241.8L59.3 239.4L66.1 231.1L72.9 221.3L79.7 219.0L86.6 219.0L93.4 217.8L100.2 215.4L107.1 211.8L113.9 209.5L120.7 214.2L127.5 217.8L134.4 222.5L141.2 222.5L148.0 220.1L154.8 212.1L161.7 212.4L168.5 213.0M18.3 238.0L25.1 241.6L32.0 243.5L38.8 243.7L45.6 243.7L52.4 241.8L59.3 239.4L66.1 231.1L72.9 221.3L79.7 200.6L86.6 193.6L93.4 192.5L100.2 215.4L107.1 211.8L113.9 209.5L120.7 214.2L127.5 217.8L134.4 222.5L141.2 222.5L148.0 220.1L154.8 212.1L161.7 212.4L168.5 213.0M18.3 238.0L25.1 241.6L32.0 243.5L38.8 243.7L45.6 243.7L52.4 241.8L59.3 239.4L66.1 231.1L72.9 221.3L79.7 219.0L86.6 219.0L93.4 217.8L100.2 215.4L107.1 211.8L113.9 209.5L120.7 214.2L127.5 217.8L134.4 222.5L141.2 222.5L148.0 220.1L154.8 196.7L161.7 198.0L168.5 199.6M18.3 238.0L25.1 241.6L32.0 243.5L38.8 243.7L45.6 243.7L52.4 241.8L59.3 239.4L66.1 231.1L72.9 221.3L79.7 193.9L86.6 191.2L93.4 185.0L100.2 215.4L107.1 211.8L113.9 209.5L120.7 214.2L127.5 217.8L134.4 222.5L141.2 222.5L148.0 220.1L154.8 212.1L161.7 212.4L168.5 213.0M18.3 217.8L25.1 223.5L32.0 233.3L38.8 235.2L45.6 228.5L52.4 220.3L59.3 224.5L66.1 212.3L72.9 200.6L79.7 194.0L86.6 219.0L93.4 217.8L100.2 215.4L107.1 211.8L113.9 209.5L120.7 214.2L127.5 217.8L134.4 222.5L141.2 222.5L148.0 220.1L154.8 212.1L161.7 212.4L168.5 213.0M18.3 238.0L25.1 241.6L32.0 243.5L38.8 243.7L45.6 243.7L52.4 241.8L59.3 239.4L66.1 213.2L72.9 201.2L79.7 219.0L86.6 219.0L93.4 217.8L100.2 215.4L107.1 211.8L113.9 209.5L120.7 214.2L127.5 217.8L134.4 222.5L141.2 222.5L148.0 220.1L154.8 212.1L161.7 212.4L168.5 213.0M18.3 238.0L25.1 241.6L32.0 243.5L38.8 243.7L45.6 243.7L52.4 241.8L59.3 223.5L66.1 212.3L72.9 200.9L79.7 198.5L86.6 195.0L93.4 188.4L100.2 215.4L107.1 211.8L113.9 209.5L120.7 214.2L127.5 217.8L134.4 222.5L141.2 222.5L148.0 220.1L154.8 212.1L161.7 212.4L168.5 213.0M18.3 238.0L25.1 241.6L32.0 243.5L38.8 235.2L45.6 228.2L52.4 241.8L59.3 239.4L66.1 231.1L72.9 221.3L79.7 219.0L86.6 219.0L93.4 217.8L100.2 215.4L107.1 211.8L113.9 209.5L120.7 214.2L127.5 217.8L134.4 222.5L141.2 222.5L148.0 220.1L154.8 212.1L161.7 212.4L168.5 200.0M18.3 238.0L25.1 241.6L32.0 243.5L38.8 243.7L45.6 243.7L52.4 241.8L59.3 239.4L66.1 231.1L72.9 200.5L79.7 191.9L86.6 187.2L93.4 183.3L100.2 189.0L107.1 184.2L113.9 191.7L120.7 214.2L127.5 217.8L134.4 222.5L141.2 222.5L148.0 220.1L154.8 212.1L161.7 212.4L168.5 213.0M18.3 238.0L25.1 241.6L32.0 243.5L38.8 243.7L45.6 243.7L52.4 241.8L59.3 239.4L66.1 231.1L72.9 221.3L79.7 219.0L86.6 219.0L93.4 217.8L100.2 215.4L107.1 211.8L113.9 209.5L120.7 214.2L127.5 217.8L134.4 205.2L141.2 211.5L148.0 198.1L154.8 196.4L161.7 197.6L168.5 213.0M18.3 238.0L25.1 241.6L32.0 243.5L38.8 243.7L45.6 243.7L52.4 241.8L59.3 239.4L66.1 212.9L72.9 201.3L79.7 193.4L86.6 189.7L93.4 187.0L100.2 191.3L107.1 187.2L113.9 209.5L120.7 214.2L127.5 217.8L134.4 222.5L141.2 222.5L148.0 220.1L154.8 212.1L161.7 212.4L168.5 213.0M18.3 238.0L25.1 241.6L32.0 243.5L38.8 235.6L45.6 231.8L52.4 225.5L59.3 226.5L66.1 212.2L72.9 200.8L79.7 191.5L86.6 189.4L93.4 217.8L100.2 215.4L107.1 211.8L113.9 209.5L120.7 214.2L127.5 217.8L134.4 222.5L141.2 222.5L148.0 220.1L154.8 212.1L161.7 212.4L168.5 213.0M18.3 238.0L25.1 241.6L32.0 243.5L38.8 243.7L45.6 243.7L52.4 241.8L59.3 239.4L66.1 231.1L72.9 221.3L79.7 194.2L86.6 186.8L93.4 187.1L100.2 189.6L107.1 185.8L113.9 209.5L120.7 214.2L127.5 217.8L134.4 222.5L141.2 222.5L148.0 220.1L154.8 212.1L161.7 212.4L168.5 213.0M18.3 238.0L25.1 241.6L32.0 243.5L38.8 243.7L45.6 243.7L52.4 241.8L59.3 239.4L66.1 231.1L72.9 221.3L79.7 219.0L86.6 219.0L93.4 217.8L100.2 190.9L107.1 184.4L113.9 191.7L120.7 214.2L127.5 217.8L134.4 222.5L141.2 222.5L148.0 220.1L154.8 212.1L161.7 212.4L168.5 213.0M18.3 238.0L25.1 241.6L32.0 243.5L38.8 243.7L45.6 228.5L52.4 220.9L59.3 224.2L66.1 231.1L72.9 221.3L79.7 219.0L86.6 219.0L93.4 217.8L100.2 215.4L107.1 211.8L113.9 209.5L120.7 214.2L127.5 217.8L134.4 222.5L141.2 222.5L148.0 198.9L154.8 197.3L161.7 212.4L168.5 213.0M18.3 238.0L25.1 241.6L32.0 243.5L38.8 243.7L45.6 243.7L52.4 241.8L59.3 239.4L66.1 231.1L72.9 221.3L79.7 219.0L86.6 196.8L93.4 189.1L100.2 193.3L107.1 211.8L113.9 209.5L120.7 214.2L127.5 217.8L134.4 222.5L141.2 222.5L148.0 220.1L154.8 212.1L161.7 212.4L168.5 213.0M18.3 238.0L25.1 241.6L32.0 243.5L38.8 243.7L45.6 243.7L52.4 241.8L59.3 239.4L66.1 231.1L72.9 221.3L79.7 219.0L86.6 219.0L93.4 217.8L100.2 215.4L107.1 211.8L113.9 209.5L120.7 214.2L127.5 217.8L134.4 205.2L141.2 211.4L148.0 220.1L154.8 212.1L161.7 212.4L168.5 213.0M18.3 217.3L25.1 222.5L32.0 243.5L38.8 243.7L45.6 243.7L52.4 241.8L59.3 239.4L66.1 231.1L72.9 221.3L79.7 219.0L86.6 219.0L93.4 217.8L100.2 215.4L107.1 211.8L113.9 209.5L120.7 214.2L127.5 217.8L134.4 222.5L141.2 222.5L148.0 220.1L154.8 212.1L161.7 212.4L168.5 213.0M18.3 238.0L25.1 241.6L32.0 243.5L38.8 235.1L45.6 228.3L52.4 223.6L59.3 225.9L66.1 212.8L72.9 200.7L79.7 219.0L86.6 219.0L93.4 217.8L100.2 215.4L107.1 211.8L113.9 209.5L120.7 214.2L127.5 217.8L134.4 222.5L141.2 222.5L148.0 220.1L154.8 212.1L161.7 212.4L168.5 213.0M18.3 238.0L25.1 241.6L32.0 243.5L38.8 243.7L45.6 243.7L52.4 241.8L59.3 239.4L66.1 231.1L72.9 221.3L79.7 219.0L86.6 219.0L93.4 217.8L100.2 215.4L107.1 211.8L113.9 209.5L120.7 214.2L127.5 217.8L134.4 222.5L141.2 222.5L148.0 220.1L154.8 212.1L161.7 198.7L168.5 199.6M18.3 238.0L25.1 241.6L32.0 243.5L38.8 243.7L45.6 243.7L52.4 241.8L59.3 239.4L66.1 231.1L72.9 221.3L79.7 219.0L86.6 219.0L93.4 217.8L100.2 215.4L107.1 211.8L113.9 209.5L120.7 214.2L127.5 217.8L134.4 222.5L141.2 210.7L148.0 198.4L154.8 212.1L161.7 212.4L168.5 213.0M18.3 238.0L25.1 241.6L32.0 243.5L38.8 243.7L45.6 243.7L52.4 241.8L59.3 239.4L66.1 231.1L72.9 221.3L79.7 219.0L86.6 219.0L93.4 217.8L100.2 215.4L107.1 211.8L113.9 209.5L120.7 214.2L127.5 217.8L134.4 222.5L141.2 211.2L148.0 198.3L154.8 197.3L161.7 212.4L168.5 213.0M18.3 238.0L25.1 224.1L32.0 230.8L38.8 243.7L45.6 243.7L52.4 241.8L59.3 239.4L66.1 231.1L72.9 221.3L79.7 219.0L86.6 219.0L93.4 217.8L100.2 215.4L107.1 211.8L113.9 209.5L120.7 214.2L127.5 217.8L134.4 222.5L141.2 222.5L148.0 220.1L154.8 212.1L161.7 212.4L168.5 213.0M18.3 238.0L25.1 241.6L32.0 243.5L38.8 243.7L45.6 243.7L52.4 241.8L59.3 239.4L66.1 231.1L72.9 200.4L79.7 193.8L86.6 189.0L93.4 184.7L100.2 215.4L107.1 211.8L113.9 209.5L120.7 214.2L127.5 217.8L134.4 222.5L141.2 222.5L148.0 220.1L154.8 212.1L161.7 212.4L168.5 213.0M18.3 238.0L25.1 241.6L32.0 243.5L38.8 234.4L45.6 227.0L52.4 218.8L59.3 239.4L66.1 231.1L72.9 221.3L79.7 219.0L86.6 219.0L93.4 217.8L100.2 215.4L107.1 211.8L113.9 209.5L120.7 214.2L127.5 217.8L134.4 206.1L141.2 211.7L148.0 198.3L154.8 197.5L161.7 197.6L168.5 213.0M18.3 238.0L25.1 241.6L32.0 243.5L38.8 243.7L45.6 243.7L52.4 241.8L59.3 239.4L66.1 231.1L72.9 221.3L79.7 198.9L86.6 192.3L93.4 187.6L100.2 215.4L107.1 211.8L113.9 209.5L120.7 214.2L127.5 217.8L134.4 222.5L141.2 222.5L148.0 220.1L154.8 212.1L161.7 212.4L168.5 213.0M134.4 238.0L141.2 194.0L148.0 187.4L154.8 188.3L161.7 191.1L168.5 188.4M134.4 238.0L141.2 184.7L148.0 182.6L154.8 182.3L161.7 187.4L168.5 183.3M134.4 238.0L141.2 186.4L148.0 190.5L154.8 182.2L161.7 187.2L168.5 186.8M134.4 238.0L141.2 191.9L148.0 192.4L154.8 189.0L161.7 192.0L168.5 194.9M134.4 238.0L141.2 191.7L148.0 201.0L154.8 193.3L161.7 191.8L168.5 193.0M134.4 238.0L141.2 197.5L148.0 192.1L154.8 195.8L161.7 192.6L168.5 192.9M134.4 238.0L141.2 195.8L148.0 192.9L154.8 191.9L161.7 189.0L168.5 194.4M141.2 236.9L148.0 206.9L154.8 210.2L161.7 211.8L168.5 206.0M141.2 236.9L148.0 208.0L154.8 210.1L161.7 207.0L168.5 207.5M141.2 236.9L148.0 208.1L154.8 211.4L161.7 211.8L168.5 203.9M141.2 236.9L148.0 202.0L154.8 203.7L161.7 200.3L168.5 209.6M141.2 236.9L148.0 206.8L154.8 205.1L161.7 209.0L168.5 204.8M141.2 236.9L148.0 207.3L154.8 208.1L161.7 206.7L168.5 206.9M141.2 236.9L148.0 202.3L154.8 201.7L161.7 206.7L168.5 204.9M141.2 236.9L148.0 197.6L154.8 197.6L161.7 197.6L168.5 197.6M141.2 236.9L148.0 209.6L154.8 209.8L161.7 208.0L168.5 205.3M141.2 236.9L148.0 210.6L154.8 211.8L161.7 209.3L168.5 209.8M141.2 236.9L148.0 206.1L154.8 204.5L161.7 204.5L168.5 204.7M141.2 236.9L148.0 198.1L154.8 202.7L161.7 201.2L168.5 198.4" fill="none" stroke="#ababab" stroke-width="0.5" stroke-opacity="0.5" stroke-linejoin="round"/>
<polygon fill="#ababab" fill-opacity="1.00" points="18.3,232.0 21.7,234.4 25.1,236.8 28.5,238.1 32.0,239.4 35.4,240.0 38.8,240.6 42.2,240.2 45.6,239.7 49.0,238.3 52.4,236.8 55.8,235.9 59.3,235.0 62.7,227.6 66.1,220.1 69.5,217.8 72.9,207.1 76.3,215.4 79.7,205.9 83.2,215.4 86.6,208.3 90.0,214.2 93.4,201.1 96.8,211.8 100.2,198.8 103.6,208.3 107.1,195.2 110.5,204.7 113.9,194.0 117.3,205.9 120.7,195.2 124.1,210.7 127.5,201.1 130.9,214.2 134.4,210.7 137.8,219.0 141.2,217.8 144.6,216.6 148.0,208.9 151.4,208.6 154.8,208.3 158.3,208.3 161.7,208.3 165.1,208.9 168.5,209.5 168.5,250.2 161.7,250.2 154.8,250.2 148.0,250.2 141.2,250.2 134.4,250.2 127.5,249.6 120.7,249.0 113.9,248.4 107.1,248.4 100.2,248.6 93.4,249.4 86.6,249.8 79.7,250.2 72.9,250.2 66.1,250.2 59.3,250.2 52.4,250.2 45.6,250.2 38.8,250.2 32.0,250.2 25.1,250.2 18.3,250.2"/>
<path d="M127.5 244.3L134.4 258.1L141.2 244.3M148.0 244.8L154.8 261.7L161.7 244.8M148.0 244.8L154.8 259.9L161.7 244.8M148.0 244.8L154.8 258.1L161.7 244.8M161.7 227.3L168.5 271.2M161.7 227.3L168.5 267.6M161.7 227.3L168.5 264.1M161.7 227.3L168.5 260.5M161.7 227.3L168.5 257.0M161.7 227.3L168.5 253.4" fill="none" stroke="#ababab" stroke-width="0.6" stroke-linejoin="miter"/>
<polygon fill="#ababab" fill-opacity="0.85" points="163.7,250.2 168.5,270.0 168.5,250.2"/>
<path d="M18.3 244.3L25.1 245.5L32.0 246.3L38.8 246.6L45.6 246.6L52.4 246.3L59.3 247.1L66.1 247.4L72.9 243.5L79.7 243.0L86.6 243.8L93.4 241.9L100.2 241.0L107.1 236.3L113.9 241.0L120.7 241.3L127.5 243.5L134.4 241.6L141.2 240.5L148.0 236.9L154.8 236.3L161.7 236.3L168.5 242.7" fill="none" stroke="#0c0c0c" stroke-width="1.3" stroke-linejoin="round"/>
</g>
<clipPath id="c4"><rect x="204.00" y="177.40" width="150.20" height="118.75"/></clipPath>
<g clip-path="url(#c4)">
<polygon fill="#ababab" fill-opacity="0.08" points="204.0,234.4 210.8,237.1 217.7,237.1 224.5,236.8 231.3,235.2 238.1,230.7 245.0,229.8 251.8,217.9 258.6,206.5 265.4,202.3 272.3,205.9 279.1,202.9 285.9,197.6 292.8,192.4 299.6,199.7 306.4,201.5 313.2,206.1 320.1,215.4 326.9,226.7 333.7,230.8 340.5,232.0 347.4,232.6 354.2,235.0 354.2,251.1 347.4,250.9 340.5,249.8 333.7,248.2 326.9,246.9 320.1,245.8 313.2,245.1 306.4,244.4 299.6,243.2 292.8,237.4 285.9,240.1 279.1,241.5 272.3,244.5 265.4,243.9 258.6,247.5 251.8,250.1 245.0,250.7 238.1,250.7 231.3,250.7 224.5,250.7 217.7,250.7 210.8,250.4 204.0,249.6"/>
<polygon fill="#ababab" fill-opacity="0.22" points="204.0,249.6 210.8,250.4 217.7,250.7 224.5,250.7 231.3,250.7 238.1,250.7 245.0,250.7 251.8,250.1 258.6,247.5 265.4,243.9 272.3,244.5 279.1,241.5 285.9,240.1 292.8,237.4 299.6,243.2 306.4,244.4 313.2,245.1 320.1,245.8 326.9,246.9 333.7,248.2 340.5,249.8 347.4,250.9 354.2,251.1 354.2,253.2 347.4,252.9 340.5,251.9 333.7,250.2 326.9,248.9 320.1,247.8 313.2,247.1 306.4,246.4 299.6,245.2 292.8,239.4 285.9,242.1 279.1,243.5 272.3,246.5 265.4,245.9 258.6,249.5 251.8,252.1 245.0,252.7 238.1,252.7 231.3,252.7 224.5,252.7 217.7,252.7 210.8,252.4 204.0,251.6"/>
<path d="M204.0 235.1L210.8 244.3L217.7 238.8L224.5 242.2L231.3 236.1L238.1 237.5L245.0 230.7L251.8 219.9L258.6 207.3L265.4 216.9L272.3 210.2L279.1 208.0L285.9 213.7L292.8 204.4L299.6 211.5L306.4 207.6L313.2 223.6L320.1 232.2L326.9 231.2L333.7 232.0L340.5 234.6L347.4 240.9L354.2 243.3M204.0 235.3L210.8 243.1L217.7 246.4L224.5 244.0L231.3 242.7L238.1 230.9L245.0 230.3L251.8 218.5L258.6 226.6L265.4 205.6L272.3 209.4L279.1 204.4L285.9 211.4L292.8 200.0L299.6 213.3L306.4 201.7L313.2 221.9L320.1 219.9L326.9 237.9L333.7 240.1L340.5 236.2L347.4 235.4L354.2 242.0M204.0 240.8L210.8 237.8L217.7 245.0L224.5 245.8L231.3 244.0L238.1 233.8L245.0 237.3L251.8 219.5L258.6 215.6L265.4 202.6L272.3 215.5L279.1 217.1L285.9 205.7L292.8 193.2L299.6 206.8L306.4 212.2L313.2 213.2L320.1 223.9L326.9 235.9L333.7 232.8L340.5 236.9L347.4 234.3L354.2 243.6M204.0 242.9L210.8 238.0L217.7 245.5L224.5 237.7L231.3 244.8L238.1 243.3L245.0 231.9L251.8 234.4L258.6 213.2L265.4 204.1L272.3 209.8L279.1 206.8L285.9 201.6L292.8 202.5L299.6 208.9L306.4 216.3L313.2 206.6L320.1 226.7L326.9 231.5L333.7 239.6L340.5 236.4L347.4 242.8L354.2 238.5M204.0 244.1L210.8 245.6L217.7 244.3L224.5 241.9L231.3 242.7L238.1 239.6L245.0 234.1L251.8 236.1L258.6 221.5L265.4 217.8L272.3 208.5L279.1 215.9L285.9 207.1L292.8 205.9L299.6 207.5L306.4 211.9L313.2 214.1L320.1 229.5L326.9 229.9L333.7 236.0L340.5 233.5L347.4 242.3L354.2 242.1M204.0 236.6L210.8 238.1L217.7 244.5L224.5 244.2L231.3 240.4L238.1 243.6L245.0 233.3L251.8 224.1L258.6 214.9L265.4 219.8L272.3 217.7L279.1 216.3L285.9 202.4L292.8 206.0L299.6 209.1L306.4 215.2L313.2 218.7L320.1 225.8L326.9 229.9L333.7 235.0L340.5 240.8L347.4 233.0L354.2 243.6M204.0 240.6L210.8 240.7L217.7 241.3L224.5 237.3L231.3 239.1L238.1 243.5L245.0 230.3L251.8 220.1L258.6 210.3L265.4 207.4L272.3 218.2L279.1 216.6L285.9 206.2L292.8 194.3L299.6 201.5L306.4 203.5L313.2 208.0L320.1 231.3L326.9 236.5L333.7 233.2L340.5 236.7L347.4 239.1L354.2 236.2M204.0 241.2L210.8 244.2L217.7 238.7L224.5 244.8L231.3 240.4L238.1 235.3L245.0 239.5L251.8 223.9L258.6 212.4L265.4 203.0L272.3 209.3L279.1 217.3L285.9 213.2L292.8 203.1L299.6 206.1L306.4 218.1L313.2 218.2L320.1 224.2L326.9 233.6L333.7 237.6L340.5 237.6L347.4 241.7L354.2 243.7M204.0 238.5L210.8 244.1L217.7 238.4L224.5 246.4L231.3 236.6L238.1 231.4L245.0 241.2L251.8 237.1L258.6 215.1L265.4 203.1L272.3 205.9L279.1 206.2L285.9 201.5L292.8 198.2L299.6 207.2L306.4 218.0L313.2 210.8L320.1 232.2L326.9 232.5L333.7 231.6L340.5 239.1L347.4 242.0L354.2 238.2M204.0 243.2L210.8 243.7L217.7 244.1L224.5 242.7L231.3 244.9L238.1 242.1L245.0 237.2L251.8 236.6L258.6 214.0L265.4 219.1L272.3 207.9L279.1 207.5L285.9 207.5L292.8 198.9L299.6 199.8L306.4 217.6L313.2 212.0L320.1 225.2L326.9 228.0L333.7 240.0L340.5 232.9L347.4 238.6L354.2 238.0M204.0 243.2L210.8 239.5L217.7 240.5L224.5 242.5L231.3 243.1L238.1 242.8L245.0 242.3L251.8 218.9L258.6 213.1L265.4 204.9L272.3 210.1L279.1 217.3L285.9 208.2L292.8 192.5L299.6 206.2L306.4 206.2L313.2 206.6L320.1 229.8L326.9 234.5L333.7 234.0L340.5 234.0L347.4 234.5L354.2 240.9M204.0 239.0L210.8 240.4L217.7 238.1L224.5 244.5L231.3 242.8L238.1 243.9L245.0 241.3L251.8 222.1L258.6 217.8L265.4 220.2L272.3 212.3L279.1 214.5L285.9 208.2L292.8 200.8L299.6 204.7L306.4 213.7L313.2 221.9L320.1 228.7L326.9 228.5L333.7 239.9L340.5 239.7L347.4 241.7L354.2 239.6M204.0 235.5L210.8 246.0L217.7 245.9L224.5 245.7L231.3 240.7L238.1 230.9L245.0 239.5L251.8 235.2L258.6 210.7L265.4 216.8L272.3 216.5L279.1 205.6L285.9 205.0L292.8 203.3L299.6 209.6L306.4 205.6L313.2 207.3L320.1 222.6L326.9 235.5L333.7 234.9L340.5 239.2L347.4 243.0L354.2 241.9M204.0 236.9L210.8 237.4L217.7 237.4L224.5 236.8L231.3 242.4L238.1 234.5L245.0 230.8L251.8 218.9L258.6 219.3L265.4 218.5L272.3 210.9L279.1 206.3L285.9 198.0L292.8 206.7L299.6 205.9L306.4 207.5L313.2 220.0L320.1 232.8L326.9 231.1L333.7 234.6L340.5 232.2L347.4 235.7L354.2 243.7M204.0 239.3L210.8 245.1L217.7 243.2L224.5 245.9L231.3 242.9L238.1 234.9L245.0 237.0L251.8 223.0L258.6 219.2L265.4 220.2L272.3 216.6L279.1 216.2L285.9 213.9L292.8 207.5L299.6 211.0L306.4 212.9L313.2 215.5L320.1 219.6L326.9 238.0L333.7 235.4L340.5 241.0L347.4 239.9L354.2 241.8M204.0 238.0L210.8 240.3L217.7 245.8L224.5 238.7L231.3 243.6L238.1 241.7L245.0 236.1L251.8 234.8L258.6 220.5L265.4 218.6L272.3 218.1L279.1 205.2L285.9 213.6L292.8 206.5L299.6 202.0L306.4 218.2L313.2 225.3L320.1 223.5L326.9 232.9L333.7 237.7L340.5 235.1L347.4 240.1L354.2 243.6M204.0 244.4L210.8 244.6L217.7 237.7L224.5 243.3L231.3 236.5L238.1 238.6L245.0 241.4L251.8 234.9L258.6 219.1L265.4 218.8L272.3 214.7L279.1 216.3L285.9 206.9L292.8 198.7L299.6 212.9L306.4 202.4L313.2 215.2L320.1 226.1L326.9 235.9L333.7 235.3L340.5 240.2L347.4 235.9L354.2 241.3M204.0 240.7L210.8 243.2L217.7 244.8L224.5 242.0L231.3 236.3L238.1 236.9L245.0 231.1L251.8 233.1L258.6 219.6L265.4 208.6L272.3 216.4L279.1 204.9L285.9 209.6L292.8 199.5L299.6 211.4L306.4 211.2L313.2 215.4L320.1 225.0L326.9 230.0L333.7 237.0L340.5 240.6L347.4 236.8L354.2 240.0M204.0 239.8L210.8 237.9L217.7 244.3L224.5 240.1L231.3 237.1L238.1 235.0L245.0 230.7L251.8 237.5L258.6 228.6L265.4 217.9L272.3 214.7L279.1 214.6L285.9 211.9L292.8 199.1L299.6 208.0L306.4 209.8L313.2 213.2L320.1 216.1L326.9 234.0L333.7 239.7L340.5 234.2L347.4 243.0L354.2 241.1M204.0 243.9L210.8 240.6L217.7 246.1L224.5 245.1L231.3 235.5L238.1 232.4L245.0 233.7L251.8 227.7L258.6 217.3L265.4 213.2L272.3 216.5L279.1 214.5L285.9 199.8L292.8 203.7L299.6 201.3L306.4 209.5L313.2 216.9L320.1 229.8L326.9 229.3L333.7 238.4L340.5 239.6L347.4 241.9L354.2 242.9M204.0 237.3L210.8 245.6L217.7 237.6L224.5 240.7L231.3 242.5L238.1 241.9L245.0 238.9L251.8 224.1L258.6 224.6L265.4 213.5L272.3 217.4L279.1 217.4L285.9 208.8L292.8 202.4L299.6 201.5L306.4 210.4L313.2 217.6L320.1 227.0L326.9 227.3L333.7 234.4L340.5 238.6L347.4 240.7L354.2 242.7M204.0 239.4L210.8 243.3L217.7 245.6L224.5 237.0L231.3 238.5L238.1 243.9L245.0 241.2L251.8 231.6L258.6 212.8L265.4 204.7L272.3 209.4L279.1 203.2L285.9 213.7L292.8 207.5L299.6 203.4L306.4 217.7L313.2 210.6L320.1 230.0L326.9 235.0L333.7 236.1L340.5 236.6L347.4 238.5L354.2 242.3M204.0 240.8L210.8 241.2L217.7 245.7L224.5 240.9L231.3 236.6L238.1 244.0L245.0 242.3L251.8 237.9L258.6 209.4L265.4 203.8L272.3 206.9L279.1 211.7L285.9 207.8L292.8 197.1L299.6 204.1L306.4 210.8L313.2 207.8L320.1 218.8L326.9 234.8L333.7 240.3L340.5 241.2L347.4 238.4L354.2 241.0M204.0 239.8L210.8 242.3L217.7 243.9L224.5 237.1L231.3 244.5L238.1 243.2L245.0 237.9L251.8 235.7L258.6 217.8L265.4 217.9L272.3 218.0L279.1 205.7L285.9 198.0L292.8 200.1L299.6 205.3L306.4 217.7L313.2 225.2L320.1 225.8L326.9 227.8L333.7 239.8L340.5 240.9L347.4 233.7L354.2 236.7M204.0 244.0L210.8 239.7L217.7 238.5L224.5 244.1L231.3 235.3L238.1 235.4L245.0 230.5L251.8 227.5L258.6 215.7L265.4 220.0L272.3 206.1L279.1 217.1L285.9 208.7L292.8 193.4L299.6 208.5L306.4 216.0L313.2 212.4L320.1 233.1L326.9 237.7L333.7 236.7L340.5 233.9L347.4 242.6L354.2 240.8M204.0 234.7L210.8 245.2L217.7 240.8L224.5 241.7L231.3 240.6L238.1 233.4L245.0 238.1L251.8 226.4L258.6 221.7L265.4 220.1L272.3 208.9L279.1 210.2L285.9 200.1L292.8 207.5L299.6 210.6L306.4 213.3L313.2 217.5L320.1 231.6L326.9 229.8L333.7 236.3L340.5 235.4L347.4 239.8L354.2 241.6M204.0 244.4L210.8 244.0L217.7 245.9L224.5 237.5L231.3 244.7L238.1 244.0L245.0 241.0L251.8 238.2L258.6 224.9L265.4 213.7L272.3 207.7L279.1 204.6L285.9 199.8L292.8 204.7L299.6 212.2L306.4 205.2L313.2 221.4L320.1 224.0L326.9 235.6L333.7 237.0L340.5 240.1L347.4 236.4L354.2 239.5M204.0 242.2L210.8 238.2L217.7 245.8L224.5 245.6L231.3 241.0L238.1 231.7L245.0 230.5L251.8 227.9L258.6 220.9L265.4 203.9L272.3 213.3L279.1 216.8L285.9 213.9L292.8 194.0L299.6 208.7L306.4 211.4L313.2 212.1L320.1 224.4L326.9 228.4L333.7 240.3L340.5 237.2L347.4 238.1L354.2 242.5M204.0 242.2L210.8 238.9L217.7 237.4L224.5 246.4L231.3 238.1L238.1 230.9L245.0 235.7L251.8 223.6L258.6 214.9L265.4 205.9L272.3 218.1L279.1 211.2L285.9 207.2L292.8 200.5L299.6 212.8L306.4 218.2L313.2 223.6L320.1 221.3L326.9 226.8L333.7 239.9L340.5 239.2L347.4 239.7L354.2 239.3M204.0 234.9L210.8 243.2L217.7 241.6L224.5 244.1L231.3 243.0L238.1 233.9L245.0 231.2L251.8 225.1L258.6 217.4L265.4 211.4L272.3 215.5L279.1 213.3L285.9 205.3L292.8 198.2L299.6 212.9L306.4 206.9L313.2 220.4L320.1 222.8L326.9 238.2L333.7 234.1L340.5 232.2L347.4 237.2L354.2 235.6M204.0 238.4L210.8 241.7L217.7 239.3L224.5 237.7L231.3 245.5L238.1 232.9L245.0 232.3L251.8 221.1L258.6 221.3L265.4 219.8L272.3 208.1L279.1 213.7L285.9 202.3L292.8 197.0L299.6 201.3L306.4 205.6L313.2 220.7L320.1 226.4L326.9 237.7L333.7 240.0L340.5 238.7L347.4 240.4L354.2 237.3M204.0 241.8L210.8 245.8L217.7 244.3L224.5 245.8L231.3 241.3L238.1 239.5L245.0 241.9L251.8 237.5L258.6 214.6L265.4 219.3L272.3 207.6L279.1 217.3L285.9 202.5L292.8 206.5L299.6 211.0L306.4 218.2L313.2 214.8L320.1 220.0L326.9 234.5L333.7 232.6L340.5 237.3L347.4 236.4L354.2 237.6M204.0 240.9L210.8 242.4L217.7 246.0L224.5 237.3L231.3 244.8L238.1 242.2L245.0 233.2L251.8 231.7L258.6 227.6L265.4 220.3L272.3 214.5L279.1 204.5L285.9 203.8L292.8 200.9L299.6 212.0L306.4 209.7L313.2 209.2L320.1 219.2L326.9 237.9L333.7 240.3L340.5 236.0L347.4 237.9L354.2 238.2M204.0 234.6L210.8 240.0L217.7 245.7L224.5 243.6L231.3 244.6L238.1 231.3L245.0 238.3L251.8 232.0L258.6 229.0L265.4 216.0L272.3 213.6L279.1 217.2L285.9 203.0L292.8 194.9L299.6 208.5L306.4 213.1L313.2 210.3L320.1 221.5L326.9 236.7L333.7 239.5L340.5 237.3L347.4 240.0L354.2 236.9M204.0 242.0L210.8 238.2L217.7 240.2L224.5 246.2L231.3 243.4L238.1 243.2L245.0 241.7L251.8 220.4L258.6 220.2L265.4 210.4L272.3 217.9L279.1 209.2L285.9 212.6L292.8 203.8L299.6 210.9L306.4 206.3L313.2 207.4L320.1 227.4L326.9 237.2L333.7 238.9L340.5 237.6L347.4 238.0L354.2 239.8M204.0 237.1L210.8 245.1L217.7 237.8L224.5 244.5L231.3 244.8L238.1 233.0L245.0 240.3L251.8 238.1L258.6 208.8L265.4 215.0L272.3 214.0L279.1 216.3L285.9 205.5L292.8 200.1L299.6 210.4L306.4 207.3L313.2 219.2L320.1 221.3L326.9 234.9L333.7 239.1L340.5 237.8L347.4 239.0L354.2 239.2M204.0 239.3L210.8 246.0L217.7 242.4L224.5 245.7L231.3 240.6L238.1 231.7L245.0 229.8L251.8 238.2L258.6 228.6L265.4 219.7L272.3 212.7L279.1 216.8L285.9 212.3L292.8 207.0L299.6 199.8L306.4 217.1L313.2 212.5L320.1 215.5L326.9 233.0L333.7 233.4L340.5 239.3L347.4 235.4L354.2 238.4M204.0 240.1L210.8 242.1L217.7 244.9L224.5 239.5L231.3 244.4L238.1 244.2L245.0 240.7L251.8 218.9L258.6 224.9L265.4 205.1L272.3 217.2L279.1 210.1L285.9 212.3L292.8 196.6L299.6 200.9L306.4 211.9L313.2 220.5L320.1 232.6L326.9 235.5L333.7 232.2L340.5 233.3L347.4 241.4L354.2 238.9M204.0 244.5L210.8 244.4L217.7 237.6L224.5 244.5L231.3 242.4L238.1 233.8L245.0 238.1L251.8 231.6L258.6 222.0L265.4 215.4L272.3 207.4L279.1 203.6L285.9 210.9L292.8 201.1L299.6 201.7L306.4 213.8L313.2 208.5L320.1 231.0L326.9 233.4L333.7 236.3L340.5 236.9L347.4 233.2L354.2 236.2M204.0 238.7L210.8 243.9L217.7 240.5L224.5 238.7L231.3 237.1L238.1 236.0L245.0 238.2L251.8 226.7L258.6 226.1L265.4 210.7L272.3 216.6L279.1 215.2L285.9 205.4L292.8 194.5L299.6 203.6L306.4 215.3L313.2 213.3L320.1 229.6L326.9 232.8L333.7 231.1L340.5 237.4L347.4 240.7L354.2 243.7M204.0 248.8L210.8 249.8L217.7 250.2L224.5 250.0L231.3 249.9L238.1 250.2L245.0 250.3L251.8 249.8L258.6 246.1L265.4 242.3L272.3 243.4L279.1 240.7L285.9 239.3L292.8 235.7L299.6 242.5L306.4 243.3L313.2 243.9L320.1 244.7L326.9 245.8L333.7 247.5L340.5 249.5L347.4 250.9L354.2 250.7M204.0 249.4L210.8 250.4L217.7 250.5L224.5 250.7L231.3 250.3L238.1 250.2L245.0 250.3L251.8 250.1L258.6 247.4L265.4 242.4L272.3 243.4L279.1 240.4L285.9 238.3L292.8 235.9L299.6 242.0L306.4 244.0L313.2 244.7L320.1 245.8L326.9 246.8L333.7 248.0L340.5 249.8L347.4 250.9L354.2 250.9M204.0 249.2L210.8 250.2L217.7 250.2L224.5 249.8L231.3 249.9L238.1 250.1L245.0 249.8L251.8 249.3L258.6 245.8L265.4 243.5L272.3 243.4L279.1 240.2L285.9 238.4L292.8 235.5L299.6 242.1L306.4 243.3L313.2 243.8L320.1 244.6L326.9 245.3L333.7 247.5L340.5 249.5L347.4 250.4L354.2 250.6M204.0 249.5L210.8 250.1L217.7 250.5L224.5 250.3L231.3 250.3L238.1 250.5L245.0 250.6L251.8 249.8L258.6 247.1L265.4 243.9L272.3 244.5L279.1 241.5L285.9 239.6L292.8 236.8L299.6 242.2L306.4 243.8L313.2 244.1L320.1 245.0L326.9 246.5L333.7 248.0L340.5 249.2L347.4 250.2L354.2 250.8M204.0 249.2L210.8 250.1L217.7 250.0L224.5 249.9L231.3 250.0L238.1 250.0L245.0 250.1L251.8 249.5L258.6 246.2L265.4 242.7L272.3 243.8L279.1 241.3L285.9 239.4L292.8 235.4L299.6 242.7L306.4 243.3L313.2 244.4L320.1 245.5L326.9 246.6L333.7 248.1L340.5 249.5L347.4 250.9L354.2 251.1M204.0 249.1L210.8 250.0L217.7 250.7L224.5 250.4L231.3 250.3L238.1 250.3L245.0 250.2L251.8 250.1L258.6 247.5L265.4 243.8L272.3 244.1L279.1 240.9L285.9 239.6L292.8 237.4L299.6 243.0L306.4 244.4L313.2 245.1L320.1 245.8L326.9 246.8L333.7 248.0L340.5 249.6L347.4 250.9L354.2 250.9M204.0 248.4L210.8 249.2L217.7 249.5L224.5 249.6L231.3 249.6L238.1 249.5L245.0 250.1L251.8 249.0L258.6 245.6L265.4 241.2L272.3 242.7L279.1 239.6L285.9 237.3L292.8 234.6L299.6 241.8L306.4 243.6L313.2 244.1L320.1 244.7L326.9 245.9L333.7 246.7L340.5 248.8L347.4 250.8L354.2 250.5M204.0 248.6L210.8 249.7L217.7 250.2L224.5 250.3L231.3 249.7L238.1 249.7L245.0 250.3L251.8 249.7L258.6 246.7L265.4 242.9L272.3 242.7L279.1 240.7L285.9 240.1L292.8 236.2L299.6 241.8L306.4 243.9L313.2 244.4L320.1 244.9L326.9 245.9L333.7 246.9L340.5 249.2L347.4 250.9L354.2 250.8M204.0 249.0L210.8 250.1L217.7 250.3L224.5 250.1L231.3 250.1L238.1 250.1L245.0 250.0L251.8 249.8L258.6 247.5L265.4 242.8L272.3 243.2L279.1 240.5L285.9 238.5L292.8 236.1L299.6 242.4L306.4 243.7L313.2 244.3L320.1 245.2L326.9 245.9L333.7 247.3L340.5 249.0L347.4 250.3L354.2 250.8M204.0 248.9L210.8 249.6L217.7 249.9L224.5 250.0L231.3 250.1L238.1 250.4L245.0 250.0L251.8 249.0L258.6 246.2L265.4 243.2L272.3 243.7L279.1 240.7L285.9 237.7L292.8 235.3L299.6 241.8L306.4 243.1L313.2 243.8L320.1 244.3L326.9 246.0L333.7 247.1L340.5 248.6L347.4 250.2L354.2 251.0M204.0 249.0L210.8 250.1L217.7 250.1L224.5 249.9L231.3 249.6L238.1 250.0L245.0 249.8L251.8 249.1L258.6 245.5L265.4 241.7L272.3 244.4L279.1 240.7L285.9 239.3L292.8 235.6L299.6 242.5L306.4 243.8L313.2 244.3L320.1 245.7L326.9 246.2L333.7 247.1L340.5 248.3L347.4 249.5L354.2 249.9M204.0 249.6L210.8 250.4L217.7 250.7L224.5 250.2L231.3 250.2L238.1 250.5L245.0 249.9L251.8 249.7L258.6 246.3L265.4 243.5L272.3 244.5L279.1 241.3L285.9 240.1L292.8 237.4L299.6 243.2L306.4 244.4L313.2 245.1L320.1 245.8L326.9 246.6L333.7 247.7L340.5 249.8L347.4 250.9L354.2 251.1M204.0 248.9L210.8 250.3L217.7 250.6L224.5 250.1L231.3 249.9L238.1 250.2L245.0 249.7L251.8 248.8L258.6 245.3L265.4 242.0L272.3 243.6L279.1 240.3L285.9 238.2L292.8 236.2L299.6 242.1L306.4 243.7L313.2 243.9L320.1 244.9L326.9 246.7L333.7 247.4L340.5 249.2L347.4 250.3L354.2 250.7M204.0 249.4L210.8 250.0L217.7 250.5L224.5 250.2L231.3 250.6L238.1 250.7L245.0 250.2L251.8 249.5L258.6 247.5L265.4 243.7L272.3 244.5L279.1 241.2L285.9 239.6L292.8 236.5L299.6 242.7L306.4 244.1L313.2 244.9L320.1 245.5L326.9 246.6L333.7 247.8L340.5 249.1L347.4 250.5L354.2 250.7M204.0 243.3L210.8 244.9L217.7 235.5L224.5 235.3L231.3 233.5L238.1 222.6L245.0 241.2L251.8 237.1L258.6 227.9L265.4 219.3L272.3 217.2L279.1 216.3L285.9 212.7L292.8 206.5L299.6 212.1L306.4 217.3L313.2 224.4L320.1 232.0L326.9 237.1L333.7 239.1L340.5 240.3L347.4 241.8L354.2 242.7M204.0 243.3L210.8 235.7L217.7 245.2L224.5 245.2L231.3 244.5L238.1 243.0L245.0 241.2L251.8 237.1L258.6 227.9L265.4 219.3L272.3 217.2L279.1 216.3L285.9 212.7L292.8 206.5L299.6 212.1L306.4 217.3L313.2 201.0L320.1 206.1L326.9 224.5L333.7 229.7L340.5 240.3L347.4 241.8L354.2 242.7M204.0 243.3L210.8 244.9L217.7 245.2L224.5 245.2L231.3 244.5L238.1 243.0L245.0 241.2L251.8 237.1L258.6 203.7L265.4 200.6L272.3 204.1L279.1 201.6L285.9 193.2L292.8 191.0L299.6 212.1L306.4 217.3L313.2 224.4L320.1 232.0L326.9 237.1L333.7 239.1L340.5 240.3L347.4 241.8L354.2 242.7M204.0 243.3L210.8 244.9L217.7 245.2L224.5 245.2L231.3 244.5L238.1 243.0L245.0 241.2L251.8 237.1L258.6 227.9L265.4 219.3L272.3 217.2L279.1 216.3L285.9 212.7L292.8 206.5L299.6 212.1L306.4 200.2L313.2 202.9L320.1 232.0L326.9 237.1L333.7 239.1L340.5 240.3L347.4 241.8L354.2 242.7M204.0 243.3L210.8 244.9L217.7 245.2L224.5 245.2L231.3 244.5L238.1 243.0L245.0 241.2L251.8 237.1L258.6 227.9L265.4 219.3L272.3 217.2L279.1 216.3L285.9 212.7L292.8 206.5L299.6 212.1L306.4 197.7L313.2 203.7L320.1 232.0L326.9 237.1L333.7 228.4L340.5 229.6L347.4 228.5L354.2 232.9M204.0 243.3L210.8 244.9L217.7 245.2L224.5 245.2L231.3 244.5L238.1 243.0L245.0 241.2L251.8 212.6L258.6 202.9L265.4 219.3L272.3 217.2L279.1 216.3L285.9 212.7L292.8 206.5L299.6 212.1L306.4 217.3L313.2 224.4L320.1 232.0L326.9 237.1L333.7 239.1L340.5 240.3L347.4 241.8L354.2 242.7M204.0 243.3L210.8 244.9L217.7 235.5L224.5 234.8L231.3 231.7L238.1 219.0L245.0 241.2L251.8 237.1L258.6 227.9L265.4 219.3L272.3 217.2L279.1 216.3L285.9 212.7L292.8 206.5L299.6 212.1L306.4 217.3L313.2 224.4L320.1 232.0L326.9 237.1L333.7 239.1L340.5 240.3L347.4 241.8L354.2 242.7M204.0 243.3L210.8 244.9L217.7 245.2L224.5 245.2L231.3 244.5L238.1 243.0L245.0 241.2L251.8 237.1L258.6 227.9L265.4 219.3L272.3 217.2L279.1 201.3L285.9 195.4L292.8 190.8L299.6 198.9L306.4 217.3L313.2 224.4L320.1 232.0L326.9 237.1L333.7 239.1L340.5 240.3L347.4 241.8L354.2 242.7M204.0 243.3L210.8 244.9L217.7 245.2L224.5 245.2L231.3 244.5L238.1 243.0L245.0 241.2L251.8 237.1L258.6 227.9L265.4 219.3L272.3 217.2L279.1 216.3L285.9 212.7L292.8 206.5L299.6 212.1L306.4 217.3L313.2 224.4L320.1 211.7L326.9 221.7L333.7 229.1L340.5 228.9L347.4 229.8L354.2 242.7M204.0 243.3L210.8 244.9L217.7 245.2L224.5 245.2L231.3 244.5L238.1 243.0L245.0 241.2L251.8 237.1L258.6 227.9L265.4 219.3L272.3 217.2L279.1 216.3L285.9 212.7L292.8 206.5L299.6 212.1L306.4 217.3L313.2 224.4L320.1 232.0L326.9 222.4L333.7 228.2L340.5 230.2L347.4 229.6L354.2 242.7M204.0 243.3L210.8 244.9L217.7 245.2L224.5 245.2L231.3 244.5L238.1 243.0L245.0 227.3L251.8 213.9L258.6 227.9L265.4 219.3L272.3 217.2L279.1 216.3L285.9 212.7L292.8 206.5L299.6 212.1L306.4 217.3L313.2 224.4L320.1 232.0L326.9 222.3L333.7 228.2L340.5 229.0L347.4 228.9L354.2 232.1M204.0 232.6L210.8 236.3L217.7 236.4L224.5 234.7L231.3 244.5L238.1 220.2L245.0 226.0L251.8 214.2L258.6 227.9L265.4 219.3L272.3 217.2L279.1 216.3L285.9 212.7L292.8 206.5L299.6 212.1L306.4 217.3L313.2 224.4L320.1 232.0L326.9 237.1L333.7 239.1L340.5 240.3L347.4 241.8L354.2 242.7M204.0 243.3L210.8 244.9L217.7 245.2L224.5 234.9L231.3 232.3L238.1 243.0L245.0 241.2L251.8 237.1L258.6 227.9L265.4 219.3L272.3 217.2L279.1 216.3L285.9 212.7L292.8 206.5L299.6 212.1L306.4 217.3L313.2 224.4L320.1 232.0L326.9 237.1L333.7 239.1L340.5 240.3L347.4 241.8L354.2 242.7M204.0 243.3L210.8 244.9L217.7 245.2L224.5 245.2L231.3 244.5L238.1 243.0L245.0 241.2L251.8 237.1L258.6 227.9L265.4 219.3L272.3 217.2L279.1 216.3L285.9 212.7L292.8 206.5L299.6 212.1L306.4 197.5L313.2 202.8L320.1 209.5L326.9 224.6L333.7 228.8L340.5 230.0L347.4 241.8L354.2 242.7M204.0 243.3L210.8 244.9L217.7 245.2L224.5 234.5L231.3 232.6L238.1 217.1L245.0 241.2L251.8 237.1L258.6 227.9L265.4 219.3L272.3 217.2L279.1 216.3L285.9 212.7L292.8 206.5L299.6 212.1L306.4 217.3L313.2 224.4L320.1 232.0L326.9 237.1L333.7 239.1L340.5 240.3L347.4 241.8L354.2 242.7M204.0 243.3L210.8 235.1L217.7 235.8L224.5 245.2L231.3 244.5L238.1 243.0L245.0 241.2L251.8 237.1L258.6 227.9L265.4 219.3L272.3 217.2L279.1 216.3L285.9 212.7L292.8 206.5L299.6 212.1L306.4 217.3L313.2 224.4L320.1 232.0L326.9 237.1L333.7 239.1L340.5 240.3L347.4 241.8L354.2 242.7M204.0 243.3L210.8 244.9L217.7 245.2L224.5 245.2L231.3 244.5L238.1 243.0L245.0 241.2L251.8 237.1L258.6 227.9L265.4 219.3L272.3 217.2L279.1 216.3L285.9 212.7L292.8 206.5L299.6 212.1L306.4 217.3L313.2 203.4L320.1 211.0L326.9 223.6L333.7 229.3L340.5 240.3L347.4 241.8L354.2 242.7M204.0 243.3L210.8 244.9L217.7 245.2L224.5 245.2L231.3 244.5L238.1 243.0L245.0 241.2L251.8 237.1L258.6 227.9L265.4 219.3L272.3 217.2L279.1 216.3L285.9 212.7L292.8 206.5L299.6 212.1L306.4 217.3L313.2 224.4L320.1 205.2L326.9 223.7L333.7 228.9L340.5 240.3L347.4 241.8L354.2 242.7M204.0 243.3L210.8 244.9L217.7 245.2L224.5 245.2L231.3 244.5L238.1 243.0L245.0 241.2L251.8 237.1L258.6 227.9L265.4 198.8L272.3 203.8L279.1 200.0L285.9 189.9L292.8 189.4L299.6 198.8L306.4 217.3L313.2 224.4L320.1 232.0L326.9 237.1L333.7 239.1L340.5 240.3L347.4 241.8L354.2 242.7M204.0 232.4L210.8 244.9L217.7 245.2L224.5 245.2L231.3 244.5L238.1 243.0L245.0 241.2L251.8 237.1L258.6 227.9L265.4 219.3L272.3 217.2L279.1 216.3L285.9 212.7L292.8 206.5L299.6 212.1L306.4 217.3L313.2 224.4L320.1 232.0L326.9 237.1L333.7 239.1L340.5 240.3L347.4 241.8L354.2 242.7M204.0 243.3L210.8 244.9L217.7 245.2L224.5 245.2L231.3 244.5L238.1 222.0L245.0 226.0L251.8 237.1L258.6 227.9L265.4 219.3L272.3 217.2L279.1 216.3L285.9 212.7L292.8 206.5L299.6 212.1L306.4 217.3L313.2 224.4L320.1 205.4L326.9 222.4L333.7 239.1L340.5 240.3L347.4 241.8L354.2 242.7M204.0 243.3L210.8 244.9L217.7 245.2L224.5 234.4L231.3 231.7L238.1 217.3L245.0 224.2L251.8 208.9L258.6 201.5L265.4 199.7L272.3 217.2L279.1 216.3L285.9 212.7L292.8 206.5L299.6 212.1L306.4 217.3L313.2 224.4L320.1 232.0L326.9 237.1L333.7 239.1L340.5 240.3L347.4 241.8L354.2 242.7M204.0 243.3L210.8 244.9L217.7 245.2L224.5 245.2L231.3 244.5L238.1 243.0L245.0 241.2L251.8 237.1L258.6 227.9L265.4 219.3L272.3 217.2L279.1 216.3L285.9 193.3L292.8 189.9L299.6 212.1L306.4 217.3L313.2 224.4L320.1 232.0L326.9 237.1L333.7 239.1L340.5 240.3L347.4 241.8L354.2 242.7M204.0 232.0L210.8 234.6L217.7 245.2L224.5 245.2L231.3 233.3L238.1 222.6L245.0 226.0L251.8 212.4L258.6 227.9L265.4 219.3L272.3 217.2L279.1 216.3L285.9 212.7L292.8 206.5L299.6 212.1L306.4 217.3L313.2 224.4L320.1 232.0L326.9 237.1L333.7 239.1L340.5 240.3L347.4 241.8L354.2 242.7M204.0 243.3L210.8 244.9L217.7 245.2L224.5 245.2L231.3 244.5L238.1 243.0L245.0 241.2L251.8 237.1L258.6 227.9L265.4 219.3L272.3 217.2L279.1 216.3L285.9 212.7L292.8 206.5L299.6 212.1L306.4 217.3L313.2 224.4L320.1 232.0L326.9 237.1L333.7 239.1L340.5 229.0L347.4 230.0L354.2 242.7M204.0 243.3L210.8 244.9L217.7 245.2L224.5 245.2L231.3 244.5L238.1 243.0L245.0 241.2L251.8 237.1L258.6 227.9L265.4 219.3L272.3 217.2L279.1 216.3L285.9 212.7L292.8 206.5L299.6 212.1L306.4 217.3L313.2 224.4L320.1 209.8L326.9 222.1L333.7 228.4L340.5 240.3L347.4 241.8L354.2 242.7M326.9 236.8L333.7 234.4L340.5 206.1L347.4 236.8L354.2 240.3" fill="none" stroke="#ababab" stroke-width="0.5" stroke-opacity="0.5" stroke-linejoin="round"/>
<polygon fill="#ababab" fill-opacity="1.00" points="204.0,238.6 207.4,239.9 210.8,240.9 214.2,241.3 217.7,241.8 221.1,241.6 224.5,241.5 227.9,240.9 231.3,240.3 234.7,239.6 238.1,238.6 241.6,238.2 245.0,236.8 248.4,235.0 251.8,230.2 255.2,225.7 258.6,218.4 262.0,218.4 265.4,213.0 268.9,219.8 272.3,214.2 275.7,215.6 279.1,211.2 282.5,215.2 285.9,207.1 289.3,208.1 292.8,198.8 296.2,209.8 299.6,206.5 303.0,215.8 306.4,210.7 309.8,218.5 313.2,216.8 316.6,223.8 320.1,224.9 323.5,230.1 326.9,232.0 330.3,234.8 333.7,235.0 337.1,236.5 340.5,236.2 344.0,237.3 347.4,237.4 350.8,238.6 354.2,239.1 354.2,250.2 347.4,249.8 340.5,248.6 333.7,247.0 326.9,245.7 320.1,244.6 313.2,243.9 306.4,243.1 299.6,241.8 292.8,235.2 285.9,238.0 279.1,239.9 272.3,242.6 265.4,241.6 258.6,245.3 251.8,249.1 245.0,249.7 238.1,249.7 231.3,249.7 224.5,249.7 217.7,249.7 210.8,249.5 204.0,248.6"/>
<path d="M231.3 244.4L238.1 257.0L245.0 244.4M313.2 238.6L320.1 259.3L326.9 238.6M347.4 240.9L354.2 272.4M347.4 240.9L354.2 268.8M347.4 240.9L354.2 265.3M347.4 240.9L354.2 261.7M347.4 240.9L354.2 258.1M347.4 240.9L354.2 254.6" fill="none" stroke="#ababab" stroke-width="0.6" stroke-linejoin="miter"/>
<polygon fill="#ababab" fill-opacity="0.85" points="349.4,249.9 354.2,271.2 354.2,250.2"/>
<path d="M204.0 244.9L210.8 245.7L217.7 246.6L224.5 247.4L231.3 247.4L238.1 246.8L245.0 246.6L251.8 244.9L258.6 232.2L265.4 226.7L272.3 229.4L279.1 224.5L285.9 225.6L292.8 219.8L299.6 227.5L306.4 228.1L313.2 230.8L320.1 235.0L326.9 239.1L333.7 241.9L340.5 243.5L347.4 244.9L354.2 247.7" fill="none" stroke="#0c0c0c" stroke-width="1.3" stroke-linejoin="round"/>
</g>
<clipPath id="c5"><rect x="393.25" y="177.40" width="151.00" height="118.75"/></clipPath>
<g clip-path="url(#c5)">
<path d="M393.2 242.7L400.1 246.3L407.0 247.5L413.8 247.5L420.7 246.3L427.6 236.8L434.4 220.1L441.3 203.5L448.2 184.2L455.0 213.0L461.9 201.1L468.8 192.8L475.6 201.1L482.5 183.0L489.3 205.9L496.2 184.2L503.1 185.1L509.9 210.7L516.8 201.1L523.7 207.1L530.5 219.0L537.4 230.8L544.2 254.6M393.2 243.9L400.1 245.1L407.0 246.3L413.8 246.3L420.7 243.9L427.6 234.4L434.4 222.5L441.3 201.1L448.2 185.7L455.0 210.7L461.9 207.1L468.8 201.1L475.6 195.2L482.5 184.5L489.3 203.5L496.2 186.9L503.1 189.3L509.9 213.0L516.8 195.2L523.7 201.1L530.5 213.0L537.4 224.9L544.2 248.6M393.2 245.1L400.1 248.6L407.0 249.8L413.8 248.6L420.7 245.1L427.6 236.8L434.4 227.3L441.3 213.0L448.2 201.1L455.0 195.2L461.9 193.3L468.8 190.6L475.6 198.8L482.5 189.3L489.3 195.2L496.2 201.1L503.1 207.1L509.9 210.7L516.8 184.5L523.7 183.9L530.5 189.3L537.4 207.1L544.2 230.8M393.2 240.3L400.1 242.7L407.0 243.9L413.8 242.7L420.7 240.3L427.6 230.8L434.4 219.0L441.3 207.1L448.2 197.6L455.0 203.5L461.9 194.0L468.8 201.1L475.6 191.7L482.5 185.7L489.3 213.0L496.2 195.2L503.1 185.7L509.9 201.1L516.8 191.7L523.7 189.3L530.5 198.8L537.4 213.0L544.2 236.8M393.2 236.8L400.1 240.3L407.0 242.7L413.8 241.5L420.7 239.1L427.6 233.2L434.4 224.9L441.3 210.7L448.2 189.3L455.0 201.1L461.9 213.0L468.8 207.1L475.6 194.0L482.5 201.1L489.3 189.3L496.2 207.1L503.1 195.2L509.9 203.5L516.8 201.1L523.7 194.0L530.5 203.5L537.4 217.8L544.2 242.7M393.2 246.3L400.1 247.5L407.0 248.6L413.8 247.5L420.7 242.7L427.6 236.8L434.4 230.8L441.3 217.8L448.2 205.9L455.0 198.8L461.9 203.5L468.8 196.4L475.6 203.5L482.5 191.7L489.3 198.8L496.2 191.7L503.1 201.1L509.9 217.8L516.8 207.1L523.7 198.8L530.5 195.2L537.4 210.7L544.2 239.1M393.2 241.5L400.1 243.9L407.0 245.1L413.8 245.1L420.7 242.7L427.6 239.1L434.4 234.4L441.3 224.9L448.2 213.0L455.0 208.3L461.9 201.1L468.8 210.7L475.6 205.9L482.5 196.4L489.3 210.7L496.2 201.1L503.1 194.0L509.9 205.9L516.8 213.0L523.7 210.7L530.5 217.8L537.4 224.9L544.2 251.0M393.2 260.5L400.1 261.7L407.0 260.5L413.8 259.3L420.7 257.0L427.6 253.4L434.4 251.0L441.3 248.6L448.2 246.3L455.0 248.6L461.9 253.4L468.8 257.0L475.6 254.6L482.5 251.0L489.3 248.6L496.2 246.3L503.1 248.6L509.9 296.1L516.8 260.5L523.7 257.0L530.5 254.6L537.4 253.4L544.2 266.5M393.2 257.0L400.1 259.3L407.0 260.5L413.8 258.1L420.7 254.6L427.6 252.2L434.4 248.6L441.3 245.1L448.2 242.7L455.0 253.4L461.9 260.5L468.8 255.8L475.6 260.5L482.5 257.0L489.3 253.4L496.2 246.3L503.1 243.9L509.9 260.5L516.8 270.0L523.7 262.9L530.5 255.8L537.4 251.0L544.2 270.0M393.2 253.4L400.1 255.8L407.0 257.0L413.8 257.0L420.7 254.6L427.6 251.0L434.4 246.3L441.3 242.7L448.2 240.3L455.0 246.3L461.9 251.0L468.8 253.4L475.6 257.0L482.5 260.5L489.3 255.8L496.2 248.6L503.1 245.1L509.9 253.4L516.8 262.9L523.7 272.4L530.5 260.5L537.4 253.4L544.2 274.8M393.2 262.9L400.1 260.5L407.0 258.1L413.8 255.8L420.7 254.6L427.6 251.0L434.4 248.6L441.3 246.3L448.2 243.9L455.0 242.7L461.9 246.3L468.8 251.0L475.6 253.4L482.5 253.4L489.3 251.0L496.2 246.3L503.1 242.7L509.9 248.6L516.8 258.1L523.7 265.3L530.5 270.0L537.4 260.5L544.2 278.3M393.2 248.6L400.1 251.0L407.0 252.2L413.8 252.2L420.7 251.0L427.6 249.8L434.4 248.6L441.3 251.0L448.2 257.0L455.0 260.5L461.9 255.8L468.8 262.9L475.6 259.3L482.5 264.1L489.3 260.5L496.2 253.4L503.1 251.0L509.9 255.8L516.8 260.5L523.7 258.1L530.5 253.4L537.4 251.0L544.2 260.5M393.2 251.0L400.1 253.4L407.0 254.6L413.8 253.4L420.7 252.2L427.6 251.0L434.4 248.6L441.3 246.3L448.2 253.4L455.0 257.0L461.9 260.5L468.8 258.1L475.6 261.7L482.5 257.0L489.3 264.1L496.2 258.1L503.1 254.6L509.9 281.9L516.8 266.5L523.7 278.3L530.5 260.5L537.4 254.6L544.2 262.9M393.2 234.4L400.1 238.0L407.0 240.3L413.8 241.5L420.7 240.3L427.6 236.8L434.4 230.8L441.3 222.5L448.2 213.0L455.0 217.8L461.9 215.4L468.8 210.7L475.6 213.0L482.5 205.9L489.3 210.7L496.2 213.0L503.1 208.3L509.9 213.0L516.8 210.7L523.7 208.3L530.5 213.0L537.4 217.8L544.2 227.3M393.2 230.8L400.1 235.6L407.0 239.1L413.8 240.3L420.7 240.3L427.6 238.0L434.4 233.2L441.3 227.3L448.2 220.1L455.0 222.5L461.9 224.9L468.8 217.8L475.6 215.4L482.5 213.0L489.3 217.8L496.2 215.4L503.1 220.1L509.9 222.5L516.8 217.8L523.7 215.4L530.5 217.8L537.4 222.5L544.2 230.8M393.2 247.0L400.1 241.7L407.0 245.4L413.8 244.6L420.7 244.9L427.6 248.7L434.4 241.4L441.3 237.8L448.2 231.1L455.0 229.7L461.9 227.7L468.8 224.2L475.6 218.4L482.5 214.7L489.3 220.7L496.2 220.0L503.1 222.3L509.9 226.5L516.8 232.6L523.7 230.7L530.5 230.0L537.4 232.8L544.2 232.8M393.2 243.2L400.1 242.4L407.0 250.5L413.8 246.2L420.7 243.3L427.6 243.7L434.4 241.2L441.3 237.9L448.2 241.2L455.0 238.2L461.9 232.6L468.8 233.6L475.6 229.3L482.5 234.0L489.3 236.9L496.2 244.2L503.1 239.1L509.9 241.1L516.8 238.8L523.7 238.7L530.5 244.2L537.4 247.4L544.2 246.3M393.2 242.2L400.1 244.4L407.0 241.1L413.8 242.5L420.7 243.4L427.6 238.8L434.4 236.3L441.3 228.4L448.2 222.6L455.0 220.7L461.9 222.1L468.8 220.5L475.6 213.7L482.5 206.2L489.3 213.2L496.2 209.9L503.1 210.2L509.9 221.6L516.8 220.8L523.7 219.1L530.5 230.0L537.4 235.6L544.2 243.2M393.2 236.2L400.1 236.0L407.0 243.3L413.8 234.3L420.7 235.2L427.6 235.0L434.4 235.7L441.3 242.6L448.2 245.2L455.0 245.9L461.9 236.9L468.8 240.6L475.6 240.6L482.5 240.7L489.3 238.3L496.2 237.3L503.1 237.5L509.9 242.1L516.8 250.0L523.7 244.2L530.5 240.9L537.4 236.5L544.2 241.8M393.2 244.8L400.1 245.0L407.0 240.8L413.8 237.8L420.7 234.5L427.6 240.6L434.4 243.7L441.3 238.0L448.2 227.6L455.0 227.9L461.9 230.9L468.8 224.1L475.6 220.0L482.5 220.3L489.3 224.3L496.2 225.6L503.1 228.3L509.9 235.8L516.8 235.1L523.7 232.1L530.5 237.7L537.4 237.9L544.2 253.7M393.2 243.4L400.1 247.3L407.0 247.0L413.8 253.8L420.7 244.2L427.6 238.1L434.4 239.2L441.3 234.9L448.2 222.4L455.0 226.1L461.9 226.5L468.8 221.2L475.6 225.1L482.5 218.5L489.3 217.7L496.2 216.9L503.1 227.2L509.9 236.7L516.8 239.6L523.7 240.3L530.5 236.4L537.4 240.2L544.2 252.5M393.2 238.9L400.1 238.1L407.0 234.9L413.8 243.3L420.7 241.3L427.6 239.4L434.4 234.4L441.3 229.6L448.2 216.7L455.0 224.7L461.9 228.1L468.8 223.1L475.6 217.2L482.5 209.1L489.3 217.1L496.2 215.4L503.1 221.4L509.9 226.5L516.8 230.8L523.7 232.7L530.5 231.7L537.4 229.4L544.2 230.8M393.2 238.3L400.1 241.8L407.0 246.3L413.8 244.0L420.7 244.0L427.6 237.9L434.4 238.6L441.3 230.1L448.2 219.4L455.0 226.9L461.9 228.4L468.8 223.1L475.6 220.4L482.5 207.7L489.3 212.7L496.2 215.8L503.1 217.3L509.9 224.9L516.8 221.7L523.7 225.5L530.5 229.8L537.4 235.1L544.2 233.7M393.2 230.3L400.1 237.6L407.0 237.2L413.8 239.6L420.7 236.8L427.6 235.8L434.4 235.3L441.3 229.8L448.2 220.3L455.0 227.5L461.9 226.2L468.8 219.4L475.6 223.1L482.5 217.4L489.3 225.5L496.2 231.8L503.1 232.3L509.9 235.6L516.8 234.0L523.7 233.7L530.5 230.1L537.4 230.1L544.2 234.4M393.2 245.5L400.1 249.7L407.0 252.3L413.8 248.7L420.7 246.1L427.6 253.2L434.4 252.3L441.3 242.1L448.2 238.3L455.0 244.7L461.9 238.1L468.8 235.9L475.6 236.0L482.5 237.1L489.3 240.0L496.2 235.5L503.1 235.2L509.9 238.8L516.8 243.1L523.7 245.6L530.5 245.0L537.4 248.4L544.2 253.3M393.2 246.1L400.1 243.1L407.0 245.4L413.8 248.3L420.7 246.0L427.6 241.1L434.4 242.0L441.3 239.9L448.2 231.4L455.0 232.8L461.9 232.7L468.8 235.2L475.6 233.1L482.5 229.1L489.3 238.1L496.2 231.8L503.1 234.5L509.9 240.1L516.8 233.3L523.7 236.6L530.5 241.9L537.4 243.3L544.2 259.7M393.2 252.0L400.1 260.1L407.0 259.0L413.8 252.8L420.7 258.3L427.6 252.4L434.4 250.0L441.3 244.6L448.2 230.2L455.0 240.9L461.9 244.0L468.8 235.1L475.6 232.5L482.5 229.0L489.3 238.0L496.2 234.4L503.1 237.1L509.9 247.9L516.8 247.7L523.7 243.0L530.5 243.1L537.4 246.3L544.2 259.3M393.2 244.0L400.1 246.2L407.0 242.2L413.8 242.1L420.7 247.1L427.6 248.2L434.4 242.8L441.3 241.3L448.2 240.2L455.0 239.2L461.9 243.2L468.8 243.4L475.6 244.2L482.5 242.6L489.3 239.4L496.2 241.6L503.1 246.5L509.9 239.4L516.8 240.1L523.7 243.2L530.5 239.7L537.4 235.0L544.2 237.7M393.2 245.9L400.1 239.8L407.0 240.6L413.8 231.2L420.7 238.3L427.6 239.8L434.4 240.9L441.3 237.6L448.2 236.8L455.0 242.3L461.9 245.9L468.8 240.7L475.6 239.1L482.5 236.9L489.3 230.3L496.2 230.0L503.1 230.5L509.9 237.2L516.8 237.2L523.7 238.9L530.5 240.3L537.4 238.6L544.2 237.6M393.2 245.7L400.1 249.1L407.0 244.9L413.8 244.0L420.7 244.7L427.6 246.0L434.4 248.3L441.3 248.1L448.2 240.8L455.0 240.9L461.9 242.8L468.8 243.3L475.6 238.7L482.5 240.3L489.3 243.6L496.2 239.1L503.1 242.4L509.9 243.4L516.8 242.5L523.7 242.7L530.5 238.0L537.4 243.2L544.2 256.1M393.2 243.3L400.1 245.8L407.0 247.0L413.8 249.8L420.7 245.4L427.6 237.2L434.4 236.6L441.3 234.4L448.2 222.6L455.0 230.9L461.9 228.3L468.8 222.1L475.6 220.2L482.5 216.6L489.3 221.7L496.2 224.2L503.1 222.8L509.9 229.1L516.8 232.9L523.7 232.7L530.5 241.1L537.4 236.5L544.2 243.5M393.2 235.5L400.1 240.0L407.0 239.2L413.8 242.4L420.7 238.1L427.6 238.9L434.4 234.7L441.3 227.2L448.2 218.0L455.0 228.4L461.9 233.3L468.8 233.2L475.6 225.2L482.5 223.7L489.3 225.6L496.2 228.2L503.1 230.8L509.9 235.0L516.8 232.9L523.7 231.1L530.5 233.1L537.4 229.6L544.2 236.4M393.2 236.8L400.1 236.0L407.0 241.4L413.8 244.2L420.7 240.7L427.6 235.5L434.4 232.4L441.3 223.8L448.2 211.0L455.0 223.5L461.9 219.0L468.8 213.8L475.6 210.2L482.5 204.5L489.3 209.5L496.2 210.6L503.1 214.0L509.9 224.7L516.8 225.8L523.7 224.3L530.5 229.7L537.4 228.6L544.2 239.0M393.2 244.1L400.1 242.8L407.0 245.3L413.8 246.1L420.7 243.8L427.6 242.5L434.4 242.6L441.3 243.5L448.2 246.9L455.0 247.1L461.9 248.3L468.8 241.5L475.6 244.6L482.5 244.4L489.3 245.3L496.2 244.7L503.1 242.9L509.9 239.4L516.8 241.2L523.7 241.6L530.5 244.0L537.4 243.1L544.2 252.3M393.2 240.0L400.1 241.5L407.0 245.8L413.8 241.1L420.7 240.9L427.6 235.4L434.4 235.7L441.3 231.1L448.2 220.7L455.0 220.6L461.9 221.7L468.8 227.4L475.6 222.6L482.5 213.5L489.3 218.3L496.2 215.7L503.1 220.7L509.9 227.2L516.8 228.8L523.7 233.0L530.5 233.4L537.4 235.6L544.2 251.7M393.2 248.2L400.1 246.5L407.0 244.4L413.8 240.6L420.7 245.5L427.6 236.6L434.4 234.7L441.3 234.6L448.2 230.7L455.0 235.7L461.9 240.8L468.8 239.3L475.6 234.7L482.5 235.2L489.3 233.1L496.2 234.3L503.1 236.0L509.9 234.5L516.8 236.7L523.7 240.8L530.5 247.3L537.4 241.8L544.2 242.0M393.2 236.0L400.1 236.3L407.0 239.8L413.8 238.4L420.7 237.6L427.6 238.1L434.4 237.2L441.3 241.4L448.2 238.4L455.0 238.5L461.9 237.5L468.8 238.4L475.6 239.4L482.5 238.3L489.3 236.2L496.2 238.4L503.1 237.6L509.9 240.4L516.8 238.3L523.7 238.4L530.5 242.3L537.4 237.1L544.2 249.1M393.2 247.7L400.1 253.1L407.0 257.8L413.8 254.6L420.7 256.9L427.6 253.6L434.4 245.8L441.3 247.6L448.2 245.3L455.0 245.1L461.9 245.7L468.8 246.2L475.6 241.7L482.5 243.3L489.3 244.1L496.2 244.7L503.1 249.9L509.9 248.6L516.8 248.3L523.7 246.4L530.5 245.7L537.4 243.0L544.2 252.2M393.2 244.0L400.1 244.6L407.0 243.0L413.8 242.6L420.7 240.7L427.6 236.7L434.4 231.2L441.3 232.0L448.2 223.1L455.0 231.4L461.9 234.2L468.8 230.6L475.6 231.9L482.5 228.0L489.3 228.7L496.2 229.9L503.1 231.3L509.9 238.1L516.8 238.9L523.7 234.3L530.5 236.3L537.4 238.0L544.2 244.9M393.2 235.0L400.1 237.8L407.0 237.9L413.8 237.6L420.7 238.3L427.6 241.0L434.4 240.9L441.3 236.1L448.2 236.9L455.0 236.4L461.9 234.0L468.8 233.3L475.6 230.3L482.5 234.8L489.3 231.4L496.2 232.9L503.1 231.8L509.9 234.7L516.8 227.4L523.7 229.1L530.5 238.3L537.4 240.4L544.2 240.8M393.2 242.8L400.1 243.8L407.0 243.7L413.8 245.9L420.7 251.7L427.6 244.5L434.4 236.9L441.3 236.0L448.2 224.7L455.0 227.9L461.9 234.0L468.8 229.4L475.6 230.5L482.5 220.9L489.3 225.7L496.2 227.6L503.1 231.4L509.9 238.3L516.8 235.8L523.7 234.0L530.5 236.7L537.4 242.0L544.2 253.0M393.2 244.5L400.1 254.3L407.0 256.4L413.8 254.8L420.7 252.8L427.6 245.5L434.4 240.1L441.3 231.6L448.2 219.1L455.0 226.5L461.9 229.9L468.8 223.1L475.6 218.4L482.5 208.9L489.3 220.4L496.2 213.3L503.1 226.1L509.9 241.2L516.8 233.9L523.7 228.0L530.5 234.0L537.4 239.4L544.2 238.8M393.2 239.7L400.1 237.8L407.0 243.5L413.8 243.6L420.7 243.0L427.6 244.8L434.4 239.3L441.3 230.0L448.2 211.7L455.0 223.1L461.9 225.0L468.8 217.6L475.6 216.5L482.5 209.1L489.3 211.5L496.2 208.3L503.1 220.3L509.9 229.7L516.8 231.3L523.7 227.0L530.5 227.4L537.4 236.3L544.2 241.0M393.2 239.9L400.1 242.2L407.0 238.8L413.8 239.7L420.7 242.6L427.6 245.4L434.4 246.9L441.3 241.9L448.2 236.5L455.0 243.2L461.9 243.1L468.8 235.8L475.6 238.8L482.5 238.0L489.3 236.0L496.2 242.0L503.1 241.2L509.9 242.2L516.8 238.7L523.7 245.4L530.5 248.1L537.4 244.8L544.2 244.6M393.2 247.4L400.1 244.9L407.0 241.5L413.8 246.2L420.7 249.6L427.6 248.4L434.4 248.9L441.3 254.9L448.2 253.1L455.0 248.1L461.9 249.2L468.8 247.5L475.6 252.8L482.5 251.1L489.3 251.4L496.2 253.1L503.1 256.4L509.9 253.0L516.8 250.3L523.7 248.5L530.5 246.1L537.4 244.9L544.2 254.2M393.2 246.2L400.1 245.1L407.0 250.9L413.8 249.2L420.7 251.9L427.6 240.9L434.4 240.6L441.3 227.0L448.2 216.1L455.0 221.2L461.9 222.8L468.8 216.0L475.6 207.8L482.5 213.9L489.3 209.5L496.2 211.4L503.1 220.5L509.9 235.5L516.8 225.3L523.7 233.4L530.5 232.2L537.4 239.8L544.2 256.0M393.2 238.1L400.1 238.1L407.0 241.4L413.8 243.4L420.7 244.2L427.6 235.6L434.4 231.5L441.3 227.2L448.2 194.4L455.0 206.7L461.9 216.8L468.8 207.6L475.6 193.6L482.5 193.1L489.3 209.6L496.2 202.6L503.1 208.2L509.9 225.9L516.8 209.9L523.7 224.2L530.5 226.6L537.4 232.1L544.2 248.0M393.2 243.0L400.1 251.8L407.0 247.5L413.8 250.3L420.7 248.7L427.6 243.0L434.4 240.7L441.3 238.0L448.2 207.0L455.0 212.7L461.9 224.6L468.8 219.4L475.6 214.0L482.5 205.5L489.3 205.8L496.2 218.1L503.1 213.3L509.9 225.2L516.8 229.1L523.7 224.8L530.5 236.3L537.4 239.6L544.2 246.2M393.2 244.7L400.1 245.6L407.0 248.9L413.8 249.8L420.7 251.4L427.6 245.9L434.4 239.7L441.3 228.4L448.2 208.4L455.0 211.1L461.9 213.9L468.8 203.7L475.6 205.5L482.5 183.3L489.3 204.7L496.2 189.4L503.1 207.8L509.9 210.1L516.8 222.8L523.7 221.6L530.5 231.9L537.4 234.9L544.2 258.0M393.2 239.2L400.1 245.9L407.0 245.9L413.8 249.1L420.7 245.4L427.6 240.2L434.4 235.0L441.3 223.2L448.2 198.1L455.0 220.6L461.9 202.6L468.8 199.0L475.6 199.3L482.5 183.3L489.3 192.2L496.2 183.9L503.1 204.4L509.9 215.9L516.8 217.1L523.7 209.0L530.5 235.1L537.4 232.4L544.2 242.6M393.2 244.8L400.1 246.3L407.0 249.1L413.8 253.3L420.7 248.7L427.6 243.3L434.4 240.1L441.3 221.3L448.2 206.6L455.0 225.4L461.9 217.8L468.8 223.7L475.6 209.7L482.5 195.8L489.3 209.9L496.2 212.7L503.1 217.3L509.9 237.4L516.8 231.5L523.7 224.7L530.5 227.9L537.4 237.7L544.2 256.1M393.2 246.1L400.1 249.5L407.0 252.1L413.8 252.4L420.7 251.5L427.6 247.3L434.4 240.9L441.3 224.8L448.2 212.4L455.0 231.2L461.9 220.6L468.8 210.2L475.6 214.2L482.5 210.2L489.3 211.0L496.2 193.4L503.1 222.0L509.9 223.4L516.8 230.7L523.7 224.1L530.5 222.6L537.4 238.5L544.2 256.0M393.2 244.1L400.1 251.2L407.0 250.3L413.8 252.4L420.7 253.3L427.6 247.9L434.4 240.7L441.3 234.1L448.2 213.8L455.0 223.7L461.9 222.3L468.8 209.8L475.6 206.9L482.5 187.6L489.3 194.3L496.2 207.2L503.1 209.6L509.9 226.4L516.8 240.6L523.7 232.4L530.5 223.5L537.4 241.8L544.2 256.7M393.2 240.0L400.1 250.4L407.0 247.1L413.8 248.6L420.7 247.7L427.6 240.9L434.4 239.0L441.3 230.0L448.2 213.8L455.0 210.0L461.9 219.7L468.8 229.2L475.6 211.3L482.5 193.1L489.3 207.6L496.2 201.2L503.1 208.9L509.9 234.8L516.8 235.0L523.7 227.6L530.5 218.4L537.4 237.8L544.2 254.0" fill="none" stroke="#bababa" stroke-width="0.5" stroke-linejoin="round"/>
<path d="M393.2 244.6L400.1 246.8L407.0 247.9L413.8 248.2L420.7 247.9L427.6 244.6L434.4 242.1L441.3 235.0L448.2 224.5L455.0 230.0L461.9 230.8L468.8 226.1L475.6 223.4L482.5 216.5L489.3 222.0L496.2 221.4L503.1 226.1L509.9 234.1L516.8 235.0L523.7 235.8L530.5 238.3L537.4 241.0L544.2 253.7" fill="none" stroke="#0c0c0c" stroke-width="1.3" stroke-linejoin="round"/>
</g>
<g stroke="#b6b6b6" stroke-width="0.85" fill="none">
<rect x="18.30" y="6.70" width="150.20" height="118.55"/>
<path d="M45.61 125.25v-1.6M45.61 6.70v1.6M79.75 125.25v-1.6M79.75 6.70v1.6M113.88 125.25v-1.6M113.88 6.70v1.6M148.02 125.25v-1.6M148.02 6.70v1.6M18.30 101.54h1.6M168.50 101.54h-1.6M18.30 77.83h1.6M168.50 77.83h-1.6M18.30 54.12h1.6M168.50 54.12h-1.6M18.30 30.41h1.6M168.50 30.41h-1.6"/>
</g>
<g font-family="Liberation Sans, Arial, sans-serif" font-size="6.7" fill="#333">
<text x="16.20" y="127.95" text-anchor="end">0</text>
<text x="16.20" y="104.24" text-anchor="end">0.2</text>
<text x="16.20" y="80.53" text-anchor="end">0.4</text>
<text x="16.20" y="56.82" text-anchor="end">0.6</text>
<text x="16.20" y="33.11" text-anchor="end">0.8</text>
<text x="16.20" y="9.40" text-anchor="end">1</text>
<text x="45.61" y="134.55" text-anchor="middle">5</text>
<text x="79.75" y="134.55" text-anchor="middle">10</text>
<text x="113.88" y="134.55" text-anchor="middle">15</text>
<text x="148.02" y="134.55" text-anchor="middle">20</text>
</g>
<g stroke="#b6b6b6" stroke-width="0.85" fill="none">
<rect x="18.30" y="177.40" width="150.20" height="118.75"/>
<path d="M45.61 296.15v-1.6M45.61 177.40v1.6M79.75 296.15v-1.6M79.75 177.40v1.6M113.88 296.15v-1.6M113.88 177.40v1.6M148.02 296.15v-1.6M148.02 177.40v1.6M18.30 272.40h1.6M168.50 272.40h-1.6M18.30 248.65h1.6M168.50 248.65h-1.6M18.30 224.90h1.6M168.50 224.90h-1.6M18.30 201.15h1.6M168.50 201.15h-1.6"/>
</g>
<g font-family="Liberation Sans, Arial, sans-serif" font-size="6.7" fill="#333">
<text x="16.20" y="298.85" text-anchor="end">0</text>
<text x="16.20" y="275.10" text-anchor="end">0.2</text>
<text x="16.20" y="251.35" text-anchor="end">0.4</text>
<text x="16.20" y="227.60" text-anchor="end">0.6</text>
<text x="16.20" y="203.85" text-anchor="end">0.8</text>
<text x="16.20" y="180.10" text-anchor="end">1</text>
<text x="45.61" y="305.45" text-anchor="middle">5</text>
<text x="79.75" y="305.45" text-anchor="middle">10</text>
<text x="113.88" y="305.45" text-anchor="middle">15</text>
<text x="148.02" y="305.45" text-anchor="middle">20</text>
</g>
<g stroke="#b6b6b6" stroke-width="0.85" fill="none">
<rect x="204.00" y="6.70" width="150.20" height="118.55"/>
<path d="M231.31 125.25v-1.6M231.31 6.70v1.6M265.45 125.25v-1.6M265.45 6.70v1.6M299.58 125.25v-1.6M299.58 6.70v1.6M333.72 125.25v-1.6M333.72 6.70v1.6M204.00 101.54h1.6M354.20 101.54h-1.6M204.00 77.83h1.6M354.20 77.83h-1.6M204.00 54.12h1.6M354.20 54.12h-1.6M204.00 30.41h1.6M354.20 30.41h-1.6"/>
</g>
<g font-family="Liberation Sans, Arial, sans-serif" font-size="6.7" fill="#333">
<text x="201.90" y="127.95" text-anchor="end">0</text>
<text x="201.90" y="104.24" text-anchor="end">0.2</text>
<text x="201.90" y="80.53" text-anchor="end">0.4</text>
<text x="201.90" y="56.82" text-anchor="end">0.6</text>
<text x="201.90" y="33.11" text-anchor="end">0.8</text>
<text x="201.90" y="9.40" text-anchor="end">1</text>
<text x="231.31" y="134.55" text-anchor="middle">5</text>
<text x="265.45" y="134.55" text-anchor="middle">10</text>
<text x="299.58" y="134.55" text-anchor="middle">15</text>
<text x="333.72" y="134.55" text-anchor="middle">20</text>
</g>
<g stroke="#b6b6b6" stroke-width="0.85" fill="none">
<rect x="204.00" y="177.40" width="150.20" height="118.75"/>
<path d="M231.31 296.15v-1.6M231.31 177.40v1.6M265.45 296.15v-1.6M265.45 177.40v1.6M299.58 296.15v-1.6M299.58 177.40v1.6M333.72 296.15v-1.6M333.72 177.40v1.6M204.00 272.40h1.6M354.20 272.40h-1.6M204.00 248.65h1.6M354.20 248.65h-1.6M204.00 224.90h1.6M354.20 224.90h-1.6M204.00 201.15h1.6M354.20 201.15h-1.6"/>
</g>
<g font-family="Liberation Sans, Arial, sans-serif" font-size="6.7" fill="#333">
<text x="201.90" y="298.85" text-anchor="end">0</text>
<text x="201.90" y="275.10" text-anchor="end">0.2</text>
<text x="201.90" y="251.35" text-anchor="end">0.4</text>
<text x="201.90" y="227.60" text-anchor="end">0.6</text>
<text x="201.90" y="203.85" text-anchor="end">0.8</text>
<text x="201.90" y="180.10" text-anchor="end">1</text>
<text x="231.31" y="305.45" text-anchor="middle">5</text>
<text x="265.45" y="305.45" text-anchor="middle">10</text>
<text x="299.58" y="305.45" text-anchor="middle">15</text>
<text x="333.72" y="305.45" text-anchor="middle">20</text>
</g>
<g stroke="#b6b6b6" stroke-width="0.85" fill="none">
<rect x="393.25" y="6.70" width="151.00" height="118.55"/>
<path d="M420.70 125.25v-1.6M420.70 6.70v1.6M455.02 125.25v-1.6M455.02 6.70v1.6M489.34 125.25v-1.6M489.34 6.70v1.6M523.66 125.25v-1.6M523.66 6.70v1.6M393.25 101.54h1.6M544.25 101.54h-1.6M393.25 77.83h1.6M544.25 77.83h-1.6M393.25 54.12h1.6M544.25 54.12h-1.6M393.25 30.41h1.6M544.25 30.41h-1.6"/>
</g>
<g font-family="Liberation Sans, Arial, sans-serif" font-size="6.7" fill="#333">
<text x="391.15" y="127.95" text-anchor="end">0</text>
<text x="391.15" y="104.24" text-anchor="end">0.2</text>
<text x="391.15" y="80.53" text-anchor="end">0.4</text>
<text x="391.15" y="56.82" text-anchor="end">0.6</text>
<text x="391.15" y="33.11" text-anchor="end">0.8</text>
<text x="391.15" y="9.40" text-anchor="end">1</text>
<text x="420.70" y="134.55" text-anchor="middle">5</text>
<text x="455.02" y="134.55" text-anchor="middle">10</text>
<text x="489.34" y="134.55" text-anchor="middle">15</text>
<text x="523.66" y="134.55" text-anchor="middle">20</text>
</g>
<g stroke="#b6b6b6" stroke-width="0.85" fill="none">
<rect x="393.25" y="177.40" width="151.00" height="118.75"/>
<path d="M420.70 296.15v-1.6M420.70 177.40v1.6M455.02 296.15v-1.6M455.02 177.40v1.6M489.34 296.15v-1.6M489.34 177.40v1.6M523.66 296.15v-1.6M523.66 177.40v1.6M393.25 272.40h1.6M544.25 272.40h-1.6M393.25 248.65h1.6M544.25 248.65h-1.6M393.25 224.90h1.6M544.25 224.90h-1.6M393.25 201.15h1.6M544.25 201.15h-1.6"/>
</g>
<g font-family="Liberation Sans, Arial, sans-serif" font-size="6.7" fill="#333">
<text x="391.15" y="298.85" text-anchor="end">0</text>
<text x="391.15" y="275.10" text-anchor="end">0.2</text>
<text x="391.15" y="251.35" text-anchor="end">0.4</text>
<text x="391.15" y="227.60" text-anchor="end">0.6</text>
<text x="391.15" y="203.85" text-anchor="end">0.8</text>
<text x="391.15" y="180.10" text-anchor="end">1</text>
<text x="420.70" y="305.45" text-anchor="middle">5</text>
<text x="455.02" y="305.45" text-anchor="middle">10</text>
<text x="489.34" y="305.45" text-anchor="middle">15</text>
<text x="523.66" y="305.45" text-anchor="middle">20</text>
</g>
<g font-family="Liberation Serif, Times New Roman, serif" font-size="11.6" fill="#111" stroke="#111" stroke-width="0.12">
<text x="68.7" y="159.1" textLength="46.2" lengthAdjust="spacingAndGlyphs">(<tspan font-weight="bold">a</tspan>) Corn</text>
<text x="242.7" y="159.1" textLength="69.6" lengthAdjust="spacingAndGlyphs">(<tspan font-weight="bold">b</tspan>) Sorghum</text>
<text x="421.3" y="159.1" textLength="91.3" lengthAdjust="spacingAndGlyphs">(<tspan font-weight="bold">c</tspan>) Winter Wheat</text>
<text x="37.0" y="330.0" textLength="109.1" lengthAdjust="spacingAndGlyphs">(<tspan font-weight="bold">d</tspan>) Fallow Cropland</text>
<text x="252.7" y="330.0" textLength="50.2" lengthAdjust="spacingAndGlyphs">(<tspan font-weight="bold">e</tspan>) Grass</text>
<text x="440.5" y="330.0" textLength="53.5" lengthAdjust="spacingAndGlyphs">(<tspan font-weight="bold">f</tspan>) Others</text>
</g>
</svg>
</body></html>
